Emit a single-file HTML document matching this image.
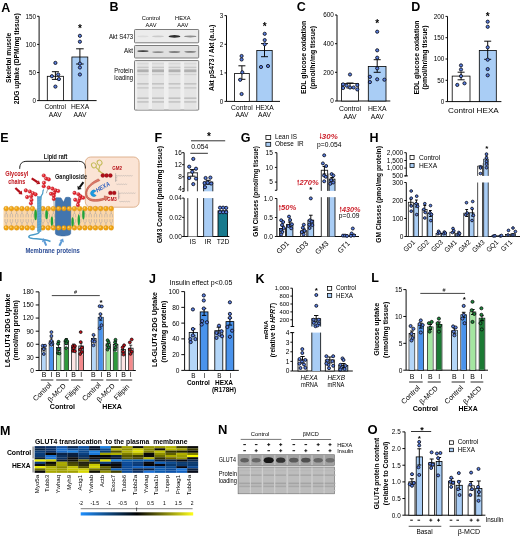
<!DOCTYPE html>
<html><head><meta charset="utf-8"><title>Figure</title>
<style>
html,body{margin:0;padding:0;background:#fff;}
body{width:520px;height:536px;overflow:hidden;}
svg{display:block;filter:blur(0.25px);}
</style></head><body>
<svg width="520" height="536" viewBox="0 0 520 536" font-family="'Liberation Sans', Arial, sans-serif">
<rect x="0" y="0" width="520" height="536" fill="#fff"/>
<text x="1.2" y="11.5" font-size="12.5" font-weight="bold">A</text>
<line x1="39.1" y1="16.3" x2="39.1" y2="100.6" stroke="#000" stroke-width="0.95" />
<line x1="37.1" y1="16.3" x2="39.1" y2="16.3" stroke="#000" stroke-width="0.95" />
<text x="35.9" y="18.57" font-size="6.3" text-anchor="end">150</text>
<line x1="37.1" y1="44.4" x2="39.1" y2="44.4" stroke="#000" stroke-width="0.95" />
<text x="35.9" y="46.67" font-size="6.3" text-anchor="end">100</text>
<line x1="37.1" y1="72.5" x2="39.1" y2="72.5" stroke="#000" stroke-width="0.95" />
<text x="35.9" y="74.77" font-size="6.3" text-anchor="end">50</text>
<line x1="37.1" y1="100.6" x2="39.1" y2="100.6" stroke="#000" stroke-width="0.95" />
<text x="35.9" y="102.87" font-size="6.3" text-anchor="end">0</text>
<line x1="39.1" y1="100.6" x2="96.6" y2="100.6" stroke="#000" stroke-width="0.95" />
<rect x="47.3" y="76.3" width="16.1" height="24.3" fill="#fff" stroke="#000" stroke-width="0.8" />
<rect x="71.9" y="57" width="15.9" height="43.6" fill="#a9cdf5" stroke="#000" stroke-width="0.8" />
<line x1="55.4" y1="71.7" x2="55.4" y2="79.4" stroke="#000" stroke-width="0.95" />
<line x1="51.9" y1="71.7" x2="58.9" y2="71.7" stroke="#000" stroke-width="0.95" />
<line x1="51.9" y1="79.4" x2="58.9" y2="79.4" stroke="#000" stroke-width="0.95" />
<line x1="79.9" y1="48.8" x2="79.9" y2="64" stroke="#000" stroke-width="0.95" />
<line x1="76.1" y1="48.8" x2="83.7" y2="48.8" stroke="#000" stroke-width="0.95" />
<line x1="76.1" y1="64" x2="83.7" y2="64" stroke="#000" stroke-width="0.95" />
<circle cx="55.4" cy="62.9" r="1.6" fill="#5a80e2" stroke="#0a0c18" stroke-width="0.85"/>
<circle cx="51.9" cy="76.2" r="1.6" fill="#5a80e2" stroke="#0a0c18" stroke-width="0.85"/>
<circle cx="58.2" cy="74.5" r="1.6" fill="#5a80e2" stroke="#0a0c18" stroke-width="0.85"/>
<circle cx="58.9" cy="79.1" r="1.6" fill="#5a80e2" stroke="#0a0c18" stroke-width="0.85"/>
<circle cx="55.4" cy="86.6" r="1.6" fill="#5a80e2" stroke="#0a0c18" stroke-width="0.85"/>
<circle cx="79.9" cy="35.8" r="1.6" fill="#5a80e2" stroke="#0a0c18" stroke-width="0.85"/>
<circle cx="79.9" cy="41.7" r="1.6" fill="#5a80e2" stroke="#0a0c18" stroke-width="0.85"/>
<circle cx="79.9" cy="63.6" r="1.6" fill="#5a80e2" stroke="#0a0c18" stroke-width="0.85"/>
<circle cx="79.9" cy="67.5" r="1.6" fill="#5a80e2" stroke="#0a0c18" stroke-width="0.85"/>
<circle cx="79.9" cy="74.5" r="1.6" fill="#5a80e2" stroke="#0a0c18" stroke-width="0.85"/>
<text x="79.9" y="31.7" font-size="10" text-anchor="middle" font-weight="bold">*</text>
<text x="55.3" y="109.4" font-size="6.7" text-anchor="middle">Control</text>
<text x="55.3" y="117.1" font-size="6.7" text-anchor="middle">AAV</text>
<text x="80" y="109.4" font-size="6.7" text-anchor="middle">HEXA</text>
<text x="80" y="117.1" font-size="6.7" text-anchor="middle">AAV</text>
<text x="11.5" y="57.8" font-size="6.8" textLength="50.2" lengthAdjust="spacingAndGlyphs" text-anchor="middle" font-weight="bold" transform="rotate(-90 11.5 57.8)">Skeletal muscle</text>
<text x="18.8" y="58.8" font-size="6.8" textLength="91" lengthAdjust="spacingAndGlyphs" text-anchor="middle" font-weight="bold" transform="rotate(-90 18.8 58.8)">2DG uptake (DPM/mg tissue)</text>
<text x="109.6" y="11" font-size="12.5" font-weight="bold">B</text>
<text x="151" y="19.6" font-size="5.7" text-anchor="middle">Control</text>
<text x="151" y="26.8" font-size="5.7" text-anchor="middle">AAV</text>
<text x="182.8" y="19.6" font-size="5.7" text-anchor="middle">HEXA</text>
<text x="182.8" y="26.8" font-size="5.7" text-anchor="middle">AAV</text>
<text x="108.9" y="38.7" font-size="6.4" textLength="24.2" lengthAdjust="spacingAndGlyphs">Akt S473</text>
<text x="124" y="52.7" font-size="6.4" textLength="9" lengthAdjust="spacingAndGlyphs">Akt</text>
<text x="114.3" y="72.8" font-size="6.4" textLength="18.6" lengthAdjust="spacingAndGlyphs">Protein</text>
<text x="114.3" y="79.9" font-size="6.4" textLength="18.6" lengthAdjust="spacingAndGlyphs">loading</text>
<rect x="134.5" y="29.5" width="64.2" height="13.3" rx="0.8" fill="#ececec" stroke="#6e6e6e" stroke-width="0.9"/>
<rect x="134.5" y="45.5" width="64.2" height="12.5" rx="0.8" fill="#e0e0e0" stroke="#6e6e6e" stroke-width="0.9"/>
<rect x="134.5" y="60.6" width="64.2" height="49.5" rx="0.8" fill="#efefef" stroke="#6e6e6e" stroke-width="0.9"/>
<ellipse cx="142.95" cy="36.4" rx="5.65" ry="0.8" fill="#dcdcdc"/>
<ellipse cx="158" cy="36.4" rx="6" ry="0.9" fill="#cacaca"/>
<ellipse cx="174.5" cy="36.4" rx="5.9" ry="1.3" fill="#303030"/>
<ellipse cx="190.3" cy="36.4" rx="6.1" ry="1" fill="#8e8e8e"/>
<ellipse cx="142.95" cy="51.1" rx="5.65" ry="0.9" fill="#3a3a3a"/>
<ellipse cx="158" cy="52.1" rx="6" ry="0.9" fill="#8a8a8a"/>
<ellipse cx="174.5" cy="52" rx="5.9" ry="0.9" fill="#808080"/>
<ellipse cx="190.3" cy="51.8" rx="6.1" ry="0.9" fill="#7a7a7a"/>
<rect x="137.3" y="61.5" width="11.3" height="48" fill="#e4e4e4" stroke="none" stroke-width="0.8" />
<rect x="152" y="61.5" width="12" height="48" fill="#e4e4e4" stroke="none" stroke-width="0.8" />
<rect x="168.6" y="61.5" width="11.8" height="48" fill="#e4e4e4" stroke="none" stroke-width="0.8" />
<rect x="184.2" y="61.5" width="12.2" height="48" fill="#e4e4e4" stroke="none" stroke-width="0.8" />
<rect x="137.3" y="63.1" width="11.3" height="1.2" fill="#d6d6d6" stroke="none" stroke-width="0.8" />
<rect x="137.3" y="66.7" width="11.3" height="1.4" fill="#c8c8c8" stroke="none" stroke-width="0.8" />
<rect x="137.3" y="69.4" width="11.3" height="2.8" fill="#b0b0b0" stroke="none" stroke-width="0.8" />
<rect x="137.3" y="73.9" width="11.3" height="1.2" fill="#d0d0d0" stroke="none" stroke-width="0.8" />
<rect x="137.3" y="83" width="11.3" height="1.6" fill="#c4c4c4" stroke="none" stroke-width="0.8" />
<rect x="137.3" y="87.2" width="11.3" height="1.4" fill="#c8c8c8" stroke="none" stroke-width="0.8" />
<rect x="137.3" y="97.4" width="11.3" height="1.6" fill="#c0c0c0" stroke="none" stroke-width="0.8" />
<rect x="137.3" y="101.1" width="11.3" height="1.6" fill="#c4c4c4" stroke="none" stroke-width="0.8" />
<rect x="152" y="63.1" width="12" height="1.2" fill="#d6d6d6" stroke="none" stroke-width="0.8" />
<rect x="152" y="66.7" width="12" height="1.4" fill="#c8c8c8" stroke="none" stroke-width="0.8" />
<rect x="152" y="69.4" width="12" height="2.8" fill="#b0b0b0" stroke="none" stroke-width="0.8" />
<rect x="152" y="73.9" width="12" height="1.2" fill="#d0d0d0" stroke="none" stroke-width="0.8" />
<rect x="152" y="83" width="12" height="1.6" fill="#c4c4c4" stroke="none" stroke-width="0.8" />
<rect x="152" y="87.2" width="12" height="1.4" fill="#c8c8c8" stroke="none" stroke-width="0.8" />
<rect x="152" y="97.4" width="12" height="1.6" fill="#c0c0c0" stroke="none" stroke-width="0.8" />
<rect x="152" y="101.1" width="12" height="1.6" fill="#c4c4c4" stroke="none" stroke-width="0.8" />
<rect x="168.6" y="63.1" width="11.8" height="1.2" fill="#d6d6d6" stroke="none" stroke-width="0.8" />
<rect x="168.6" y="66.7" width="11.8" height="1.4" fill="#c8c8c8" stroke="none" stroke-width="0.8" />
<rect x="168.6" y="69.4" width="11.8" height="2.8" fill="#b0b0b0" stroke="none" stroke-width="0.8" />
<rect x="168.6" y="73.9" width="11.8" height="1.2" fill="#d0d0d0" stroke="none" stroke-width="0.8" />
<rect x="168.6" y="83" width="11.8" height="1.6" fill="#c4c4c4" stroke="none" stroke-width="0.8" />
<rect x="168.6" y="87.2" width="11.8" height="1.4" fill="#c8c8c8" stroke="none" stroke-width="0.8" />
<rect x="168.6" y="97.4" width="11.8" height="1.6" fill="#c0c0c0" stroke="none" stroke-width="0.8" />
<rect x="168.6" y="101.1" width="11.8" height="1.6" fill="#c4c4c4" stroke="none" stroke-width="0.8" />
<rect x="184.2" y="63.1" width="12.2" height="1.2" fill="#d6d6d6" stroke="none" stroke-width="0.8" />
<rect x="184.2" y="66.7" width="12.2" height="1.4" fill="#c8c8c8" stroke="none" stroke-width="0.8" />
<rect x="184.2" y="69.4" width="12.2" height="2.8" fill="#b0b0b0" stroke="none" stroke-width="0.8" />
<rect x="184.2" y="73.9" width="12.2" height="1.2" fill="#d0d0d0" stroke="none" stroke-width="0.8" />
<rect x="184.2" y="83" width="12.2" height="1.6" fill="#c4c4c4" stroke="none" stroke-width="0.8" />
<rect x="184.2" y="87.2" width="12.2" height="1.4" fill="#c8c8c8" stroke="none" stroke-width="0.8" />
<rect x="184.2" y="97.4" width="12.2" height="1.6" fill="#c0c0c0" stroke="none" stroke-width="0.8" />
<rect x="184.2" y="101.1" width="12.2" height="1.6" fill="#c4c4c4" stroke="none" stroke-width="0.8" />
<line x1="226.5" y1="15.6" x2="226.5" y2="101.4" stroke="#000" stroke-width="0.95" />
<line x1="224.5" y1="15.6" x2="226.5" y2="15.6" stroke="#000" stroke-width="0.95" />
<text x="223.3" y="17.87" font-size="6.3" text-anchor="end">3</text>
<line x1="224.5" y1="44.3" x2="226.5" y2="44.3" stroke="#000" stroke-width="0.95" />
<text x="223.3" y="46.57" font-size="6.3" text-anchor="end">2</text>
<line x1="224.5" y1="72.9" x2="226.5" y2="72.9" stroke="#000" stroke-width="0.95" />
<text x="223.3" y="75.17" font-size="6.3" text-anchor="end">1</text>
<line x1="224.5" y1="101.4" x2="226.5" y2="101.4" stroke="#000" stroke-width="0.95" />
<text x="223.3" y="103.67" font-size="6.3" text-anchor="end">0</text>
<line x1="226.5" y1="101.4" x2="280" y2="101.4" stroke="#000" stroke-width="0.95" />
<rect x="234.6" y="73.5" width="14.7" height="27.9" fill="#fff" stroke="#000" stroke-width="0.8" />
<rect x="256.8" y="50.4" width="15.4" height="51" fill="#a9cdf5" stroke="#000" stroke-width="0.8" />
<line x1="241.9" y1="65.8" x2="241.9" y2="79.3" stroke="#000" stroke-width="0.95" />
<line x1="238.4" y1="65.8" x2="245.4" y2="65.8" stroke="#000" stroke-width="0.95" />
<line x1="238.4" y1="79.3" x2="245.4" y2="79.3" stroke="#000" stroke-width="0.95" />
<line x1="264.5" y1="43.6" x2="264.5" y2="56.7" stroke="#000" stroke-width="0.95" />
<line x1="261" y1="43.6" x2="268" y2="43.6" stroke="#000" stroke-width="0.95" />
<line x1="261" y1="56.7" x2="268" y2="56.7" stroke="#000" stroke-width="0.95" />
<circle cx="241.6" cy="56" r="1.6" fill="#5a80e2" stroke="#0a0c18" stroke-width="0.85"/>
<circle cx="241.6" cy="59.5" r="1.6" fill="#5a80e2" stroke="#0a0c18" stroke-width="0.85"/>
<circle cx="242.3" cy="72.3" r="1.6" fill="#5a80e2" stroke="#0a0c18" stroke-width="0.85"/>
<circle cx="240.2" cy="79.8" r="1.6" fill="#5a80e2" stroke="#0a0c18" stroke-width="0.85"/>
<circle cx="241.6" cy="94" r="1.6" fill="#5a80e2" stroke="#0a0c18" stroke-width="0.85"/>
<circle cx="264.7" cy="33.8" r="1.6" fill="#5a80e2" stroke="#0a0c18" stroke-width="0.85"/>
<circle cx="264.7" cy="40.1" r="1.6" fill="#5a80e2" stroke="#0a0c18" stroke-width="0.85"/>
<circle cx="264.7" cy="44.3" r="1.6" fill="#5a80e2" stroke="#0a0c18" stroke-width="0.85"/>
<circle cx="261" cy="67" r="1.6" fill="#5a80e2" stroke="#0a0c18" stroke-width="0.85"/>
<circle cx="268" cy="66" r="1.6" fill="#5a80e2" stroke="#0a0c18" stroke-width="0.85"/>
<text x="264.7" y="30.2" font-size="10" text-anchor="middle" font-weight="bold">*</text>
<text x="241.9" y="109.6" font-size="6.7" text-anchor="middle">Control</text>
<text x="241.9" y="117.3" font-size="6.7" text-anchor="middle">AAV</text>
<text x="264.5" y="109.6" font-size="6.7" text-anchor="middle">HEXA</text>
<text x="264.5" y="117.3" font-size="6.7" text-anchor="middle">AAV</text>
<text x="214" y="57.8" font-size="6.7" text-anchor="middle" font-weight="bold" transform="rotate(-90 214 57.8)">Akt pS473 / Akt (a.u.)</text>
<text x="296.8" y="11.3" font-size="12.5" font-weight="bold">C</text>
<line x1="337" y1="15" x2="337" y2="101" stroke="#000" stroke-width="0.95" />
<line x1="335" y1="15" x2="337" y2="15" stroke="#000" stroke-width="0.95" />
<text x="333.8" y="17.3" font-size="6.4" text-anchor="end">600</text>
<line x1="335" y1="43.7" x2="337" y2="43.7" stroke="#000" stroke-width="0.95" />
<text x="333.8" y="46" font-size="6.4" text-anchor="end">400</text>
<line x1="335" y1="72.3" x2="337" y2="72.3" stroke="#000" stroke-width="0.95" />
<text x="333.8" y="74.6" font-size="6.4" text-anchor="end">200</text>
<line x1="335" y1="101" x2="337" y2="101" stroke="#000" stroke-width="0.95" />
<text x="333.8" y="103.3" font-size="6.4" text-anchor="end">0</text>
<line x1="337" y1="101" x2="390.3" y2="101" stroke="#000" stroke-width="0.95" />
<rect x="341.6" y="83.5" width="16.8" height="17.5" fill="#fff" stroke="#000" stroke-width="0.8" />
<rect x="368.3" y="66.4" width="17.7" height="34.6" fill="#a9cdf5" stroke="#000" stroke-width="0.8" />
<line x1="350" y1="83" x2="350" y2="88" stroke="#000" stroke-width="0.95" />
<line x1="346.5" y1="83" x2="353.5" y2="83" stroke="#000" stroke-width="0.95" />
<line x1="346.5" y1="88" x2="353.5" y2="88" stroke="#000" stroke-width="0.95" />
<line x1="377.2" y1="59.7" x2="377.2" y2="72.3" stroke="#000" stroke-width="0.95" />
<line x1="373.7" y1="59.7" x2="380.7" y2="59.7" stroke="#000" stroke-width="0.95" />
<line x1="373.7" y1="72.3" x2="380.7" y2="72.3" stroke="#000" stroke-width="0.95" />
<circle cx="350" cy="74.5" r="1.6" fill="#5a80e2" stroke="#0a0c18" stroke-width="0.85"/>
<circle cx="343.1" cy="84.4" r="1.6" fill="#5a80e2" stroke="#0a0c18" stroke-width="0.85"/>
<circle cx="346.6" cy="85.6" r="1.6" fill="#5a80e2" stroke="#0a0c18" stroke-width="0.85"/>
<circle cx="350" cy="87.5" r="1.6" fill="#5a80e2" stroke="#0a0c18" stroke-width="0.85"/>
<circle cx="353.6" cy="87.5" r="1.6" fill="#5a80e2" stroke="#0a0c18" stroke-width="0.85"/>
<circle cx="357.3" cy="85" r="1.6" fill="#5a80e2" stroke="#0a0c18" stroke-width="0.85"/>
<circle cx="343.1" cy="88" r="1.6" fill="#5a80e2" stroke="#0a0c18" stroke-width="0.85"/>
<circle cx="357.3" cy="89.4" r="1.6" fill="#5a80e2" stroke="#0a0c18" stroke-width="0.85"/>
<circle cx="377.2" cy="31.7" r="1.6" fill="#5a80e2" stroke="#0a0c18" stroke-width="0.85"/>
<circle cx="377.2" cy="50.3" r="1.6" fill="#5a80e2" stroke="#0a0c18" stroke-width="0.85"/>
<circle cx="377.2" cy="57.7" r="1.6" fill="#5a80e2" stroke="#0a0c18" stroke-width="0.85"/>
<circle cx="377.2" cy="68.3" r="1.6" fill="#5a80e2" stroke="#0a0c18" stroke-width="0.85"/>
<circle cx="369.9" cy="76.8" r="1.6" fill="#5a80e2" stroke="#0a0c18" stroke-width="0.85"/>
<circle cx="377.2" cy="79.3" r="1.6" fill="#5a80e2" stroke="#0a0c18" stroke-width="0.85"/>
<circle cx="384.4" cy="79.7" r="1.6" fill="#5a80e2" stroke="#0a0c18" stroke-width="0.85"/>
<circle cx="369.9" cy="82.1" r="1.6" fill="#5a80e2" stroke="#0a0c18" stroke-width="0.85"/>
<text x="377.2" y="26.5" font-size="10" text-anchor="middle" font-weight="bold">*</text>
<text x="350" y="111.1" font-size="6.8" text-anchor="middle">Control</text>
<text x="350" y="118.9" font-size="6.8" text-anchor="middle">AAV</text>
<text x="377.2" y="111.1" font-size="6.8" text-anchor="middle">HEXA</text>
<text x="377.2" y="118.9" font-size="6.8" text-anchor="middle">AAV</text>
<text x="306.4" y="57.5" font-size="6.8" text-anchor="middle" font-weight="bold" transform="rotate(-90 306.4 57.5)">EDL glucose oxidation</text>
<text x="314.6" y="57.5" font-size="6.8" text-anchor="middle" font-weight="bold" transform="rotate(-90 314.6 57.5)">(pmol/hr/mg tissue)</text>
<text x="411.3" y="10.8" font-size="12.5" font-weight="bold">D</text>
<line x1="447.5" y1="16.4" x2="447.5" y2="101.6" stroke="#000" stroke-width="0.95" />
<line x1="445.5" y1="16.4" x2="447.5" y2="16.4" stroke="#000" stroke-width="0.95" />
<text x="444.3" y="18.7" font-size="6.4" text-anchor="end">200</text>
<line x1="445.5" y1="37.7" x2="447.5" y2="37.7" stroke="#000" stroke-width="0.95" />
<text x="444.3" y="40" font-size="6.4" text-anchor="end">150</text>
<line x1="445.5" y1="59" x2="447.5" y2="59" stroke="#000" stroke-width="0.95" />
<text x="444.3" y="61.3" font-size="6.4" text-anchor="end">100</text>
<line x1="445.5" y1="80.3" x2="447.5" y2="80.3" stroke="#000" stroke-width="0.95" />
<text x="444.3" y="82.6" font-size="6.4" text-anchor="end">50</text>
<line x1="445.5" y1="101.6" x2="447.5" y2="101.6" stroke="#000" stroke-width="0.95" />
<text x="444.3" y="103.9" font-size="6.4" text-anchor="end">0</text>
<line x1="447.5" y1="101.6" x2="501.4" y2="101.6" stroke="#000" stroke-width="0.95" />
<rect x="452.2" y="76.1" width="17.8" height="25.5" fill="#fff" stroke="#000" stroke-width="0.8" />
<rect x="479.3" y="50.4" width="17" height="51.2" fill="#a9cdf5" stroke="#000" stroke-width="0.8" />
<line x1="461.1" y1="72.2" x2="461.1" y2="79.8" stroke="#000" stroke-width="0.95" />
<line x1="457.6" y1="72.2" x2="464.6" y2="72.2" stroke="#000" stroke-width="0.95" />
<line x1="457.6" y1="79.8" x2="464.6" y2="79.8" stroke="#000" stroke-width="0.95" />
<line x1="487.7" y1="41.2" x2="487.7" y2="59.3" stroke="#000" stroke-width="0.95" />
<line x1="484.2" y1="41.2" x2="491.2" y2="41.2" stroke="#000" stroke-width="0.95" />
<line x1="484.2" y1="59.3" x2="491.2" y2="59.3" stroke="#000" stroke-width="0.95" />
<circle cx="461" cy="65.4" r="1.6" fill="#5a80e2" stroke="#0a0c18" stroke-width="0.85"/>
<circle cx="461" cy="69.5" r="1.6" fill="#5a80e2" stroke="#0a0c18" stroke-width="0.85"/>
<circle cx="461" cy="76.1" r="1.6" fill="#5a80e2" stroke="#0a0c18" stroke-width="0.85"/>
<circle cx="457.3" cy="84.9" r="1.6" fill="#5a80e2" stroke="#0a0c18" stroke-width="0.85"/>
<circle cx="464.5" cy="83.3" r="1.6" fill="#5a80e2" stroke="#0a0c18" stroke-width="0.85"/>
<circle cx="487.7" cy="21.7" r="1.6" fill="#5a80e2" stroke="#0a0c18" stroke-width="0.85"/>
<circle cx="487.7" cy="26.8" r="1.6" fill="#5a80e2" stroke="#0a0c18" stroke-width="0.85"/>
<circle cx="487.7" cy="47.3" r="1.6" fill="#5a80e2" stroke="#0a0c18" stroke-width="0.85"/>
<circle cx="487.7" cy="59.7" r="1.6" fill="#5a80e2" stroke="#0a0c18" stroke-width="0.85"/>
<circle cx="487.7" cy="69.1" r="1.6" fill="#5a80e2" stroke="#0a0c18" stroke-width="0.85"/>
<circle cx="487.7" cy="75.3" r="1.6" fill="#5a80e2" stroke="#0a0c18" stroke-width="0.85"/>
<text x="487.7" y="20.1" font-size="10" text-anchor="middle" font-weight="bold">*</text>
<text x="448" y="112.6" font-size="7.6" textLength="50.8" lengthAdjust="spacingAndGlyphs">Control HEXA</text>
<text x="418.5" y="57.5" font-size="6.9" text-anchor="middle" font-weight="bold" transform="rotate(-90 418.5 57.5)">EDL glucose oxidation</text>
<text x="427" y="57.5" font-size="6.9" text-anchor="middle" font-weight="bold" transform="rotate(-90 427 57.5)">(pmol/hr/mg tissue)</text>
<text x="0.2" y="141.8" font-size="12.5" font-weight="bold">E</text>
<rect x="85.3" y="157.0" width="53.8" height="50.2" rx="5.4" ry="5.4" fill="#fbe4d5" stroke="#d9a87f" stroke-width="0.85"/>
<path d="M19.7,168.8 C19.7,164 21.5,161.3 27,161.3 L78.5,161.3 C83.5,161.3 85.4,164 85.4,168.5" fill="none" stroke="#1a1a1a" stroke-width="1" />
<text x="43.8" y="159.1" font-size="6.6" textLength="23.6" lengthAdjust="spacingAndGlyphs" font-weight="bold" fill="#111">Lipid raft</text>
<text x="5.3" y="175.8" font-size="6.9" textLength="23" lengthAdjust="spacingAndGlyphs" font-weight="bold" fill="#c0141c">Glycosyl</text>
<text x="8.2" y="183.7" font-size="6.9" textLength="17.2" lengthAdjust="spacingAndGlyphs" font-weight="bold" fill="#c0141c">chains</text>
<text x="55" y="179.2" font-size="6.9" textLength="32" lengthAdjust="spacingAndGlyphs" font-weight="bold" fill="#151515">Ganglioside</text>
<line x1="15.4" y1="188" x2="20.1" y2="192.36" stroke="#b2101a" stroke-width="2.2" />
<polygon points="22.3,194.4 18.47,194.12 21.73,190.6" fill="#b2101a"/>
<line x1="31.7" y1="178.4" x2="37.59" y2="182.26" stroke="#b2101a" stroke-width="2.2" />
<polygon points="40.1,183.9 36.28,184.26 38.9,180.25" fill="#b2101a"/>
<line x1="83.4" y1="182.2" x2="79.58" y2="187.38" stroke="#111" stroke-width="2" />
<polygon points="77.8,189.8 77.49,185.84 81.67,188.93" fill="#111"/>
<rect x="3.5" y="208.6" width="110.5" height="19.3" fill="#fbd7a8" stroke="none" stroke-width="0.8" />
<path d="M6.2,210.9 L6.2,213.1 M6.2,213.1 L5,214.7 L5,217.4 M6.2,213.1 L7.4,214.7 L7.4,217.4" fill="none" stroke="#9696a6" stroke-width="0.45" />
<path d="M6.2,225.6 L6.2,223.4 M6.2,223.4 L5,221.8 L5,219.1 M6.2,223.4 L7.4,221.8 L7.4,219.1" fill="none" stroke="#9696a6" stroke-width="0.45" />
<path d="M11.45,210.9 L11.45,213.1 M11.45,213.1 L10.25,214.7 L10.25,217.4 M11.45,213.1 L12.65,214.7 L12.65,217.4" fill="none" stroke="#9696a6" stroke-width="0.45" />
<path d="M11.45,225.6 L11.45,223.4 M11.45,223.4 L10.25,221.8 L10.25,219.1 M11.45,223.4 L12.65,221.8 L12.65,219.1" fill="none" stroke="#9696a6" stroke-width="0.45" />
<path d="M16.7,210.9 L16.7,213.1 M16.7,213.1 L15.5,214.7 L15.5,217.4 M16.7,213.1 L17.9,214.7 L17.9,217.4" fill="none" stroke="#9696a6" stroke-width="0.45" />
<path d="M16.7,225.6 L16.7,223.4 M16.7,223.4 L15.5,221.8 L15.5,219.1 M16.7,223.4 L17.9,221.8 L17.9,219.1" fill="none" stroke="#9696a6" stroke-width="0.45" />
<path d="M21.95,210.9 L21.95,213.1 M21.95,213.1 L20.75,214.7 L20.75,217.4 M21.95,213.1 L23.15,214.7 L23.15,217.4" fill="none" stroke="#9696a6" stroke-width="0.45" />
<path d="M21.95,225.6 L21.95,223.4 M21.95,223.4 L20.75,221.8 L20.75,219.1 M21.95,223.4 L23.15,221.8 L23.15,219.1" fill="none" stroke="#9696a6" stroke-width="0.45" />
<path d="M27.2,210.9 L27.2,213.1 M27.2,213.1 L26,214.7 L26,217.4 M27.2,213.1 L28.4,214.7 L28.4,217.4" fill="none" stroke="#9696a6" stroke-width="0.45" />
<path d="M27.2,225.6 L27.2,223.4 M27.2,223.4 L26,221.8 L26,219.1 M27.2,223.4 L28.4,221.8 L28.4,219.1" fill="none" stroke="#9696a6" stroke-width="0.45" />
<path d="M32.45,210.9 L32.45,213.1 M32.45,213.1 L31.25,214.7 L31.25,217.4 M32.45,213.1 L33.65,214.7 L33.65,217.4" fill="none" stroke="#9696a6" stroke-width="0.45" />
<path d="M32.45,225.6 L32.45,223.4 M32.45,223.4 L31.25,221.8 L31.25,219.1 M32.45,223.4 L33.65,221.8 L33.65,219.1" fill="none" stroke="#9696a6" stroke-width="0.45" />
<path d="M42.95,210.9 L42.95,213.1 M42.95,213.1 L41.75,214.7 L41.75,217.4 M42.95,213.1 L44.15,214.7 L44.15,217.4" fill="none" stroke="#9696a6" stroke-width="0.45" />
<path d="M42.95,225.6 L42.95,223.4 M42.95,223.4 L41.75,221.8 L41.75,219.1 M42.95,223.4 L44.15,221.8 L44.15,219.1" fill="none" stroke="#9696a6" stroke-width="0.45" />
<path d="M48.2,210.9 L48.2,213.1 M48.2,213.1 L47,214.7 L47,217.4 M48.2,213.1 L49.4,214.7 L49.4,217.4" fill="none" stroke="#9696a6" stroke-width="0.45" />
<path d="M48.2,225.6 L48.2,223.4 M48.2,223.4 L47,221.8 L47,219.1 M48.2,223.4 L49.4,221.8 L49.4,219.1" fill="none" stroke="#9696a6" stroke-width="0.45" />
<path d="M53.45,210.9 L53.45,213.1 M53.45,213.1 L52.25,214.7 L52.25,217.4 M53.45,213.1 L54.65,214.7 L54.65,217.4" fill="none" stroke="#9696a6" stroke-width="0.45" />
<path d="M53.45,225.6 L53.45,223.4 M53.45,223.4 L52.25,221.8 L52.25,219.1 M53.45,223.4 L54.65,221.8 L54.65,219.1" fill="none" stroke="#9696a6" stroke-width="0.45" />
<path d="M58.7,210.9 L58.7,213.1 M58.7,213.1 L57.5,214.7 L57.5,217.4 M58.7,213.1 L59.9,214.7 L59.9,217.4" fill="none" stroke="#9696a6" stroke-width="0.45" />
<path d="M58.7,225.6 L58.7,223.4 M58.7,223.4 L57.5,221.8 L57.5,219.1 M58.7,223.4 L59.9,221.8 L59.9,219.1" fill="none" stroke="#9696a6" stroke-width="0.45" />
<path d="M63.95,210.9 L63.95,213.1 M63.95,213.1 L62.75,214.7 L62.75,217.4 M63.95,213.1 L65.15,214.7 L65.15,217.4" fill="none" stroke="#9696a6" stroke-width="0.45" />
<path d="M63.95,225.6 L63.95,223.4 M63.95,223.4 L62.75,221.8 L62.75,219.1 M63.95,223.4 L65.15,221.8 L65.15,219.1" fill="none" stroke="#9696a6" stroke-width="0.45" />
<path d="M69.2,210.9 L69.2,213.1 M69.2,213.1 L68,214.7 L68,217.4 M69.2,213.1 L70.4,214.7 L70.4,217.4" fill="none" stroke="#9696a6" stroke-width="0.45" />
<path d="M69.2,225.6 L69.2,223.4 M69.2,223.4 L68,221.8 L68,219.1 M69.2,223.4 L70.4,221.8 L70.4,219.1" fill="none" stroke="#9696a6" stroke-width="0.45" />
<path d="M74.45,210.9 L74.45,213.1 M74.45,213.1 L73.25,214.7 L73.25,217.4 M74.45,213.1 L75.65,214.7 L75.65,217.4" fill="none" stroke="#9696a6" stroke-width="0.45" />
<path d="M74.45,225.6 L74.45,223.4 M74.45,223.4 L73.25,221.8 L73.25,219.1 M74.45,223.4 L75.65,221.8 L75.65,219.1" fill="none" stroke="#9696a6" stroke-width="0.45" />
<path d="M79.7,210.9 L79.7,213.1 M79.7,213.1 L78.5,214.7 L78.5,217.4 M79.7,213.1 L80.9,214.7 L80.9,217.4" fill="none" stroke="#9696a6" stroke-width="0.45" />
<path d="M79.7,225.6 L79.7,223.4 M79.7,223.4 L78.5,221.8 L78.5,219.1 M79.7,223.4 L80.9,221.8 L80.9,219.1" fill="none" stroke="#9696a6" stroke-width="0.45" />
<path d="M84.95,210.9 L84.95,213.1 M84.95,213.1 L83.75,214.7 L83.75,217.4 M84.95,213.1 L86.15,214.7 L86.15,217.4" fill="none" stroke="#9696a6" stroke-width="0.45" />
<path d="M84.95,225.6 L84.95,223.4 M84.95,223.4 L83.75,221.8 L83.75,219.1 M84.95,223.4 L86.15,221.8 L86.15,219.1" fill="none" stroke="#9696a6" stroke-width="0.45" />
<path d="M90.2,210.9 L90.2,213.1 M90.2,213.1 L89,214.7 L89,217.4 M90.2,213.1 L91.4,214.7 L91.4,217.4" fill="none" stroke="#9696a6" stroke-width="0.45" />
<path d="M90.2,225.6 L90.2,223.4 M90.2,223.4 L89,221.8 L89,219.1 M90.2,223.4 L91.4,221.8 L91.4,219.1" fill="none" stroke="#9696a6" stroke-width="0.45" />
<path d="M95.45,210.9 L95.45,213.1 M95.45,213.1 L94.25,214.7 L94.25,217.4 M95.45,213.1 L96.65,214.7 L96.65,217.4" fill="none" stroke="#9696a6" stroke-width="0.45" />
<path d="M95.45,225.6 L95.45,223.4 M95.45,223.4 L94.25,221.8 L94.25,219.1 M95.45,223.4 L96.65,221.8 L96.65,219.1" fill="none" stroke="#9696a6" stroke-width="0.45" />
<path d="M100.7,210.9 L100.7,213.1 M100.7,213.1 L99.5,214.7 L99.5,217.4 M100.7,213.1 L101.9,214.7 L101.9,217.4" fill="none" stroke="#9696a6" stroke-width="0.45" />
<path d="M100.7,225.6 L100.7,223.4 M100.7,223.4 L99.5,221.8 L99.5,219.1 M100.7,223.4 L101.9,221.8 L101.9,219.1" fill="none" stroke="#9696a6" stroke-width="0.45" />
<path d="M105.95,210.9 L105.95,213.1 M105.95,213.1 L104.75,214.7 L104.75,217.4 M105.95,213.1 L107.15,214.7 L107.15,217.4" fill="none" stroke="#9696a6" stroke-width="0.45" />
<path d="M105.95,225.6 L105.95,223.4 M105.95,223.4 L104.75,221.8 L104.75,219.1 M105.95,223.4 L107.15,221.8 L107.15,219.1" fill="none" stroke="#9696a6" stroke-width="0.45" />
<path d="M111.2,210.9 L111.2,213.1 M111.2,213.1 L110,214.7 L110,217.4 M111.2,213.1 L112.4,214.7 L112.4,217.4" fill="none" stroke="#9696a6" stroke-width="0.45" />
<path d="M111.2,225.6 L111.2,223.4 M111.2,223.4 L110,221.8 L110,219.1 M111.2,223.4 L112.4,221.8 L112.4,219.1" fill="none" stroke="#9696a6" stroke-width="0.45" />
<ellipse cx="35.6" cy="214.9" rx="1.35" ry="5.4" fill="#1fa33a"/>
<ellipse cx="46.6" cy="214.4" rx="1.35" ry="4.9" fill="#1fa33a"/>
<ellipse cx="51.9" cy="221.2" rx="1.2" ry="4.8" fill="#1fa33a"/>
<ellipse cx="72.6" cy="222.3" rx="1.2" ry="5" fill="#1fa33a"/>
<ellipse cx="78.8" cy="220" rx="1.2" ry="5.8" fill="#1fa33a"/>
<ellipse cx="83.4" cy="214.6" rx="1.2" ry="5" fill="#1fa33a"/>
<path d="M55.4,199.0 C55.4,197.4 56.8,197.6 58.5,197.7 L61.0,197.9 L63.5,202.2 L65.6,197.6 C67,197.0 70.6,197.0 70.7,198.6 L70.7,233.5 C70.7,236.8 55.4,236.8 55.4,233.5 Z" fill="#4275ae" stroke="#2f5f94" stroke-width="0.5" />
<circle cx="6.2" cy="208.6" r="2.4" fill="#f0a212" stroke="#d2870a" stroke-width="0.35"/>
<circle cx="5.6" cy="207.9" r="0.85" fill="#fbd266" stroke="none" stroke-width="0.5"/>
<circle cx="6.2" cy="227.9" r="2.4" fill="#f0a212" stroke="#d2870a" stroke-width="0.35"/>
<circle cx="5.6" cy="227.2" r="0.85" fill="#fbd266" stroke="none" stroke-width="0.5"/>
<circle cx="11.45" cy="208.6" r="2.4" fill="#f0a212" stroke="#d2870a" stroke-width="0.35"/>
<circle cx="10.85" cy="207.9" r="0.85" fill="#fbd266" stroke="none" stroke-width="0.5"/>
<circle cx="11.45" cy="227.9" r="2.4" fill="#f0a212" stroke="#d2870a" stroke-width="0.35"/>
<circle cx="10.85" cy="227.2" r="0.85" fill="#fbd266" stroke="none" stroke-width="0.5"/>
<circle cx="16.7" cy="208.6" r="2.4" fill="#f0a212" stroke="#d2870a" stroke-width="0.35"/>
<circle cx="16.1" cy="207.9" r="0.85" fill="#fbd266" stroke="none" stroke-width="0.5"/>
<circle cx="16.7" cy="227.9" r="2.4" fill="#f0a212" stroke="#d2870a" stroke-width="0.35"/>
<circle cx="16.1" cy="227.2" r="0.85" fill="#fbd266" stroke="none" stroke-width="0.5"/>
<circle cx="21.95" cy="208.6" r="2.4" fill="#f0a212" stroke="#d2870a" stroke-width="0.35"/>
<circle cx="21.35" cy="207.9" r="0.85" fill="#fbd266" stroke="none" stroke-width="0.5"/>
<circle cx="21.95" cy="227.9" r="2.4" fill="#f0a212" stroke="#d2870a" stroke-width="0.35"/>
<circle cx="21.35" cy="227.2" r="0.85" fill="#fbd266" stroke="none" stroke-width="0.5"/>
<circle cx="27.2" cy="208.6" r="2.4" fill="#f0a212" stroke="#d2870a" stroke-width="0.35"/>
<circle cx="26.6" cy="207.9" r="0.85" fill="#fbd266" stroke="none" stroke-width="0.5"/>
<circle cx="27.2" cy="227.9" r="2.4" fill="#f0a212" stroke="#d2870a" stroke-width="0.35"/>
<circle cx="26.6" cy="227.2" r="0.85" fill="#fbd266" stroke="none" stroke-width="0.5"/>
<circle cx="32.45" cy="208.6" r="2.4" fill="#f0a212" stroke="#d2870a" stroke-width="0.35"/>
<circle cx="31.85" cy="207.9" r="0.85" fill="#fbd266" stroke="none" stroke-width="0.5"/>
<circle cx="32.45" cy="227.9" r="2.4" fill="#f0a212" stroke="#d2870a" stroke-width="0.35"/>
<circle cx="31.85" cy="227.2" r="0.85" fill="#fbd266" stroke="none" stroke-width="0.5"/>
<circle cx="42.95" cy="208.6" r="2.4" fill="#f0a212" stroke="#d2870a" stroke-width="0.35"/>
<circle cx="42.35" cy="207.9" r="0.85" fill="#fbd266" stroke="none" stroke-width="0.5"/>
<circle cx="42.95" cy="227.9" r="2.4" fill="#f0a212" stroke="#d2870a" stroke-width="0.35"/>
<circle cx="42.35" cy="227.2" r="0.85" fill="#fbd266" stroke="none" stroke-width="0.5"/>
<circle cx="48.2" cy="208.6" r="2.4" fill="#f0a212" stroke="#d2870a" stroke-width="0.35"/>
<circle cx="47.6" cy="207.9" r="0.85" fill="#fbd266" stroke="none" stroke-width="0.5"/>
<circle cx="48.2" cy="227.9" r="2.4" fill="#f0a212" stroke="#d2870a" stroke-width="0.35"/>
<circle cx="47.6" cy="227.2" r="0.85" fill="#fbd266" stroke="none" stroke-width="0.5"/>
<circle cx="53.45" cy="208.6" r="2.4" fill="#f0a212" stroke="#d2870a" stroke-width="0.35"/>
<circle cx="52.85" cy="207.9" r="0.85" fill="#fbd266" stroke="none" stroke-width="0.5"/>
<circle cx="53.45" cy="227.9" r="2.4" fill="#f0a212" stroke="#d2870a" stroke-width="0.35"/>
<circle cx="52.85" cy="227.2" r="0.85" fill="#fbd266" stroke="none" stroke-width="0.5"/>
<circle cx="58.7" cy="208.6" r="2.4" fill="#f0a212" stroke="#d2870a" stroke-width="0.35"/>
<circle cx="58.1" cy="207.9" r="0.85" fill="#fbd266" stroke="none" stroke-width="0.5"/>
<circle cx="58.7" cy="227.9" r="2.4" fill="#f0a212" stroke="#d2870a" stroke-width="0.35"/>
<circle cx="58.1" cy="227.2" r="0.85" fill="#fbd266" stroke="none" stroke-width="0.5"/>
<circle cx="63.95" cy="208.6" r="2.4" fill="#f0a212" stroke="#d2870a" stroke-width="0.35"/>
<circle cx="63.35" cy="207.9" r="0.85" fill="#fbd266" stroke="none" stroke-width="0.5"/>
<circle cx="63.95" cy="227.9" r="2.4" fill="#f0a212" stroke="#d2870a" stroke-width="0.35"/>
<circle cx="63.35" cy="227.2" r="0.85" fill="#fbd266" stroke="none" stroke-width="0.5"/>
<circle cx="69.2" cy="208.6" r="2.4" fill="#f0a212" stroke="#d2870a" stroke-width="0.35"/>
<circle cx="68.6" cy="207.9" r="0.85" fill="#fbd266" stroke="none" stroke-width="0.5"/>
<circle cx="69.2" cy="227.9" r="2.4" fill="#f0a212" stroke="#d2870a" stroke-width="0.35"/>
<circle cx="68.6" cy="227.2" r="0.85" fill="#fbd266" stroke="none" stroke-width="0.5"/>
<circle cx="74.45" cy="208.6" r="2.4" fill="#f0a212" stroke="#d2870a" stroke-width="0.35"/>
<circle cx="73.85" cy="207.9" r="0.85" fill="#fbd266" stroke="none" stroke-width="0.5"/>
<circle cx="74.45" cy="227.9" r="2.4" fill="#f0a212" stroke="#d2870a" stroke-width="0.35"/>
<circle cx="73.85" cy="227.2" r="0.85" fill="#fbd266" stroke="none" stroke-width="0.5"/>
<circle cx="79.7" cy="208.6" r="2.4" fill="#f0a212" stroke="#d2870a" stroke-width="0.35"/>
<circle cx="79.1" cy="207.9" r="0.85" fill="#fbd266" stroke="none" stroke-width="0.5"/>
<circle cx="79.7" cy="227.9" r="2.4" fill="#f0a212" stroke="#d2870a" stroke-width="0.35"/>
<circle cx="79.1" cy="227.2" r="0.85" fill="#fbd266" stroke="none" stroke-width="0.5"/>
<circle cx="84.95" cy="208.6" r="2.4" fill="#f0a212" stroke="#d2870a" stroke-width="0.35"/>
<circle cx="84.35" cy="207.9" r="0.85" fill="#fbd266" stroke="none" stroke-width="0.5"/>
<circle cx="84.95" cy="227.9" r="2.4" fill="#f0a212" stroke="#d2870a" stroke-width="0.35"/>
<circle cx="84.35" cy="227.2" r="0.85" fill="#fbd266" stroke="none" stroke-width="0.5"/>
<circle cx="90.2" cy="208.6" r="2.4" fill="#f0a212" stroke="#d2870a" stroke-width="0.35"/>
<circle cx="89.6" cy="207.9" r="0.85" fill="#fbd266" stroke="none" stroke-width="0.5"/>
<circle cx="90.2" cy="227.9" r="2.4" fill="#f0a212" stroke="#d2870a" stroke-width="0.35"/>
<circle cx="89.6" cy="227.2" r="0.85" fill="#fbd266" stroke="none" stroke-width="0.5"/>
<circle cx="95.45" cy="208.6" r="2.4" fill="#f0a212" stroke="#d2870a" stroke-width="0.35"/>
<circle cx="94.85" cy="207.9" r="0.85" fill="#fbd266" stroke="none" stroke-width="0.5"/>
<circle cx="95.45" cy="227.9" r="2.4" fill="#f0a212" stroke="#d2870a" stroke-width="0.35"/>
<circle cx="94.85" cy="227.2" r="0.85" fill="#fbd266" stroke="none" stroke-width="0.5"/>
<circle cx="100.7" cy="208.6" r="2.4" fill="#f0a212" stroke="#d2870a" stroke-width="0.35"/>
<circle cx="100.1" cy="207.9" r="0.85" fill="#fbd266" stroke="none" stroke-width="0.5"/>
<circle cx="100.7" cy="227.9" r="2.4" fill="#f0a212" stroke="#d2870a" stroke-width="0.35"/>
<circle cx="100.1" cy="227.2" r="0.85" fill="#fbd266" stroke="none" stroke-width="0.5"/>
<circle cx="105.95" cy="208.6" r="2.4" fill="#f0a212" stroke="#d2870a" stroke-width="0.35"/>
<circle cx="105.35" cy="207.9" r="0.85" fill="#fbd266" stroke="none" stroke-width="0.5"/>
<circle cx="105.95" cy="227.9" r="2.4" fill="#f0a212" stroke="#d2870a" stroke-width="0.35"/>
<circle cx="105.35" cy="227.2" r="0.85" fill="#fbd266" stroke="none" stroke-width="0.5"/>
<circle cx="111.2" cy="208.6" r="2.4" fill="#f0a212" stroke="#d2870a" stroke-width="0.35"/>
<circle cx="110.6" cy="207.9" r="0.85" fill="#fbd266" stroke="none" stroke-width="0.5"/>
<circle cx="111.2" cy="227.9" r="2.4" fill="#f0a212" stroke="#d2870a" stroke-width="0.35"/>
<circle cx="110.6" cy="227.2" r="0.85" fill="#fbd266" stroke="none" stroke-width="0.5"/>
<path d="M43.8,189.5 C41.8,191 44,193 41.8,195 C39.8,197 42.2,199 39.6,201.5" fill="none" stroke="#4a9bc8" stroke-width="1.2" />
<rect x="37.3" y="196.5" width="3.8" height="35" fill="#62acd6" stroke="#4590bd" stroke-width="0.4" />
<line x1="37.5" y1="197" x2="40.9" y2="197.7" stroke="#3a80b0" stroke-width="0.35" />
<line x1="37.5" y1="198.6" x2="40.9" y2="199.3" stroke="#3a80b0" stroke-width="0.35" />
<line x1="37.5" y1="200.2" x2="40.9" y2="200.9" stroke="#3a80b0" stroke-width="0.35" />
<line x1="37.5" y1="201.8" x2="40.9" y2="202.5" stroke="#3a80b0" stroke-width="0.35" />
<line x1="37.5" y1="203.4" x2="40.9" y2="204.1" stroke="#3a80b0" stroke-width="0.35" />
<line x1="37.5" y1="205" x2="40.9" y2="205.7" stroke="#3a80b0" stroke-width="0.35" />
<line x1="37.5" y1="206.6" x2="40.9" y2="207.3" stroke="#3a80b0" stroke-width="0.35" />
<line x1="37.5" y1="208.2" x2="40.9" y2="208.9" stroke="#3a80b0" stroke-width="0.35" />
<line x1="37.5" y1="209.8" x2="40.9" y2="210.5" stroke="#3a80b0" stroke-width="0.35" />
<line x1="37.5" y1="211.4" x2="40.9" y2="212.1" stroke="#3a80b0" stroke-width="0.35" />
<line x1="37.5" y1="213" x2="40.9" y2="213.7" stroke="#3a80b0" stroke-width="0.35" />
<line x1="37.5" y1="214.6" x2="40.9" y2="215.3" stroke="#3a80b0" stroke-width="0.35" />
<line x1="37.5" y1="216.2" x2="40.9" y2="216.9" stroke="#3a80b0" stroke-width="0.35" />
<line x1="37.5" y1="217.8" x2="40.9" y2="218.5" stroke="#3a80b0" stroke-width="0.35" />
<line x1="37.5" y1="219.4" x2="40.9" y2="220.1" stroke="#3a80b0" stroke-width="0.35" />
<line x1="37.5" y1="221" x2="40.9" y2="221.7" stroke="#3a80b0" stroke-width="0.35" />
<line x1="37.5" y1="222.6" x2="40.9" y2="223.3" stroke="#3a80b0" stroke-width="0.35" />
<line x1="37.5" y1="224.2" x2="40.9" y2="224.9" stroke="#3a80b0" stroke-width="0.35" />
<line x1="37.5" y1="225.8" x2="40.9" y2="226.5" stroke="#3a80b0" stroke-width="0.35" />
<line x1="37.5" y1="227.4" x2="40.9" y2="228.1" stroke="#3a80b0" stroke-width="0.35" />
<line x1="37.5" y1="229" x2="40.9" y2="229.7" stroke="#3a80b0" stroke-width="0.35" />
<line x1="37.5" y1="230.6" x2="40.9" y2="231.3" stroke="#3a80b0" stroke-width="0.35" />
<path d="M39.3,231.5 C39,236 28.5,233.5 28.8,236.8 C29.3,240 42,237.5 50.5,241.5" fill="none" stroke="#4a9bc8" stroke-width="1.5" />
<line x1="46.3" y1="245.6" x2="44.32" y2="241.22" stroke="#5b9ad6" stroke-width="2" />
<polygon points="43,238.3 46.6,240.19 42.04,242.25" fill="#5b9ad6"/>
<line x1="59.4" y1="245.8" x2="61.67" y2="241.26" stroke="#5b9ad6" stroke-width="2" />
<polygon points="63.1,238.4 63.9,242.38 59.43,240.14" fill="#5b9ad6"/>
<text x="25.4" y="252.6" font-size="6.9" textLength="54.4" lengthAdjust="spacingAndGlyphs" font-weight="bold" fill="#2c4d96">Membrane proteins</text>
<path d="M30.9,203.2 L31.6,206.4 M53.8,198.9 L54.2,206.2 M77.9,204.9 L76.8,206.6 M48.7,187.6 L47.5,190 L46.3,193.2" fill="none" stroke="#555" stroke-width="0.5" />
<circle cx="25.8" cy="190.4" r="1.8" fill="#e3222c" stroke="#a60d15" stroke-width="0.3"/>
<circle cx="25.25" cy="189.85" r="0.6" fill="#ffc0c0" stroke="none" stroke-width="0.5"/>
<circle cx="29.8" cy="191.5" r="1.8" fill="#e3222c" stroke="#a60d15" stroke-width="0.3"/>
<circle cx="29.25" cy="190.95" r="0.6" fill="#ffc0c0" stroke="none" stroke-width="0.5"/>
<circle cx="33" cy="193.2" r="1.8" fill="#e3222c" stroke="#a60d15" stroke-width="0.3"/>
<circle cx="32.45" cy="192.65" r="0.6" fill="#ffc0c0" stroke="none" stroke-width="0.5"/>
<circle cx="35.6" cy="194.4" r="1.8" fill="#e3222c" stroke="#a60d15" stroke-width="0.3"/>
<circle cx="35.05" cy="193.85" r="0.6" fill="#ffc0c0" stroke="none" stroke-width="0.5"/>
<circle cx="27.1" cy="197.1" r="1.8" fill="#e3222c" stroke="#a60d15" stroke-width="0.3"/>
<circle cx="26.55" cy="196.55" r="0.6" fill="#ffc0c0" stroke="none" stroke-width="0.5"/>
<circle cx="31.2" cy="196.3" r="1.8" fill="#e3222c" stroke="#a60d15" stroke-width="0.3"/>
<circle cx="30.65" cy="195.75" r="0.6" fill="#ffc0c0" stroke="none" stroke-width="0.5"/>
<circle cx="31.5" cy="200" r="1.8" fill="#e3222c" stroke="#a60d15" stroke-width="0.3"/>
<circle cx="30.95" cy="199.45" r="0.6" fill="#ffc0c0" stroke="none" stroke-width="0.5"/>
<circle cx="30.9" cy="203.2" r="1.8" fill="#e3222c" stroke="#a60d15" stroke-width="0.3"/>
<circle cx="30.35" cy="202.65" r="0.6" fill="#ffc0c0" stroke="none" stroke-width="0.5"/>
<circle cx="43.75" cy="175.5" r="1.8" fill="#e3222c" stroke="#a60d15" stroke-width="0.3"/>
<circle cx="43.2" cy="174.95" r="0.6" fill="#ffc0c0" stroke="none" stroke-width="0.5"/>
<circle cx="46.2" cy="178.6" r="1.8" fill="#e3222c" stroke="#a60d15" stroke-width="0.3"/>
<circle cx="45.65" cy="178.05" r="0.6" fill="#ffc0c0" stroke="none" stroke-width="0.5"/>
<circle cx="48.8" cy="179.4" r="1.8" fill="#e3222c" stroke="#a60d15" stroke-width="0.3"/>
<circle cx="48.25" cy="178.85" r="0.6" fill="#ffc0c0" stroke="none" stroke-width="0.5"/>
<circle cx="44" cy="182.7" r="1.8" fill="#e3222c" stroke="#a60d15" stroke-width="0.3"/>
<circle cx="43.45" cy="182.15" r="0.6" fill="#ffc0c0" stroke="none" stroke-width="0.5"/>
<circle cx="43.75" cy="186.3" r="1.8" fill="#e3222c" stroke="#a60d15" stroke-width="0.3"/>
<circle cx="43.2" cy="185.75" r="0.6" fill="#ffc0c0" stroke="none" stroke-width="0.5"/>
<circle cx="48.7" cy="187.6" r="1.8" fill="#e3222c" stroke="#a60d15" stroke-width="0.3"/>
<circle cx="48.15" cy="187.05" r="0.6" fill="#ffc0c0" stroke="none" stroke-width="0.5"/>
<circle cx="52.4" cy="188.6" r="1.8" fill="#e3222c" stroke="#a60d15" stroke-width="0.3"/>
<circle cx="51.85" cy="188.05" r="0.6" fill="#ffc0c0" stroke="none" stroke-width="0.5"/>
<circle cx="55.6" cy="190.4" r="1.8" fill="#e3222c" stroke="#a60d15" stroke-width="0.3"/>
<circle cx="55.05" cy="189.85" r="0.6" fill="#ffc0c0" stroke="none" stroke-width="0.5"/>
<circle cx="58.2" cy="191" r="1.8" fill="#e3222c" stroke="#a60d15" stroke-width="0.3"/>
<circle cx="57.65" cy="190.45" r="0.6" fill="#ffc0c0" stroke="none" stroke-width="0.5"/>
<circle cx="51" cy="193.8" r="1.8" fill="#e3222c" stroke="#a60d15" stroke-width="0.3"/>
<circle cx="50.45" cy="193.25" r="0.6" fill="#ffc0c0" stroke="none" stroke-width="0.5"/>
<circle cx="54.3" cy="192.9" r="1.8" fill="#e3222c" stroke="#a60d15" stroke-width="0.3"/>
<circle cx="53.75" cy="192.35" r="0.6" fill="#ffc0c0" stroke="none" stroke-width="0.5"/>
<circle cx="53.8" cy="195.8" r="1.8" fill="#e3222c" stroke="#a60d15" stroke-width="0.3"/>
<circle cx="53.25" cy="195.25" r="0.6" fill="#ffc0c0" stroke="none" stroke-width="0.5"/>
<circle cx="53.8" cy="198.9" r="1.8" fill="#e3222c" stroke="#a60d15" stroke-width="0.3"/>
<circle cx="53.25" cy="198.35" r="0.6" fill="#ffc0c0" stroke="none" stroke-width="0.5"/>
<circle cx="74.5" cy="192.9" r="1.8" fill="#e3222c" stroke="#a60d15" stroke-width="0.3"/>
<circle cx="73.95" cy="192.35" r="0.6" fill="#ffc0c0" stroke="none" stroke-width="0.5"/>
<circle cx="78.4" cy="194.3" r="1.8" fill="#e3222c" stroke="#a60d15" stroke-width="0.3"/>
<circle cx="77.85" cy="193.75" r="0.6" fill="#ffc0c0" stroke="none" stroke-width="0.5"/>
<circle cx="80.6" cy="196.3" r="1.8" fill="#e3222c" stroke="#a60d15" stroke-width="0.3"/>
<circle cx="80.05" cy="195.75" r="0.6" fill="#ffc0c0" stroke="none" stroke-width="0.5"/>
<circle cx="83.2" cy="197.7" r="1.8" fill="#e3222c" stroke="#a60d15" stroke-width="0.3"/>
<circle cx="82.65" cy="197.15" r="0.6" fill="#ffc0c0" stroke="none" stroke-width="0.5"/>
<circle cx="75.2" cy="199.8" r="1.8" fill="#e3222c" stroke="#a60d15" stroke-width="0.3"/>
<circle cx="74.65" cy="199.25" r="0.6" fill="#ffc0c0" stroke="none" stroke-width="0.5"/>
<circle cx="79.8" cy="198.7" r="1.8" fill="#e3222c" stroke="#a60d15" stroke-width="0.3"/>
<circle cx="79.25" cy="198.15" r="0.6" fill="#ffc0c0" stroke="none" stroke-width="0.5"/>
<circle cx="78.4" cy="201.5" r="1.8" fill="#e3222c" stroke="#a60d15" stroke-width="0.3"/>
<circle cx="77.85" cy="200.95" r="0.6" fill="#ffc0c0" stroke="none" stroke-width="0.5"/>
<circle cx="77.9" cy="204.9" r="1.8" fill="#e3222c" stroke="#a60d15" stroke-width="0.3"/>
<circle cx="77.35" cy="204.35" r="0.6" fill="#ffc0c0" stroke="none" stroke-width="0.5"/>
<ellipse cx="93.9" cy="165.3" rx="2.3" ry="2.6" transform="rotate(-35 93.9 165.3)" fill="none" stroke="#c4bc5a" stroke-width="1.0"/>
<ellipse cx="99.6" cy="162.6" rx="2.3" ry="2.6" transform="rotate(-35 99.6 162.6)" fill="none" stroke="#c4bc5a" stroke-width="1.0"/>
<path d="M95.6,167.2 L104.0,175.2 M99.9,165.4 L98.5,171 L104.3,174.2" fill="none" stroke="#c4bc5a" stroke-width="1.1" />
<text x="112.2" y="170.4" font-size="5.2" textLength="9.8" lengthAdjust="spacingAndGlyphs" font-weight="bold" fill="#b8141c">GM2</text>
<circle cx="102.8" cy="175.5" r="1.95" fill="#b2101a" stroke="#7a0a10" stroke-width="0.3"/>
<circle cx="106.6" cy="175.5" r="1.95" fill="#b2101a" stroke="#7a0a10" stroke-width="0.3"/>
<circle cx="110.4" cy="175.5" r="1.95" fill="#b2101a" stroke="#7a0a10" stroke-width="0.3"/>
<line x1="115.6" y1="173.2" x2="115.6" y2="182" stroke="#8a8a8a" stroke-width="0.45" />
<line x1="115.4" y1="176" x2="117.2" y2="176" stroke="#8a8a8a" stroke-width="0.35" />
<line x1="115.4" y1="177.5" x2="117.2" y2="177.5" stroke="#8a8a8a" stroke-width="0.35" />
<line x1="115.4" y1="179" x2="117.2" y2="179" stroke="#8a8a8a" stroke-width="0.35" />
<line x1="115.4" y1="180.5" x2="117.2" y2="180.5" stroke="#8a8a8a" stroke-width="0.35" />
<path d="M116.4,175.5 l0.9,0.5 l0.9,-0.5 l0.9,0.5 l0.9,-0.5 l0.9,0.5 l0.9,-0.5 l0.9,0.5 l0.9,-0.5 l0.9,0.5 l0.9,-0.5 l0.9,0.5 l0.9,-0.5 l0.9,0.5 l0.9,-0.5 l0.9,0.5 l0.9,-0.5 l0.9,0.5 l0.9,-0.5" fill="none" stroke="#9a9a9a" stroke-width="0.4" />
<path d="M116.4,184 l0.9,0.5 l0.9,-0.5 l0.9,0.5 l0.9,-0.5 l0.9,0.5 l0.9,-0.5 l0.9,0.5 l0.9,-0.5 l0.9,0.5 l0.9,-0.5 l0.9,0.5 l0.9,-0.5" fill="none" stroke="#9a9a9a" stroke-width="0.4" />
<line x1="118.5" y1="190.6" x2="118.5" y2="199.4" stroke="#8a8a8a" stroke-width="0.45" />
<line x1="118.3" y1="193.4" x2="120.1" y2="193.4" stroke="#8a8a8a" stroke-width="0.35" />
<line x1="118.3" y1="194.9" x2="120.1" y2="194.9" stroke="#8a8a8a" stroke-width="0.35" />
<line x1="118.3" y1="196.4" x2="120.1" y2="196.4" stroke="#8a8a8a" stroke-width="0.35" />
<line x1="118.3" y1="197.9" x2="120.1" y2="197.9" stroke="#8a8a8a" stroke-width="0.35" />
<path d="M119.3,192.9 l0.9,0.5 l0.9,-0.5 l0.9,0.5 l0.9,-0.5 l0.9,0.5 l0.9,-0.5 l0.9,0.5 l0.9,-0.5 l0.9,0.5 l0.9,-0.5 l0.9,0.5 l0.9,-0.5 l0.9,0.5 l0.9,-0.5 l0.9,0.5 l0.9,-0.5 l0.9,0.5 l0.9,-0.5" fill="none" stroke="#9a9a9a" stroke-width="0.4" />
<path d="M119.3,201.3 l0.9,0.5 l0.9,-0.5 l0.9,0.5 l0.9,-0.5 l0.9,0.5 l0.9,-0.5 l0.9,0.5 l0.9,-0.5 l0.9,0.5 l0.9,-0.5 l0.9,0.5 l0.9,-0.5" fill="none" stroke="#9a9a9a" stroke-width="0.4" />
<path d="M99.8,180.6 C92.5,183.5 86.0,188.5 86.9,194.6 C87.8,200.3 96.5,200.6 104.8,197.8 L104.2,195.9 L108.6,197.1 L105.6,200.9 L105.2,199.4 C96.5,202.6 86.1,202.3 85.6,194.4 C85.0,187.0 92.5,181.7 98.4,178.9 Z" fill="#dd7a68" stroke="#b5473b" stroke-width="0.6" />
<path d="M93.2,193.2 L96.2,191.0 A3.3,3.3 0 1,0 96.3,195.5 Z" fill="#1a9ae2" stroke="#0f6aa6" stroke-width="0.3"/>
<text x="97.2" y="192.4" font-size="6.2" textLength="15" lengthAdjust="spacingAndGlyphs" font-weight="bold" fill="#2b5fbf" font-style="italic" transform="rotate(-29 97.2 192.4)">HEXA</text>
<circle cx="110.4" cy="192.9" r="1.95" fill="#b2101a" stroke="#7a0a10" stroke-width="0.3"/>
<circle cx="114.2" cy="192.9" r="1.95" fill="#b2101a" stroke="#7a0a10" stroke-width="0.3"/>
<text x="107.2" y="201.4" font-size="5.2" textLength="9.6" lengthAdjust="spacingAndGlyphs" font-weight="bold" fill="#b8141c">GM3</text>
<text x="154.6" y="142.3" font-size="12.5" font-weight="bold">F</text>
<line x1="184.1" y1="152.7" x2="184.1" y2="191.3" stroke="#000" stroke-width="0.95" />
<line x1="182.1" y1="152.7" x2="184.1" y2="152.7" stroke="#000" stroke-width="0.95" />
<text x="181.8" y="155.04" font-size="6.5" text-anchor="end">16</text>
<line x1="182.1" y1="164.7" x2="184.1" y2="164.7" stroke="#000" stroke-width="0.95" />
<text x="181.8" y="167.04" font-size="6.5" text-anchor="end">12</text>
<line x1="182.1" y1="176.8" x2="184.1" y2="176.8" stroke="#000" stroke-width="0.95" />
<text x="181.8" y="179.14" font-size="6.5" text-anchor="end">8</text>
<line x1="182.1" y1="188.8" x2="184.1" y2="188.8" stroke="#000" stroke-width="0.95" />
<text x="181.8" y="191.14" font-size="6.5" text-anchor="end">4</text>
<line x1="182.1" y1="191.3" x2="184.1" y2="191.3" stroke="#000" stroke-width="0.95" />
<line x1="184.1" y1="198.1" x2="184.1" y2="236.5" stroke="#000" stroke-width="0.95" />
<line x1="182.1" y1="198.1" x2="184.1" y2="198.1" stroke="#000" stroke-width="0.95" />
<text x="181.8" y="200.44" font-size="6.5" text-anchor="end">0.04</text>
<line x1="182.1" y1="217.4" x2="184.1" y2="217.4" stroke="#000" stroke-width="0.95" />
<text x="181.8" y="219.74" font-size="6.5" text-anchor="end">0.02</text>
<line x1="182.1" y1="236.5" x2="184.1" y2="236.5" stroke="#000" stroke-width="0.95" />
<text x="181.8" y="238.84" font-size="6.5" text-anchor="end">0.00</text>
<line x1="184.1" y1="236.5" x2="229.3" y2="236.5" stroke="#000" stroke-width="0.95" />
<rect x="187.8" y="172.8" width="9.6" height="18.5" fill="#fff"/>
<rect x="187.8" y="198.1" width="9.6" height="38.4" fill="#fff"/>
<line x1="187.8" y1="172.8" x2="197.4" y2="172.8" stroke="#000" stroke-width="0.8" />
<line x1="187.8" y1="172.4" x2="187.8" y2="191.3" stroke="#000" stroke-width="0.8" />
<line x1="187.8" y1="198.1" x2="187.8" y2="236.5" stroke="#000" stroke-width="0.8" />
<line x1="197.4" y1="172.4" x2="197.4" y2="191.3" stroke="#000" stroke-width="0.8" />
<line x1="197.4" y1="198.1" x2="197.4" y2="236.5" stroke="#000" stroke-width="0.8" />
<rect x="203.6" y="182.1" width="9.2" height="9.2" fill="#a9cdf5"/>
<rect x="203.6" y="198.1" width="9.2" height="38.4" fill="#a9cdf5"/>
<line x1="203.6" y1="182.1" x2="212.8" y2="182.1" stroke="#000" stroke-width="0.8" />
<line x1="203.6" y1="181.7" x2="203.6" y2="191.3" stroke="#000" stroke-width="0.8" />
<line x1="203.6" y1="198.1" x2="203.6" y2="236.5" stroke="#000" stroke-width="0.8" />
<line x1="212.8" y1="181.7" x2="212.8" y2="191.3" stroke="#000" stroke-width="0.8" />
<line x1="212.8" y1="198.1" x2="212.8" y2="236.5" stroke="#000" stroke-width="0.8" />
<rect x="218" y="210.8" width="9.6" height="25.7" fill="#187a8d" stroke="#000" stroke-width="0.8" />
<line x1="192.6" y1="169.6" x2="192.6" y2="176.2" stroke="#000" stroke-width="0.95" />
<line x1="189.8" y1="169.6" x2="195.4" y2="169.6" stroke="#000" stroke-width="0.95" />
<line x1="189.8" y1="176.2" x2="195.4" y2="176.2" stroke="#000" stroke-width="0.95" />
<line x1="208.2" y1="180.3" x2="208.2" y2="184.2" stroke="#000" stroke-width="0.95" />
<line x1="205.8" y1="180.3" x2="210.6" y2="180.3" stroke="#000" stroke-width="0.95" />
<line x1="205.8" y1="184.2" x2="210.6" y2="184.2" stroke="#000" stroke-width="0.95" />
<circle cx="193.3" cy="158.9" r="1.6" fill="#5a80e2" stroke="#0a0c18" stroke-width="0.85"/>
<circle cx="189.2" cy="166.7" r="1.6" fill="#5a80e2" stroke="#0a0c18" stroke-width="0.85"/>
<circle cx="196" cy="168.7" r="1.6" fill="#5a80e2" stroke="#0a0c18" stroke-width="0.85"/>
<circle cx="192.3" cy="171.8" r="1.6" fill="#5a80e2" stroke="#0a0c18" stroke-width="0.85"/>
<circle cx="189.2" cy="178" r="1.6" fill="#5a80e2" stroke="#0a0c18" stroke-width="0.85"/>
<circle cx="196" cy="178.6" r="1.6" fill="#5a80e2" stroke="#0a0c18" stroke-width="0.85"/>
<circle cx="193.3" cy="184.1" r="1.6" fill="#5a80e2" stroke="#0a0c18" stroke-width="0.85"/>
<circle cx="205.6" cy="178" r="1.6" fill="#5a80e2" stroke="#0a0c18" stroke-width="0.85"/>
<circle cx="210.4" cy="177.6" r="1.6" fill="#5a80e2" stroke="#0a0c18" stroke-width="0.85"/>
<circle cx="204.6" cy="183.1" r="1.6" fill="#5a80e2" stroke="#0a0c18" stroke-width="0.85"/>
<circle cx="207.7" cy="182.7" r="1.6" fill="#5a80e2" stroke="#0a0c18" stroke-width="0.85"/>
<circle cx="211.2" cy="183.5" r="1.6" fill="#5a80e2" stroke="#0a0c18" stroke-width="0.85"/>
<circle cx="205" cy="187.2" r="1.6" fill="#5a80e2" stroke="#0a0c18" stroke-width="0.85"/>
<circle cx="220" cy="207.7" r="1.6" fill="#5a80e2" stroke="#0a0c18" stroke-width="0.85"/>
<circle cx="223.1" cy="207.7" r="1.6" fill="#5a80e2" stroke="#0a0c18" stroke-width="0.85"/>
<circle cx="226.2" cy="207.9" r="1.6" fill="#5a80e2" stroke="#0a0c18" stroke-width="0.85"/>
<circle cx="220" cy="212.2" r="1.6" fill="#5a80e2" stroke="#0a0c18" stroke-width="0.85"/>
<circle cx="223.1" cy="212.2" r="1.6" fill="#5a80e2" stroke="#0a0c18" stroke-width="0.85"/>
<circle cx="226.2" cy="212.2" r="1.6" fill="#5a80e2" stroke="#0a0c18" stroke-width="0.85"/>
<line x1="191" y1="140.8" x2="225.2" y2="140.8" stroke="#333" stroke-width="1" />
<text x="208.9" y="140.3" font-size="10" text-anchor="middle" font-weight="bold">*</text>
<line x1="190.3" y1="153.3" x2="207.9" y2="153.3" stroke="#333" stroke-width="1" />
<text x="191.3" y="149.2" font-size="6.6" textLength="17" lengthAdjust="spacingAndGlyphs">0.054</text>
<text x="192.9" y="244" font-size="6.8" text-anchor="middle">IS</text>
<text x="208.1" y="244" font-size="6.8" text-anchor="middle">IR</text>
<text x="223.1" y="244" font-size="6.8" text-anchor="middle">T2D</text>
<text x="162" y="194.6" font-size="6.7" text-anchor="middle" font-weight="bold" transform="rotate(-90 162 194.6)">GM3 Content (pmol/mg tissue)</text>
<text x="240.8" y="141.8" font-size="12.5" font-weight="bold">G</text>
<rect x="265.9" y="135.6" width="4.8" height="4" fill="#fff" stroke="#000" stroke-width="0.75" />
<rect x="265.9" y="142.3" width="4.8" height="4" fill="#a9cdf5" stroke="#000" stroke-width="0.75" />
<text x="275" y="139.2" font-size="6.5" textLength="22" lengthAdjust="spacingAndGlyphs">Lean IS</text>
<text x="275" y="146.1" font-size="6.5" textLength="28.6" lengthAdjust="spacingAndGlyphs" xml:space="preserve">Obese  IR</text>
<line x1="276.9" y1="152.7" x2="276.9" y2="190.3" stroke="#000" stroke-width="0.95" />
<line x1="274.9" y1="152.7" x2="276.9" y2="152.7" stroke="#000" stroke-width="0.95" />
<text x="272.9" y="155.08" font-size="6.6" text-anchor="end">15</text>
<line x1="274.9" y1="167.4" x2="276.9" y2="167.4" stroke="#000" stroke-width="0.95" />
<text x="272.9" y="169.78" font-size="6.6" text-anchor="end">10</text>
<line x1="274.9" y1="182.1" x2="276.9" y2="182.1" stroke="#000" stroke-width="0.95" />
<text x="272.9" y="184.48" font-size="6.6" text-anchor="end">5</text>
<line x1="274.9" y1="190.3" x2="276.9" y2="190.3" stroke="#000" stroke-width="0.95" />
<line x1="276.9" y1="198.5" x2="276.9" y2="236.5" stroke="#000" stroke-width="0.95" />
<line x1="274.9" y1="198.5" x2="276.9" y2="198.5" stroke="#000" stroke-width="0.95" />
<text x="272.9" y="200.88" font-size="6.6" text-anchor="end">1.0</text>
<line x1="274.9" y1="217.5" x2="276.9" y2="217.5" stroke="#000" stroke-width="0.95" />
<text x="272.9" y="219.88" font-size="6.6" text-anchor="end">0.5</text>
<line x1="274.9" y1="236.5" x2="276.9" y2="236.5" stroke="#000" stroke-width="0.95" />
<text x="272.9" y="238.88" font-size="6.6" text-anchor="end">0.0</text>
<line x1="276.9" y1="236.5" x2="359" y2="236.5" stroke="#000" stroke-width="0.95" />
<rect x="279.5" y="228.52" width="6" height="7.98" fill="#fff" stroke="#000" stroke-width="0.8" />
<rect x="286.6" y="224.34" width="6.3" height="12.16" fill="#a9cdf5" stroke="#000" stroke-width="0.8" />
<rect x="300.7" y="230.8" width="6.1" height="5.7" fill="#fff" stroke="#000" stroke-width="0.8" />
<rect x="307.9" y="220.16" width="5.8" height="16.34" fill="#a9cdf5" stroke="#000" stroke-width="0.8" />
<rect x="327.6" y="173.5" width="1.6" height="17.4" fill="#a8a8a8"/>
<rect x="327.6" y="197.2" width="1.6" height="39.3" fill="#a8a8a8"/>
<rect x="321.3" y="170.3" width="6.3" height="20.6" fill="#fff"/>
<rect x="321.3" y="197.2" width="6.3" height="39.3" fill="#fff"/>
<line x1="321.3" y1="170.3" x2="327.6" y2="170.3" stroke="#000" stroke-width="0.8" />
<line x1="321.3" y1="169.9" x2="321.3" y2="190.9" stroke="#000" stroke-width="0.8" />
<line x1="321.3" y1="197.2" x2="321.3" y2="236.5" stroke="#000" stroke-width="0.8" />
<line x1="327.6" y1="169.9" x2="327.6" y2="190.9" stroke="#000" stroke-width="0.8" />
<line x1="327.6" y1="197.2" x2="327.6" y2="236.5" stroke="#000" stroke-width="0.8" />
<rect x="329.2" y="179.2" width="5.8" height="11.7" fill="#a9cdf5"/>
<rect x="329.2" y="197.2" width="5.8" height="39.3" fill="#a9cdf5"/>
<line x1="329.2" y1="179.2" x2="335" y2="179.2" stroke="#000" stroke-width="0.8" />
<line x1="329.2" y1="178.8" x2="329.2" y2="190.9" stroke="#000" stroke-width="0.8" />
<line x1="329.2" y1="197.2" x2="329.2" y2="236.5" stroke="#000" stroke-width="0.8" />
<line x1="335" y1="178.8" x2="335" y2="190.9" stroke="#000" stroke-width="0.8" />
<line x1="335" y1="197.2" x2="335" y2="236.5" stroke="#000" stroke-width="0.8" />
<rect x="342.6" y="236.12" width="5.8" height="0.38" fill="#fff" stroke="#000" stroke-width="0.8" />
<rect x="350" y="234.6" width="5.6" height="1.9" fill="#a9cdf5" stroke="#000" stroke-width="0.8" />
<line x1="282.5" y1="225.86" x2="282.5" y2="231.18" stroke="#000" stroke-width="0.95" />
<line x1="280.7" y1="225.86" x2="284.3" y2="225.86" stroke="#000" stroke-width="0.95" />
<line x1="280.7" y1="231.18" x2="284.3" y2="231.18" stroke="#000" stroke-width="0.95" />
<line x1="289.7" y1="222.06" x2="289.7" y2="226.62" stroke="#000" stroke-width="0.95" />
<line x1="287.9" y1="222.06" x2="291.5" y2="222.06" stroke="#000" stroke-width="0.95" />
<line x1="287.9" y1="226.62" x2="291.5" y2="226.62" stroke="#000" stroke-width="0.95" />
<line x1="303.7" y1="228.9" x2="303.7" y2="232.7" stroke="#000" stroke-width="0.95" />
<line x1="301.9" y1="228.9" x2="305.5" y2="228.9" stroke="#000" stroke-width="0.95" />
<line x1="301.9" y1="232.7" x2="305.5" y2="232.7" stroke="#000" stroke-width="0.95" />
<line x1="310.8" y1="215.22" x2="310.8" y2="224.34" stroke="#000" stroke-width="0.95" />
<line x1="309" y1="215.22" x2="312.6" y2="215.22" stroke="#000" stroke-width="0.95" />
<line x1="309" y1="224.34" x2="312.6" y2="224.34" stroke="#000" stroke-width="0.95" />
<line x1="324.4" y1="166.5" x2="324.4" y2="174" stroke="#000" stroke-width="0.95" />
<line x1="322.6" y1="166.5" x2="326.2" y2="166.5" stroke="#000" stroke-width="0.95" />
<line x1="322.6" y1="174" x2="326.2" y2="174" stroke="#000" stroke-width="0.95" />
<line x1="332.1" y1="177.5" x2="332.1" y2="181" stroke="#000" stroke-width="0.95" />
<line x1="330.3" y1="177.5" x2="333.9" y2="177.5" stroke="#000" stroke-width="0.95" />
<line x1="330.3" y1="181" x2="333.9" y2="181" stroke="#000" stroke-width="0.95" />
<circle cx="281.2" cy="220.3" r="1.5" fill="#5a80e2" stroke="#0a0c18" stroke-width="0.85"/>
<circle cx="283.2" cy="222" r="1.5" fill="#5a80e2" stroke="#0a0c18" stroke-width="0.85"/>
<circle cx="282" cy="225" r="1.5" fill="#5a80e2" stroke="#0a0c18" stroke-width="0.85"/>
<circle cx="281" cy="230" r="1.5" fill="#5a80e2" stroke="#0a0c18" stroke-width="0.85"/>
<circle cx="283.8" cy="228" r="1.5" fill="#5a80e2" stroke="#0a0c18" stroke-width="0.85"/>
<circle cx="282.3" cy="232.1" r="1.5" fill="#5a80e2" stroke="#0a0c18" stroke-width="0.85"/>
<circle cx="281.2" cy="234.5" r="1.5" fill="#5a80e2" stroke="#0a0c18" stroke-width="0.85"/>
<circle cx="289" cy="216.6" r="1.5" fill="#5a80e2" stroke="#0a0c18" stroke-width="0.85"/>
<circle cx="290.1" cy="220" r="1.5" fill="#5a80e2" stroke="#0a0c18" stroke-width="0.85"/>
<circle cx="291.9" cy="224.3" r="1.5" fill="#5a80e2" stroke="#0a0c18" stroke-width="0.85"/>
<circle cx="288.4" cy="226" r="1.5" fill="#5a80e2" stroke="#0a0c18" stroke-width="0.85"/>
<circle cx="291.2" cy="228.3" r="1.5" fill="#5a80e2" stroke="#0a0c18" stroke-width="0.85"/>
<circle cx="303.8" cy="224.7" r="1.5" fill="#5a80e2" stroke="#0a0c18" stroke-width="0.85"/>
<circle cx="302.8" cy="227.8" r="1.5" fill="#5a80e2" stroke="#0a0c18" stroke-width="0.85"/>
<circle cx="304.5" cy="230.8" r="1.5" fill="#5a80e2" stroke="#0a0c18" stroke-width="0.85"/>
<circle cx="301.8" cy="232.1" r="1.5" fill="#5a80e2" stroke="#0a0c18" stroke-width="0.85"/>
<circle cx="303.6" cy="234.5" r="1.5" fill="#5a80e2" stroke="#0a0c18" stroke-width="0.85"/>
<circle cx="310.8" cy="198.4" r="1.5" fill="#5a80e2" stroke="#0a0c18" stroke-width="0.85"/>
<circle cx="309.9" cy="220.3" r="1.5" fill="#5a80e2" stroke="#0a0c18" stroke-width="0.85"/>
<circle cx="311.8" cy="221.5" r="1.5" fill="#5a80e2" stroke="#0a0c18" stroke-width="0.85"/>
<circle cx="309.3" cy="224.6" r="1.5" fill="#5a80e2" stroke="#0a0c18" stroke-width="0.85"/>
<circle cx="312.3" cy="225.1" r="1.5" fill="#5a80e2" stroke="#0a0c18" stroke-width="0.85"/>
<circle cx="309.6" cy="228" r="1.5" fill="#5a80e2" stroke="#0a0c18" stroke-width="0.85"/>
<circle cx="324.2" cy="155.3" r="1.5" fill="#5a80e2" stroke="#0a0c18" stroke-width="0.85"/>
<circle cx="322.9" cy="163.4" r="1.5" fill="#5a80e2" stroke="#0a0c18" stroke-width="0.85"/>
<circle cx="326.2" cy="166" r="1.5" fill="#5a80e2" stroke="#0a0c18" stroke-width="0.85"/>
<circle cx="324" cy="175.5" r="1.5" fill="#5a80e2" stroke="#0a0c18" stroke-width="0.85"/>
<circle cx="325.8" cy="176.8" r="1.5" fill="#5a80e2" stroke="#0a0c18" stroke-width="0.85"/>
<circle cx="324.2" cy="181.3" r="1.5" fill="#5a80e2" stroke="#0a0c18" stroke-width="0.85"/>
<circle cx="331.6" cy="174.1" r="1.5" fill="#5a80e2" stroke="#0a0c18" stroke-width="0.85"/>
<circle cx="333.4" cy="175.5" r="1.5" fill="#5a80e2" stroke="#0a0c18" stroke-width="0.85"/>
<circle cx="331.2" cy="180.2" r="1.5" fill="#5a80e2" stroke="#0a0c18" stroke-width="0.85"/>
<circle cx="330.3" cy="183.8" r="1.5" fill="#5a80e2" stroke="#0a0c18" stroke-width="0.85"/>
<circle cx="333.2" cy="182.5" r="1.5" fill="#5a80e2" stroke="#0a0c18" stroke-width="0.85"/>
<circle cx="343" cy="235.6" r="1.5" fill="#5a80e2" stroke="#0a0c18" stroke-width="0.85"/>
<circle cx="345" cy="235.6" r="1.5" fill="#5a80e2" stroke="#0a0c18" stroke-width="0.85"/>
<circle cx="347" cy="235.9" r="1.5" fill="#5a80e2" stroke="#0a0c18" stroke-width="0.85"/>
<circle cx="352.8" cy="228.5" r="1.5" fill="#5a80e2" stroke="#0a0c18" stroke-width="0.85"/>
<circle cx="351.6" cy="233.5" r="1.5" fill="#5a80e2" stroke="#0a0c18" stroke-width="0.85"/>
<circle cx="354" cy="235.4" r="1.5" fill="#5a80e2" stroke="#0a0c18" stroke-width="0.85"/>
<circle cx="350.9" cy="235.8" r="1.5" fill="#5a80e2" stroke="#0a0c18" stroke-width="0.85"/>
<text x="310.8" y="191.8" font-size="8" text-anchor="middle" font-weight="bold">*</text>
<line x1="279.8" y1="205.4" x2="279.8" y2="210.7" stroke="#cc1f2a" stroke-width="0.75" />
<polygon points="279.8,204.8 278.8,206.8 280.8,206.8" fill="#cc1f2a"/>
<text x="281" y="210.1" font-size="6.9" textLength="15.3" lengthAdjust="spacingAndGlyphs" font-weight="bold" fill="#cc1f2a" font-style="italic">50%</text>
<line x1="298.2" y1="180.1" x2="298.2" y2="185.4" stroke="#cc1f2a" stroke-width="0.75" />
<polygon points="298.2,179.5 297.2,181.5 299.2,181.5" fill="#cc1f2a"/>
<text x="299.4" y="184.8" font-size="6.9" textLength="19.3" lengthAdjust="spacingAndGlyphs" font-weight="bold" fill="#cc1f2a" font-style="italic">270%</text>
<line x1="320.6" y1="133.2" x2="320.6" y2="138.5" stroke="#cc1f2a" stroke-width="0.75" />
<polygon points="320.6,139.1 319.6,137.1 321.6,137.1" fill="#cc1f2a"/>
<text x="321.8" y="138.5" font-size="6.9" textLength="15.9" lengthAdjust="spacingAndGlyphs" font-weight="bold" fill="#cc1f2a" font-style="italic">30%</text>
<text x="317.1" y="146.8" font-size="6.6" textLength="24.4" lengthAdjust="spacingAndGlyphs">p=0.054</text>
<line x1="340.7" y1="207" x2="340.7" y2="212.3" stroke="#cc1f2a" stroke-width="0.75" />
<polygon points="340.7,206.4 339.7,208.4 341.7,208.4" fill="#cc1f2a"/>
<text x="341.9" y="211.7" font-size="6.9" textLength="18.6" lengthAdjust="spacingAndGlyphs" font-weight="bold" fill="#cc1f2a" font-style="italic">430%</text>
<text x="338.8" y="218.4" font-size="6.6" textLength="20.6" lengthAdjust="spacingAndGlyphs">p=0.09</text>
<text x="289.6" y="243.9" font-size="7.1" text-anchor="end" transform="rotate(-45 289.6 243.9)">GD1</text>
<text x="308.8" y="243.9" font-size="7.1" text-anchor="end" transform="rotate(-45 308.8 243.9)">GD3</text>
<text x="329" y="243.9" font-size="7.1" text-anchor="end" transform="rotate(-45 329 243.9)">GM3</text>
<text x="350.2" y="243.9" font-size="7.1" text-anchor="end" transform="rotate(-45 350.2 243.9)">GT1</text>
<text x="257.6" y="191.3" font-size="6.5" text-anchor="middle" font-weight="bold" transform="rotate(-90 257.6 191.3)">GM Classes (pmol/mg tissue)</text>
<text x="369.5" y="142" font-size="12.5" font-weight="bold">H</text>
<line x1="406.3" y1="152.7" x2="406.3" y2="175.9" stroke="#000" stroke-width="0.95" />
<line x1="404.3" y1="152.7" x2="406.3" y2="152.7" stroke="#000" stroke-width="0.95" />
<text x="403.3" y="155.08" font-size="6.6" text-anchor="end">2,000</text>
<line x1="404.3" y1="160.5" x2="406.3" y2="160.5" stroke="#000" stroke-width="0.95" />
<text x="403.3" y="162.88" font-size="6.6" text-anchor="end">1,500</text>
<line x1="404.3" y1="168.1" x2="406.3" y2="168.1" stroke="#000" stroke-width="0.95" />
<text x="403.3" y="170.48" font-size="6.6" text-anchor="end">1,000</text>
<line x1="404.3" y1="175.9" x2="406.3" y2="175.9" stroke="#000" stroke-width="0.95" />
<text x="403.3" y="178.28" font-size="6.6" text-anchor="end">500</text>
<line x1="404.7" y1="175.9" x2="407.9" y2="175.9" stroke="#000" stroke-width="0.95" />
<line x1="406.3" y1="182.5" x2="406.3" y2="236.5" stroke="#000" stroke-width="0.95" />
<line x1="404.3" y1="182.5" x2="406.3" y2="182.5" stroke="#000" stroke-width="0.95" />
<text x="403.3" y="184.88" font-size="6.6" text-anchor="end">300</text>
<line x1="404.3" y1="200.5" x2="406.3" y2="200.5" stroke="#000" stroke-width="0.95" />
<text x="403.3" y="202.88" font-size="6.6" text-anchor="end">200</text>
<line x1="404.3" y1="218.5" x2="406.3" y2="218.5" stroke="#000" stroke-width="0.95" />
<text x="403.3" y="220.88" font-size="6.6" text-anchor="end">100</text>
<line x1="404.3" y1="236.5" x2="406.3" y2="236.5" stroke="#000" stroke-width="0.95" />
<text x="403.3" y="238.88" font-size="6.6" text-anchor="end">0</text>
<line x1="406.3" y1="236.5" x2="520" y2="236.5" stroke="#000" stroke-width="0.95" />
<rect x="410" y="155.4" width="4.1" height="4" fill="#fff" stroke="#000" stroke-width="0.75" />
<rect x="410" y="163.6" width="4.1" height="4" fill="#a9cdf5" stroke="#000" stroke-width="0.75" />
<text x="419" y="159.7" font-size="6.6" textLength="21.2" lengthAdjust="spacingAndGlyphs">Control</text>
<text x="419" y="167.9" font-size="6.6" textLength="18.2" lengthAdjust="spacingAndGlyphs">HEXA</text>
<rect x="408.3" y="202.26" width="4.9" height="34.34" fill="#fff" stroke="#000" stroke-width="0.7" />
<rect x="413.9" y="203.53" width="4.6" height="33.07" fill="#a9cdf5" stroke="#000" stroke-width="0.7" />
<rect x="422.17" y="209.34" width="4.9" height="27.25" fill="#fff" stroke="#000" stroke-width="0.7" />
<rect x="427.77" y="213.52" width="4.6" height="23.08" fill="#a9cdf5" stroke="#000" stroke-width="0.7" />
<rect x="436.04" y="233.33" width="4.9" height="3.27" fill="#fff" stroke="#000" stroke-width="0.7" />
<rect x="441.64" y="233.33" width="4.6" height="3.27" fill="#a9cdf5" stroke="#000" stroke-width="0.7" />
<rect x="449.91" y="232.24" width="4.9" height="4.36" fill="#fff" stroke="#000" stroke-width="0.7" />
<rect x="455.51" y="233.69" width="4.6" height="2.91" fill="#a9cdf5" stroke="#000" stroke-width="0.7" />
<rect x="463.78" y="213.16" width="4.9" height="23.44" fill="#fff" stroke="#000" stroke-width="0.7" />
<rect x="469.38" y="212.8" width="4.6" height="23.8" fill="#a9cdf5" stroke="#000" stroke-width="0.7" />
<rect x="477.65" y="166.0" width="4.9" height="9.9" fill="#fff"/>
<rect x="477.65" y="182.5" width="4.9" height="54.1" fill="#fff"/>
<rect x="482.55" y="163.0" width="1.1" height="12.9" fill="#b0b0b0"/>
<rect x="482.55" y="182.5" width="1.1" height="54" fill="#b0b0b0"/>
<rect x="483.65" y="159.0" width="4.6" height="16.9" fill="#a9cdf5"/>
<rect x="483.65" y="182.5" width="4.6" height="54.1" fill="#a9cdf5"/>
<line x1="477.65" y1="166" x2="482.55" y2="166" stroke="#000" stroke-width="0.7" />
<line x1="477.65" y1="166" x2="477.65" y2="175.9" stroke="#000" stroke-width="0.7" />
<line x1="477.65" y1="182.5" x2="477.65" y2="236.6" stroke="#000" stroke-width="0.7" />
<line x1="482.55" y1="166" x2="482.55" y2="175.9" stroke="#000" stroke-width="0.7" />
<line x1="482.55" y1="182.5" x2="482.55" y2="236.6" stroke="#000" stroke-width="0.7" />
<line x1="483.65" y1="159" x2="488.25" y2="159" stroke="#000" stroke-width="0.7" />
<line x1="483.65" y1="159" x2="483.65" y2="175.9" stroke="#000" stroke-width="0.7" />
<line x1="483.65" y1="182.5" x2="483.65" y2="236.6" stroke="#000" stroke-width="0.7" />
<line x1="488.25" y1="159" x2="488.25" y2="175.9" stroke="#000" stroke-width="0.7" />
<line x1="488.25" y1="182.5" x2="488.25" y2="236.6" stroke="#000" stroke-width="0.7" />
<rect x="491.52" y="236.05" width="4.9" height="0.55" fill="#fff" stroke="#000" stroke-width="0.7" />
<rect x="497.12" y="235.87" width="4.6" height="0.73" fill="#a9cdf5" stroke="#000" stroke-width="0.7" />
<rect x="505.39" y="234.42" width="4.9" height="2.18" fill="#fff" stroke="#000" stroke-width="0.7" />
<rect x="510.99" y="233.69" width="4.6" height="2.91" fill="#a9cdf5" stroke="#000" stroke-width="0.7" />
<text x="415.7" y="242.6" font-size="6.7" text-anchor="end" transform="rotate(-45 415.7 242.6)">GD1</text>
<text x="429.57" y="242.6" font-size="6.7" text-anchor="end" transform="rotate(-45 429.57 242.6)">GD2</text>
<text x="443.44" y="242.6" font-size="6.7" text-anchor="end" transform="rotate(-45 443.44 242.6)">GD3</text>
<text x="457.31" y="242.6" font-size="6.7" text-anchor="end" transform="rotate(-45 457.31 242.6)">GM1</text>
<text x="471.18" y="242.6" font-size="6.7" text-anchor="end" transform="rotate(-45 471.18 242.6)">GM2</text>
<text x="485.05" y="242.6" font-size="6.7" text-anchor="end" transform="rotate(-45 485.05 242.6)">GM3</text>
<text x="498.92" y="242.6" font-size="6.7" text-anchor="end" transform="rotate(-45 498.92 242.6)">GQ1</text>
<text x="512.79" y="242.6" font-size="6.7" text-anchor="end" transform="rotate(-45 512.79 242.6)">GT1</text>
<line x1="410.8" y1="199" x2="410.8" y2="205" stroke="#000" stroke-width="0.95" />
<line x1="409.4" y1="199" x2="412.2" y2="199" stroke="#000" stroke-width="0.95" />
<line x1="409.4" y1="205" x2="412.2" y2="205" stroke="#000" stroke-width="0.95" />
<line x1="416.4" y1="200" x2="416.4" y2="207" stroke="#000" stroke-width="0.95" />
<line x1="415" y1="200" x2="417.8" y2="200" stroke="#000" stroke-width="0.95" />
<line x1="415" y1="207" x2="417.8" y2="207" stroke="#000" stroke-width="0.95" />
<line x1="424.8" y1="205.5" x2="424.8" y2="212" stroke="#000" stroke-width="0.95" />
<line x1="423.4" y1="205.5" x2="426.2" y2="205.5" stroke="#000" stroke-width="0.95" />
<line x1="423.4" y1="212" x2="426.2" y2="212" stroke="#000" stroke-width="0.95" />
<line x1="430.4" y1="210.5" x2="430.4" y2="216.5" stroke="#000" stroke-width="0.95" />
<line x1="429" y1="210.5" x2="431.8" y2="210.5" stroke="#000" stroke-width="0.95" />
<line x1="429" y1="216.5" x2="431.8" y2="216.5" stroke="#000" stroke-width="0.95" />
<line x1="466.7" y1="209.5" x2="466.7" y2="216.5" stroke="#000" stroke-width="0.95" />
<line x1="465.3" y1="209.5" x2="468.1" y2="209.5" stroke="#000" stroke-width="0.95" />
<line x1="465.3" y1="216.5" x2="468.1" y2="216.5" stroke="#000" stroke-width="0.95" />
<line x1="472.4" y1="209" x2="472.4" y2="216" stroke="#000" stroke-width="0.95" />
<line x1="471" y1="209" x2="473.8" y2="209" stroke="#000" stroke-width="0.95" />
<line x1="471" y1="216" x2="473.8" y2="216" stroke="#000" stroke-width="0.95" />
<line x1="486.5" y1="156" x2="486.5" y2="162" stroke="#000" stroke-width="0.95" />
<line x1="485.1" y1="156" x2="487.9" y2="156" stroke="#000" stroke-width="0.95" />
<line x1="485.1" y1="162" x2="487.9" y2="162" stroke="#000" stroke-width="0.95" />
<circle cx="411.2" cy="191" r="1.35" fill="#5a80e2" stroke="#0a0c18" stroke-width="0.85"/>
<circle cx="411.2" cy="198.2" r="1.35" fill="#5a80e2" stroke="#0a0c18" stroke-width="0.85"/>
<circle cx="411.2" cy="206" r="1.35" fill="#5a80e2" stroke="#0a0c18" stroke-width="0.85"/>
<circle cx="411.2" cy="211.2" r="1.35" fill="#5a80e2" stroke="#0a0c18" stroke-width="0.85"/>
<circle cx="416.7" cy="196.2" r="1.35" fill="#5a80e2" stroke="#0a0c18" stroke-width="0.85"/>
<circle cx="416.1" cy="203.7" r="1.35" fill="#5a80e2" stroke="#0a0c18" stroke-width="0.85"/>
<circle cx="417.6" cy="206.3" r="1.35" fill="#5a80e2" stroke="#0a0c18" stroke-width="0.85"/>
<circle cx="416.7" cy="214.6" r="1.35" fill="#5a80e2" stroke="#0a0c18" stroke-width="0.85"/>
<circle cx="424.8" cy="203.7" r="1.35" fill="#5a80e2" stroke="#0a0c18" stroke-width="0.85"/>
<circle cx="423.8" cy="209.4" r="1.35" fill="#5a80e2" stroke="#0a0c18" stroke-width="0.85"/>
<circle cx="425.3" cy="212.5" r="1.35" fill="#5a80e2" stroke="#0a0c18" stroke-width="0.85"/>
<circle cx="424.8" cy="218" r="1.35" fill="#5a80e2" stroke="#0a0c18" stroke-width="0.85"/>
<circle cx="430.5" cy="205.6" r="1.35" fill="#5a80e2" stroke="#0a0c18" stroke-width="0.85"/>
<circle cx="430" cy="212.9" r="1.35" fill="#5a80e2" stroke="#0a0c18" stroke-width="0.85"/>
<circle cx="431.5" cy="214.4" r="1.35" fill="#5a80e2" stroke="#0a0c18" stroke-width="0.85"/>
<circle cx="430.8" cy="220.6" r="1.35" fill="#5a80e2" stroke="#0a0c18" stroke-width="0.85"/>
<circle cx="438.6" cy="231.3" r="1.35" fill="#5a80e2" stroke="#0a0c18" stroke-width="0.85"/>
<circle cx="438" cy="233.7" r="1.35" fill="#5a80e2" stroke="#0a0c18" stroke-width="0.85"/>
<circle cx="439.5" cy="232.8" r="1.35" fill="#5a80e2" stroke="#0a0c18" stroke-width="0.85"/>
<circle cx="444.4" cy="232" r="1.35" fill="#5a80e2" stroke="#0a0c18" stroke-width="0.85"/>
<circle cx="443.8" cy="233.7" r="1.35" fill="#5a80e2" stroke="#0a0c18" stroke-width="0.85"/>
<circle cx="445.3" cy="233" r="1.35" fill="#5a80e2" stroke="#0a0c18" stroke-width="0.85"/>
<circle cx="453" cy="228.5" r="1.35" fill="#5a80e2" stroke="#0a0c18" stroke-width="0.85"/>
<circle cx="452.5" cy="232.5" r="1.35" fill="#5a80e2" stroke="#0a0c18" stroke-width="0.85"/>
<circle cx="453.8" cy="230.8" r="1.35" fill="#5a80e2" stroke="#0a0c18" stroke-width="0.85"/>
<circle cx="458.8" cy="232.5" r="1.35" fill="#5a80e2" stroke="#0a0c18" stroke-width="0.85"/>
<circle cx="458.2" cy="235" r="1.35" fill="#5a80e2" stroke="#0a0c18" stroke-width="0.85"/>
<circle cx="459.6" cy="233.5" r="1.35" fill="#5a80e2" stroke="#0a0c18" stroke-width="0.85"/>
<circle cx="466.5" cy="202.7" r="1.35" fill="#5a80e2" stroke="#0a0c18" stroke-width="0.85"/>
<circle cx="465.8" cy="214.9" r="1.35" fill="#5a80e2" stroke="#0a0c18" stroke-width="0.85"/>
<circle cx="467.2" cy="213" r="1.35" fill="#5a80e2" stroke="#0a0c18" stroke-width="0.85"/>
<circle cx="472.7" cy="201.5" r="1.35" fill="#5a80e2" stroke="#0a0c18" stroke-width="0.85"/>
<circle cx="472" cy="208.5" r="1.35" fill="#5a80e2" stroke="#0a0c18" stroke-width="0.85"/>
<circle cx="473.4" cy="215.4" r="1.35" fill="#5a80e2" stroke="#0a0c18" stroke-width="0.85"/>
<circle cx="472" cy="220.5" r="1.35" fill="#5a80e2" stroke="#0a0c18" stroke-width="0.85"/>
<circle cx="480.5" cy="166.8" r="1.35" fill="#5a80e2" stroke="#0a0c18" stroke-width="0.85"/>
<circle cx="480.5" cy="168" r="1.35" fill="#5a80e2" stroke="#0a0c18" stroke-width="0.85"/>
<circle cx="480.5" cy="173.5" r="1.35" fill="#5a80e2" stroke="#0a0c18" stroke-width="0.85"/>
<circle cx="486.5" cy="154.1" r="1.35" fill="#5a80e2" stroke="#0a0c18" stroke-width="0.85"/>
<circle cx="486.5" cy="157.9" r="1.35" fill="#5a80e2" stroke="#0a0c18" stroke-width="0.85"/>
<circle cx="486.5" cy="161.3" r="1.35" fill="#5a80e2" stroke="#0a0c18" stroke-width="0.85"/>
<circle cx="486.5" cy="164.2" r="1.35" fill="#5a80e2" stroke="#0a0c18" stroke-width="0.85"/>
<circle cx="486.5" cy="167.7" r="1.35" fill="#5a80e2" stroke="#0a0c18" stroke-width="0.85"/>
<text x="486.8" y="150.6" font-size="8" text-anchor="middle" font-weight="bold">*</text>
<circle cx="493.5" cy="236" r="1.35" fill="#5a80e2" stroke="#0a0c18" stroke-width="0.85"/>
<circle cx="495" cy="235.8" r="1.35" fill="#5a80e2" stroke="#0a0c18" stroke-width="0.85"/>
<circle cx="500.4" cy="236" r="1.35" fill="#5a80e2" stroke="#0a0c18" stroke-width="0.85"/>
<circle cx="501.5" cy="235.5" r="1.35" fill="#5a80e2" stroke="#0a0c18" stroke-width="0.85"/>
<circle cx="508.5" cy="230.4" r="1.35" fill="#5a80e2" stroke="#0a0c18" stroke-width="0.85"/>
<circle cx="508" cy="235" r="1.35" fill="#5a80e2" stroke="#0a0c18" stroke-width="0.85"/>
<circle cx="513" cy="228" r="1.35" fill="#5a80e2" stroke="#0a0c18" stroke-width="0.85"/>
<circle cx="515.4" cy="231.5" r="1.35" fill="#5a80e2" stroke="#0a0c18" stroke-width="0.85"/>
<circle cx="513" cy="235" r="1.35" fill="#5a80e2" stroke="#0a0c18" stroke-width="0.85"/>
<text x="381.3" y="194.4" font-size="6.7" text-anchor="middle" font-weight="bold" transform="rotate(-90 381.3 194.4)">GM Classes (pmol/mg protein)</text>
<text x="-0.9" y="281.3" font-size="12.5" font-weight="bold">I</text>
<line x1="39" y1="291.85" x2="39" y2="370.5" stroke="#000" stroke-width="0.95" />
<line x1="35.7" y1="291.85" x2="39" y2="291.85" stroke="#000" stroke-width="0.95" />
<text x="33.8" y="294.23" font-size="6.6" text-anchor="end">180</text>
<line x1="35.7" y1="304.96" x2="39" y2="304.96" stroke="#000" stroke-width="0.95" />
<text x="33.8" y="307.33" font-size="6.6" text-anchor="end">150</text>
<line x1="35.7" y1="318.07" x2="39" y2="318.07" stroke="#000" stroke-width="0.95" />
<text x="33.8" y="320.44" font-size="6.6" text-anchor="end">120</text>
<line x1="35.7" y1="331.18" x2="39" y2="331.18" stroke="#000" stroke-width="0.95" />
<text x="33.8" y="333.55" font-size="6.6" text-anchor="end">90</text>
<line x1="35.7" y1="344.28" x2="39" y2="344.28" stroke="#000" stroke-width="0.95" />
<text x="33.8" y="346.66" font-size="6.6" text-anchor="end">60</text>
<line x1="35.7" y1="357.39" x2="39" y2="357.39" stroke="#000" stroke-width="0.95" />
<text x="33.8" y="359.77" font-size="6.6" text-anchor="end">30</text>
<line x1="35.7" y1="370.5" x2="39" y2="370.5" stroke="#000" stroke-width="0.95" />
<text x="33.8" y="372.88" font-size="6.6" text-anchor="end">0</text>
<line x1="39" y1="370.5" x2="135.8" y2="370.5" stroke="#000" stroke-width="0.95" />
<rect x="41.4" y="348" width="4.6" height="22.5" fill="#eef2f5" stroke="#000" stroke-width="0.75" />
<rect x="41.77" y="352" width="3.85" height="18.12" fill="#b4d6f8"/>
<rect x="49.2" y="341" width="4.3" height="29.5" fill="#eef2f5" stroke="#000" stroke-width="0.75" />
<rect x="49.58" y="346.7" width="3.55" height="23.43" fill="#4a93ec"/>
<rect x="56.4" y="347.5" width="4.4" height="23" fill="#eef2f5" stroke="#000" stroke-width="0.75" />
<rect x="56.77" y="354" width="3.65" height="16.12" fill="#a4e6a0"/>
<rect x="64.2" y="341.5" width="4.4" height="29" fill="#eef2f5" stroke="#000" stroke-width="0.75" />
<rect x="64.58" y="349.5" width="3.65" height="20.62" fill="#2f9a3c"/>
<rect x="71.5" y="347" width="4.4" height="23.5" fill="#eef2f5" stroke="#000" stroke-width="0.75" />
<rect x="71.88" y="353.5" width="3.65" height="16.62" fill="#fde4e4"/>
<rect x="78.8" y="346" width="4.6" height="24.5" fill="#eef2f5" stroke="#000" stroke-width="0.75" />
<rect x="79.17" y="354.5" width="3.85" height="15.62" fill="#f38a8c"/>
<rect x="91.5" y="338.5" width="4.6" height="32" fill="#eef2f5" stroke="#000" stroke-width="0.75" />
<rect x="91.88" y="344.6" width="3.85" height="25.52" fill="#b4d6f8"/>
<rect x="98.2" y="317.3" width="5" height="53.2" fill="#eef2f5" stroke="#000" stroke-width="0.75" />
<rect x="98.58" y="317.3" width="4.25" height="52.82" fill="#4a93ec"/>
<rect x="106.1" y="343.8" width="4.3" height="26.7" fill="#eef2f5" stroke="#000" stroke-width="0.75" />
<rect x="106.47" y="351" width="3.55" height="19.12" fill="#a4e6a0"/>
<rect x="113.3" y="344.5" width="4.6" height="26" fill="#eef2f5" stroke="#000" stroke-width="0.75" />
<rect x="113.67" y="351.8" width="3.85" height="18.32" fill="#2f9a3c"/>
<rect x="121.2" y="349.6" width="4.3" height="20.9" fill="#eef2f5" stroke="#000" stroke-width="0.75" />
<rect x="121.58" y="356" width="3.55" height="14.12" fill="#fde4e4"/>
<rect x="128.4" y="348.2" width="4.7" height="22.3" fill="#eef2f5" stroke="#000" stroke-width="0.75" />
<rect x="128.78" y="354.6" width="3.95" height="15.52" fill="#f38a8c"/>
<line x1="43.7" y1="345" x2="43.7" y2="351" stroke="#000" stroke-width="0.75" />
<line x1="42.2" y1="345" x2="45.2" y2="345" stroke="#000" stroke-width="0.75" />
<line x1="42.2" y1="351" x2="45.2" y2="351" stroke="#000" stroke-width="0.75" />
<circle cx="42.7" cy="345.7" r="1.45" fill="#5a80e2" stroke="#0a0a0a" stroke-width="0.75"/>
<circle cx="45.1" cy="345.7" r="1.45" fill="#5a80e2" stroke="#0a0a0a" stroke-width="0.75"/>
<circle cx="43.8" cy="349.1" r="1.45" fill="#5a80e2" stroke="#0a0a0a" stroke-width="0.75"/>
<circle cx="43.8" cy="354" r="1.45" fill="#5a80e2" stroke="#0a0a0a" stroke-width="0.75"/>
<line x1="51.35" y1="338" x2="51.35" y2="344" stroke="#000" stroke-width="0.75" />
<line x1="49.85" y1="338" x2="52.85" y2="338" stroke="#000" stroke-width="0.75" />
<line x1="49.85" y1="344" x2="52.85" y2="344" stroke="#000" stroke-width="0.75" />
<circle cx="51.4" cy="332.1" r="1.45" fill="#5a80e2" stroke="#0a0a0a" stroke-width="0.75"/>
<circle cx="51.4" cy="336" r="1.45" fill="#5a80e2" stroke="#0a0a0a" stroke-width="0.75"/>
<circle cx="51.4" cy="340.9" r="1.45" fill="#5a80e2" stroke="#0a0a0a" stroke-width="0.75"/>
<circle cx="50.4" cy="343.3" r="1.45" fill="#5a80e2" stroke="#0a0a0a" stroke-width="0.75"/>
<circle cx="52.4" cy="343.8" r="1.45" fill="#5a80e2" stroke="#0a0a0a" stroke-width="0.75"/>
<circle cx="51.4" cy="344.8" r="1.45" fill="#5a80e2" stroke="#0a0a0a" stroke-width="0.75"/>
<line x1="58.6" y1="344.5" x2="58.6" y2="350.5" stroke="#000" stroke-width="0.75" />
<line x1="57.1" y1="344.5" x2="60.1" y2="344.5" stroke="#000" stroke-width="0.75" />
<line x1="57.1" y1="350.5" x2="60.1" y2="350.5" stroke="#000" stroke-width="0.75" />
<circle cx="58.6" cy="341.8" r="1.45" fill="#1c8a3c" stroke="#0a0a0a" stroke-width="0.75"/>
<circle cx="58" cy="343.8" r="1.45" fill="#1c8a3c" stroke="#0a0a0a" stroke-width="0.75"/>
<circle cx="58.6" cy="349.1" r="1.45" fill="#1c8a3c" stroke="#0a0a0a" stroke-width="0.75"/>
<circle cx="58" cy="353" r="1.45" fill="#1c8a3c" stroke="#0a0a0a" stroke-width="0.75"/>
<circle cx="59.4" cy="353.5" r="1.45" fill="#1c8a3c" stroke="#0a0a0a" stroke-width="0.75"/>
<line x1="66.4" y1="338.5" x2="66.4" y2="344.5" stroke="#000" stroke-width="0.75" />
<line x1="64.9" y1="338.5" x2="67.9" y2="338.5" stroke="#000" stroke-width="0.75" />
<line x1="64.9" y1="344.5" x2="67.9" y2="344.5" stroke="#000" stroke-width="0.75" />
<circle cx="66.2" cy="339.9" r="1.45" fill="#1c8a3c" stroke="#0a0a0a" stroke-width="0.75"/>
<circle cx="65.5" cy="341" r="1.45" fill="#1c8a3c" stroke="#0a0a0a" stroke-width="0.75"/>
<circle cx="67.2" cy="341.3" r="1.45" fill="#1c8a3c" stroke="#0a0a0a" stroke-width="0.75"/>
<circle cx="66.2" cy="343.3" r="1.45" fill="#1c8a3c" stroke="#0a0a0a" stroke-width="0.75"/>
<circle cx="66.2" cy="348.2" r="1.45" fill="#1c8a3c" stroke="#0a0a0a" stroke-width="0.75"/>
<line x1="73.7" y1="344" x2="73.7" y2="350" stroke="#000" stroke-width="0.75" />
<line x1="72.2" y1="344" x2="75.2" y2="344" stroke="#000" stroke-width="0.75" />
<line x1="72.2" y1="350" x2="75.2" y2="350" stroke="#000" stroke-width="0.75" />
<circle cx="73" cy="346" r="1.45" fill="#c8101a" stroke="#0a0a0a" stroke-width="0.75"/>
<circle cx="74.9" cy="346" r="1.45" fill="#c8101a" stroke="#0a0a0a" stroke-width="0.75"/>
<circle cx="73.7" cy="348.2" r="1.45" fill="#c8101a" stroke="#0a0a0a" stroke-width="0.75"/>
<circle cx="73" cy="350.9" r="1.45" fill="#c8101a" stroke="#0a0a0a" stroke-width="0.75"/>
<circle cx="74.8" cy="351.2" r="1.45" fill="#c8101a" stroke="#0a0a0a" stroke-width="0.75"/>
<line x1="81.1" y1="343" x2="81.1" y2="349" stroke="#000" stroke-width="0.75" />
<line x1="79.6" y1="343" x2="82.6" y2="343" stroke="#000" stroke-width="0.75" />
<line x1="79.6" y1="349" x2="82.6" y2="349" stroke="#000" stroke-width="0.75" />
<circle cx="80.7" cy="332.1" r="1.45" fill="#c8101a" stroke="#0a0a0a" stroke-width="0.75"/>
<circle cx="80.7" cy="342.1" r="1.45" fill="#c8101a" stroke="#0a0a0a" stroke-width="0.75"/>
<circle cx="81.9" cy="347.7" r="1.45" fill="#c8101a" stroke="#0a0a0a" stroke-width="0.75"/>
<circle cx="80" cy="349.6" r="1.45" fill="#c8101a" stroke="#0a0a0a" stroke-width="0.75"/>
<circle cx="81.9" cy="352" r="1.45" fill="#c8101a" stroke="#0a0a0a" stroke-width="0.75"/>
<circle cx="80.2" cy="354" r="1.45" fill="#c8101a" stroke="#0a0a0a" stroke-width="0.75"/>
<line x1="93.8" y1="335.5" x2="93.8" y2="341.5" stroke="#000" stroke-width="0.75" />
<line x1="92.3" y1="335.5" x2="95.3" y2="335.5" stroke="#000" stroke-width="0.75" />
<line x1="92.3" y1="341.5" x2="95.3" y2="341.5" stroke="#000" stroke-width="0.75" />
<circle cx="93.5" cy="334.9" r="1.45" fill="#5a80e2" stroke="#0a0a0a" stroke-width="0.75"/>
<circle cx="93.5" cy="339.5" r="1.45" fill="#5a80e2" stroke="#0a0a0a" stroke-width="0.75"/>
<circle cx="92.5" cy="341" r="1.45" fill="#5a80e2" stroke="#0a0a0a" stroke-width="0.75"/>
<circle cx="94.6" cy="341.6" r="1.45" fill="#5a80e2" stroke="#0a0a0a" stroke-width="0.75"/>
<circle cx="93.5" cy="345.3" r="1.45" fill="#5a80e2" stroke="#0a0a0a" stroke-width="0.75"/>
<line x1="100.7" y1="314.3" x2="100.7" y2="320.3" stroke="#000" stroke-width="0.75" />
<line x1="99.2" y1="314.3" x2="102.2" y2="314.3" stroke="#000" stroke-width="0.75" />
<line x1="99.2" y1="320.3" x2="102.2" y2="320.3" stroke="#000" stroke-width="0.75" />
<circle cx="99.6" cy="306.2" r="1.45" fill="#5a80e2" stroke="#0a0a0a" stroke-width="0.75"/>
<circle cx="101.8" cy="306.5" r="1.45" fill="#5a80e2" stroke="#0a0a0a" stroke-width="0.75"/>
<circle cx="100.4" cy="314.1" r="1.45" fill="#5a80e2" stroke="#0a0a0a" stroke-width="0.75"/>
<circle cx="100.4" cy="318" r="1.45" fill="#5a80e2" stroke="#0a0a0a" stroke-width="0.75"/>
<circle cx="101.5" cy="325.2" r="1.45" fill="#5a80e2" stroke="#0a0a0a" stroke-width="0.75"/>
<circle cx="99.6" cy="328.3" r="1.45" fill="#5a80e2" stroke="#0a0a0a" stroke-width="0.75"/>
<line x1="108.25" y1="340.8" x2="108.25" y2="346.8" stroke="#000" stroke-width="0.75" />
<line x1="106.75" y1="340.8" x2="109.75" y2="340.8" stroke="#000" stroke-width="0.75" />
<line x1="106.75" y1="346.8" x2="109.75" y2="346.8" stroke="#000" stroke-width="0.75" />
<circle cx="107.6" cy="340.3" r="1.45" fill="#1c8a3c" stroke="#0a0a0a" stroke-width="0.75"/>
<circle cx="108.7" cy="342.4" r="1.45" fill="#1c8a3c" stroke="#0a0a0a" stroke-width="0.75"/>
<circle cx="107.6" cy="345.3" r="1.45" fill="#1c8a3c" stroke="#0a0a0a" stroke-width="0.75"/>
<circle cx="108.7" cy="347.4" r="1.45" fill="#1c8a3c" stroke="#0a0a0a" stroke-width="0.75"/>
<circle cx="107.6" cy="349.6" r="1.45" fill="#1c8a3c" stroke="#0a0a0a" stroke-width="0.75"/>
<line x1="115.6" y1="341.5" x2="115.6" y2="347.5" stroke="#000" stroke-width="0.75" />
<line x1="114.1" y1="341.5" x2="117.1" y2="341.5" stroke="#000" stroke-width="0.75" />
<line x1="114.1" y1="347.5" x2="117.1" y2="347.5" stroke="#000" stroke-width="0.75" />
<circle cx="115.5" cy="339.8" r="1.45" fill="#1c8a3c" stroke="#0a0a0a" stroke-width="0.75"/>
<circle cx="115" cy="342.4" r="1.45" fill="#1c8a3c" stroke="#0a0a0a" stroke-width="0.75"/>
<circle cx="116" cy="344.6" r="1.45" fill="#1c8a3c" stroke="#0a0a0a" stroke-width="0.75"/>
<circle cx="115.5" cy="347.4" r="1.45" fill="#1c8a3c" stroke="#0a0a0a" stroke-width="0.75"/>
<circle cx="115" cy="349.9" r="1.45" fill="#1c8a3c" stroke="#0a0a0a" stroke-width="0.75"/>
<line x1="123.35" y1="346.6" x2="123.35" y2="352.6" stroke="#000" stroke-width="0.75" />
<line x1="121.85" y1="346.6" x2="124.85" y2="346.6" stroke="#000" stroke-width="0.75" />
<line x1="121.85" y1="352.6" x2="124.85" y2="352.6" stroke="#000" stroke-width="0.75" />
<circle cx="124.1" cy="345.3" r="1.45" fill="#c8101a" stroke="#0a0a0a" stroke-width="0.75"/>
<circle cx="122.6" cy="347.4" r="1.45" fill="#c8101a" stroke="#0a0a0a" stroke-width="0.75"/>
<circle cx="123.1" cy="351.8" r="1.45" fill="#c8101a" stroke="#0a0a0a" stroke-width="0.75"/>
<circle cx="123.6" cy="354.6" r="1.45" fill="#c8101a" stroke="#0a0a0a" stroke-width="0.75"/>
<line x1="130.75" y1="345.2" x2="130.75" y2="351.2" stroke="#000" stroke-width="0.75" />
<line x1="129.25" y1="345.2" x2="132.25" y2="345.2" stroke="#000" stroke-width="0.75" />
<line x1="129.25" y1="351.2" x2="132.25" y2="351.2" stroke="#000" stroke-width="0.75" />
<circle cx="131.7" cy="339.5" r="1.45" fill="#c8101a" stroke="#0a0a0a" stroke-width="0.75"/>
<circle cx="129.8" cy="342.4" r="1.45" fill="#c8101a" stroke="#0a0a0a" stroke-width="0.75"/>
<circle cx="129.8" cy="349.6" r="1.45" fill="#c8101a" stroke="#0a0a0a" stroke-width="0.75"/>
<circle cx="131.7" cy="351.8" r="1.45" fill="#c8101a" stroke="#0a0a0a" stroke-width="0.75"/>
<circle cx="130.5" cy="353.9" r="1.45" fill="#c8101a" stroke="#0a0a0a" stroke-width="0.75"/>
<line x1="51.8" y1="295.6" x2="99.8" y2="295.6" stroke="#444" stroke-width="1" />
<text x="75.5" y="294" font-size="5.5" text-anchor="middle">#</text>
<text x="101" y="304.9" font-size="8" text-anchor="middle" font-weight="bold">*</text>
<text x="44.1" y="377.4" font-size="6.9" text-anchor="middle">B</text>
<text x="51.4" y="377.4" font-size="6.9" text-anchor="middle">I</text>
<text x="58.1" y="377.4" font-size="6.9" text-anchor="middle">B</text>
<text x="66.8" y="377.4" font-size="6.9" text-anchor="middle">I</text>
<text x="73.5" y="377.4" font-size="6.9" text-anchor="middle">B</text>
<text x="81.2" y="377.4" font-size="6.9" text-anchor="middle">I</text>
<text x="93.3" y="377.4" font-size="6.9" text-anchor="middle">B</text>
<text x="101.4" y="377.4" font-size="6.9" text-anchor="middle">I</text>
<text x="108.7" y="377.4" font-size="6.9" text-anchor="middle">B</text>
<text x="116.4" y="377.4" font-size="6.9" text-anchor="middle">I</text>
<text x="123.5" y="377.4" font-size="6.9" text-anchor="middle">B</text>
<text x="130.6" y="377.4" font-size="6.9" text-anchor="middle">I</text>
<line x1="40.8" y1="380" x2="53.3" y2="380" stroke="#333" stroke-width="1.05" />
<line x1="56.2" y1="380" x2="68.7" y2="380" stroke="#333" stroke-width="1.05" />
<line x1="71" y1="380" x2="83.1" y2="380" stroke="#333" stroke-width="1.05" />
<line x1="90.8" y1="380" x2="103.3" y2="380" stroke="#333" stroke-width="1.05" />
<line x1="106.2" y1="380" x2="118.7" y2="380" stroke="#333" stroke-width="1.05" />
<line x1="120.6" y1="380" x2="132.2" y2="380" stroke="#333" stroke-width="1.05" />
<text x="52" y="385.4" font-size="7.1" text-anchor="end" transform="rotate(-45 52 385.4)">Control</text>
<text x="66.4" y="386.4" font-size="7.1" text-anchor="end" transform="rotate(-45 66.4 386.4)">β-MCD</text>
<text x="80.9" y="387.3" font-size="7.1" text-anchor="end" transform="rotate(-45 80.9 387.3)">Filipin</text>
<text x="101.1" y="385.4" font-size="7.1" text-anchor="end" transform="rotate(-45 101.1 385.4)">Control</text>
<text x="115.5" y="386.4" font-size="7.1" text-anchor="end" transform="rotate(-45 115.5 386.4)">β-MCD</text>
<text x="129.9" y="387.3" font-size="7.1" text-anchor="end" transform="rotate(-45 129.9 387.3)">Filipin</text>
<text x="49.8" y="408.7" font-size="7" textLength="25.2" lengthAdjust="spacingAndGlyphs" font-weight="bold">Control</text>
<text x="102.3" y="408.7" font-size="7" textLength="19.6" lengthAdjust="spacingAndGlyphs" font-weight="bold">HEXA</text>
<text x="9.7" y="330.5" font-size="6.8" textLength="73.5" lengthAdjust="spacingAndGlyphs" text-anchor="middle" font-weight="bold" transform="rotate(-90 9.7 330.5)">L6-GLUT4 2DG Uptake</text>
<text x="17.9" y="330.2" font-size="6.8" textLength="60" lengthAdjust="spacingAndGlyphs" text-anchor="middle" font-weight="bold" transform="rotate(-90 17.9 330.2)">(nmol/mg protein)</text>
<text x="148.9" y="283.3" font-size="12.5" font-weight="bold">J</text>
<text x="169.6" y="284.9" font-size="6.8" textLength="62.8" lengthAdjust="spacingAndGlyphs">Insulin effect p&lt;0.05</text>
<line x1="184.6" y1="291.6" x2="184.6" y2="370.4" stroke="#000" stroke-width="0.95" />
<line x1="181.3" y1="291.6" x2="184.6" y2="291.6" stroke="#000" stroke-width="0.95" />
<text x="179.5" y="293.98" font-size="6.6" text-anchor="end">100</text>
<line x1="181.3" y1="307.36" x2="184.6" y2="307.36" stroke="#000" stroke-width="0.95" />
<text x="179.5" y="309.74" font-size="6.6" text-anchor="end">80</text>
<line x1="181.3" y1="323.12" x2="184.6" y2="323.12" stroke="#000" stroke-width="0.95" />
<text x="179.5" y="325.5" font-size="6.6" text-anchor="end">60</text>
<line x1="181.3" y1="338.88" x2="184.6" y2="338.88" stroke="#000" stroke-width="0.95" />
<text x="179.5" y="341.26" font-size="6.6" text-anchor="end">40</text>
<line x1="181.3" y1="354.64" x2="184.6" y2="354.64" stroke="#000" stroke-width="0.95" />
<text x="179.5" y="357.02" font-size="6.6" text-anchor="end">20</text>
<line x1="181.3" y1="370.4" x2="184.6" y2="370.4" stroke="#000" stroke-width="0.95" />
<text x="179.5" y="372.78" font-size="6.6" text-anchor="end">0</text>
<line x1="184.6" y1="370.4" x2="238.8" y2="370.4" stroke="#000" stroke-width="0.95" />
<rect x="189.2" y="332.4" width="8.3" height="38" fill="#b4d6f8" stroke="#000" stroke-width="0.8" />
<rect x="200.2" y="311.9" width="7.8" height="58.5" fill="#4a93ec" stroke="#000" stroke-width="0.8" />
<rect x="214.8" y="330.7" width="8" height="39.7" fill="#b4d6f8" stroke="#000" stroke-width="0.8" />
<rect x="226" y="321.6" width="7.8" height="48.8" fill="#4a93ec" stroke="#000" stroke-width="0.8" />
<line x1="193.35" y1="328.9" x2="193.35" y2="335.9" stroke="#000" stroke-width="0.95" />
<line x1="191.15" y1="328.9" x2="195.55" y2="328.9" stroke="#000" stroke-width="0.95" />
<line x1="191.15" y1="335.9" x2="195.55" y2="335.9" stroke="#000" stroke-width="0.95" />
<circle cx="192.9" cy="309.4" r="1.6" fill="#5a80e2" stroke="#0a0c18" stroke-width="0.85"/>
<circle cx="192.9" cy="329" r="1.6" fill="#5a80e2" stroke="#0a0c18" stroke-width="0.85"/>
<circle cx="192.9" cy="335.4" r="1.6" fill="#5a80e2" stroke="#0a0c18" stroke-width="0.85"/>
<circle cx="190.4" cy="339.1" r="1.6" fill="#5a80e2" stroke="#0a0c18" stroke-width="0.85"/>
<circle cx="195.4" cy="339.1" r="1.6" fill="#5a80e2" stroke="#0a0c18" stroke-width="0.85"/>
<circle cx="190.7" cy="342.1" r="1.6" fill="#5a80e2" stroke="#0a0c18" stroke-width="0.85"/>
<line x1="204.1" y1="308.4" x2="204.1" y2="315.4" stroke="#000" stroke-width="0.95" />
<line x1="201.9" y1="308.4" x2="206.3" y2="308.4" stroke="#000" stroke-width="0.95" />
<line x1="201.9" y1="315.4" x2="206.3" y2="315.4" stroke="#000" stroke-width="0.95" />
<circle cx="203.8" cy="295.4" r="1.6" fill="#5a80e2" stroke="#0a0c18" stroke-width="0.85"/>
<circle cx="203.8" cy="300.5" r="1.6" fill="#5a80e2" stroke="#0a0c18" stroke-width="0.85"/>
<circle cx="203.8" cy="308.5" r="1.6" fill="#5a80e2" stroke="#0a0c18" stroke-width="0.85"/>
<circle cx="202.2" cy="321.1" r="1.6" fill="#5a80e2" stroke="#0a0c18" stroke-width="0.85"/>
<circle cx="206.9" cy="322.3" r="1.6" fill="#5a80e2" stroke="#0a0c18" stroke-width="0.85"/>
<circle cx="201.7" cy="324.5" r="1.6" fill="#5a80e2" stroke="#0a0c18" stroke-width="0.85"/>
<line x1="218.8" y1="327.2" x2="218.8" y2="334.2" stroke="#000" stroke-width="0.95" />
<line x1="216.6" y1="327.2" x2="221" y2="327.2" stroke="#000" stroke-width="0.95" />
<line x1="216.6" y1="334.2" x2="221" y2="334.2" stroke="#000" stroke-width="0.95" />
<circle cx="219" cy="325.7" r="1.6" fill="#5a80e2" stroke="#0a0c18" stroke-width="0.85"/>
<circle cx="216.5" cy="332.9" r="1.6" fill="#5a80e2" stroke="#0a0c18" stroke-width="0.85"/>
<circle cx="221.5" cy="331.2" r="1.6" fill="#5a80e2" stroke="#0a0c18" stroke-width="0.85"/>
<circle cx="219.3" cy="334.6" r="1.6" fill="#5a80e2" stroke="#0a0c18" stroke-width="0.85"/>
<circle cx="216.5" cy="337.9" r="1.6" fill="#5a80e2" stroke="#0a0c18" stroke-width="0.85"/>
<circle cx="222" cy="336.3" r="1.6" fill="#5a80e2" stroke="#0a0c18" stroke-width="0.85"/>
<line x1="229.9" y1="318.1" x2="229.9" y2="325.1" stroke="#000" stroke-width="0.95" />
<line x1="227.7" y1="318.1" x2="232.1" y2="318.1" stroke="#000" stroke-width="0.95" />
<line x1="227.7" y1="325.1" x2="232.1" y2="325.1" stroke="#000" stroke-width="0.95" />
<circle cx="229.9" cy="302.3" r="1.6" fill="#5a80e2" stroke="#0a0c18" stroke-width="0.85"/>
<circle cx="229.9" cy="313.9" r="1.6" fill="#5a80e2" stroke="#0a0c18" stroke-width="0.85"/>
<circle cx="229.9" cy="317.8" r="1.6" fill="#5a80e2" stroke="#0a0c18" stroke-width="0.85"/>
<circle cx="227.4" cy="327" r="1.6" fill="#5a80e2" stroke="#0a0c18" stroke-width="0.85"/>
<circle cx="232.1" cy="330.7" r="1.6" fill="#5a80e2" stroke="#0a0c18" stroke-width="0.85"/>
<circle cx="229.9" cy="336.8" r="1.6" fill="#5a80e2" stroke="#0a0c18" stroke-width="0.85"/>
<text x="193.4" y="377.5" font-size="6.3" text-anchor="middle">B</text>
<text x="204.4" y="377.5" font-size="6.3" text-anchor="middle">I</text>
<text x="219.4" y="377.5" font-size="6.3" text-anchor="middle">B</text>
<text x="230.6" y="377.5" font-size="6.3" text-anchor="middle">I</text>
<text x="186.9" y="384.75" font-size="6.5" textLength="23" lengthAdjust="spacingAndGlyphs" font-weight="bold">Control</text>
<text x="215" y="384.75" font-size="6.5" textLength="18" lengthAdjust="spacingAndGlyphs" font-weight="bold">HEXA</text>
<text x="211.9" y="391.9" font-size="6.5" textLength="24.2" lengthAdjust="spacingAndGlyphs" font-weight="bold">(R178H)</text>
<text x="157.4" y="329.5" font-size="6.8" textLength="75" lengthAdjust="spacingAndGlyphs" text-anchor="middle" font-weight="bold" transform="rotate(-90 157.4 329.5)">L6-GLUT4 2DG Uptake</text>
<text x="165.5" y="331.5" font-size="6.8" textLength="62" lengthAdjust="spacingAndGlyphs" text-anchor="middle" font-weight="bold" transform="rotate(-90 165.5 331.5)">(nmol/mg protein)</text>
<text x="255.6" y="282.5" font-size="12.5" font-weight="bold">K</text>
<line x1="292.4" y1="288.2" x2="292.4" y2="326.5" stroke="#000" stroke-width="0.95" />
<line x1="290.4" y1="288.2" x2="292.4" y2="288.2" stroke="#000" stroke-width="0.95" />
<text x="289.4" y="290.32" font-size="5.9" text-anchor="end">1,000</text>
<line x1="290.4" y1="296.1" x2="292.4" y2="296.1" stroke="#000" stroke-width="0.95" />
<text x="289.4" y="298.22" font-size="5.9" text-anchor="end">800</text>
<line x1="290.4" y1="304" x2="292.4" y2="304" stroke="#000" stroke-width="0.95" />
<text x="289.4" y="306.12" font-size="5.9" text-anchor="end">600</text>
<line x1="290.4" y1="311.9" x2="292.4" y2="311.9" stroke="#000" stroke-width="0.95" />
<text x="289.4" y="314.02" font-size="5.9" text-anchor="end">400</text>
<line x1="290.4" y1="319.8" x2="292.4" y2="319.8" stroke="#000" stroke-width="0.95" />
<text x="289.4" y="321.92" font-size="5.9" text-anchor="end">200</text>
<line x1="290.6" y1="326.5" x2="294.2" y2="326.5" stroke="#000" stroke-width="0.95" />
<line x1="292.4" y1="332.6" x2="292.4" y2="371" stroke="#000" stroke-width="0.95" />
<line x1="290.4" y1="332.6" x2="292.4" y2="332.6" stroke="#000" stroke-width="0.95" />
<text x="289.4" y="334.98" font-size="6.6" text-anchor="end">4</text>
<line x1="290.4" y1="342.2" x2="292.4" y2="342.2" stroke="#000" stroke-width="0.95" />
<text x="289.4" y="344.58" font-size="6.6" text-anchor="end">3</text>
<line x1="290.4" y1="351.8" x2="292.4" y2="351.8" stroke="#000" stroke-width="0.95" />
<text x="289.4" y="354.18" font-size="6.6" text-anchor="end">2</text>
<line x1="290.4" y1="361.4" x2="292.4" y2="361.4" stroke="#000" stroke-width="0.95" />
<text x="289.4" y="363.78" font-size="6.6" text-anchor="end">1</text>
<line x1="290.4" y1="371" x2="292.4" y2="371" stroke="#000" stroke-width="0.95" />
<text x="289.4" y="373.38" font-size="6.6" text-anchor="end">0</text>
<line x1="290.6" y1="332.6" x2="294.2" y2="332.6" stroke="#000" stroke-width="0.95" />
<line x1="292.4" y1="371" x2="352.8" y2="371" stroke="#000" stroke-width="0.95" />
<rect x="298" y="359.9" width="9" height="11.1" fill="#fff" stroke="#000" stroke-width="0.8" />
<rect x="311.8" y="318.7" width="8.8" height="7.8" fill="#a9cdf5"/>
<rect x="311.8" y="332.6" width="8.8" height="38.4" fill="#a9cdf5"/>
<line x1="311.8" y1="318.7" x2="320.6" y2="318.7" stroke="#000" stroke-width="0.8" />
<line x1="311.8" y1="318.3" x2="311.8" y2="326.5" stroke="#000" stroke-width="0.8" />
<line x1="311.8" y1="332.6" x2="311.8" y2="371" stroke="#000" stroke-width="0.8" />
<line x1="320.6" y1="318.3" x2="320.6" y2="326.5" stroke="#000" stroke-width="0.8" />
<line x1="320.6" y1="332.6" x2="320.6" y2="371" stroke="#000" stroke-width="0.8" />
<rect x="325.3" y="359.9" width="9" height="11.1" fill="#fff" stroke="#000" stroke-width="0.8" />
<rect x="338.8" y="365.5" width="9" height="5.5" fill="#a9cdf5" stroke="#000" stroke-width="0.8" />
<line x1="302.5" y1="356.5" x2="302.5" y2="363" stroke="#000" stroke-width="0.95" />
<line x1="300.3" y1="356.5" x2="304.7" y2="356.5" stroke="#000" stroke-width="0.95" />
<line x1="300.3" y1="363" x2="304.7" y2="363" stroke="#000" stroke-width="0.95" />
<line x1="316.2" y1="315.5" x2="316.2" y2="322" stroke="#000" stroke-width="0.95" />
<line x1="314" y1="315.5" x2="318.4" y2="315.5" stroke="#000" stroke-width="0.95" />
<line x1="314" y1="322" x2="318.4" y2="322" stroke="#000" stroke-width="0.95" />
<line x1="329.8" y1="357" x2="329.8" y2="363" stroke="#000" stroke-width="0.95" />
<line x1="327.6" y1="357" x2="332" y2="357" stroke="#000" stroke-width="0.95" />
<line x1="327.6" y1="363" x2="332" y2="363" stroke="#000" stroke-width="0.95" />
<line x1="343.3" y1="363.5" x2="343.3" y2="367.5" stroke="#000" stroke-width="0.95" />
<line x1="341.1" y1="363.5" x2="345.5" y2="363.5" stroke="#000" stroke-width="0.95" />
<line x1="341.1" y1="367.5" x2="345.5" y2="367.5" stroke="#000" stroke-width="0.95" />
<circle cx="302.3" cy="349.1" r="1.5" fill="#5a80e2" stroke="#0a0c18" stroke-width="0.85"/>
<circle cx="302.3" cy="353" r="1.5" fill="#5a80e2" stroke="#0a0c18" stroke-width="0.85"/>
<circle cx="299.5" cy="359" r="1.5" fill="#5a80e2" stroke="#0a0c18" stroke-width="0.85"/>
<circle cx="305.3" cy="359.9" r="1.5" fill="#5a80e2" stroke="#0a0c18" stroke-width="0.85"/>
<circle cx="299.5" cy="363.7" r="1.5" fill="#5a80e2" stroke="#0a0c18" stroke-width="0.85"/>
<circle cx="304" cy="364.5" r="1.5" fill="#5a80e2" stroke="#0a0c18" stroke-width="0.85"/>
<circle cx="300.5" cy="368" r="1.5" fill="#5a80e2" stroke="#0a0c18" stroke-width="0.85"/>
<circle cx="305.3" cy="367.8" r="1.5" fill="#5a80e2" stroke="#0a0c18" stroke-width="0.85"/>
<circle cx="302" cy="361.5" r="1.5" fill="#5a80e2" stroke="#0a0c18" stroke-width="0.85"/>
<circle cx="316.3" cy="295" r="1.5" fill="#5a80e2" stroke="#0a0c18" stroke-width="0.85"/>
<circle cx="316.3" cy="305.8" r="1.5" fill="#5a80e2" stroke="#0a0c18" stroke-width="0.85"/>
<circle cx="313.5" cy="319.7" r="1.5" fill="#5a80e2" stroke="#0a0c18" stroke-width="0.85"/>
<circle cx="318.8" cy="319.7" r="1.5" fill="#5a80e2" stroke="#0a0c18" stroke-width="0.85"/>
<circle cx="313.8" cy="322.8" r="1.5" fill="#5a80e2" stroke="#0a0c18" stroke-width="0.85"/>
<circle cx="318.8" cy="323.5" r="1.5" fill="#5a80e2" stroke="#0a0c18" stroke-width="0.85"/>
<circle cx="315.5" cy="326.2" r="1.5" fill="#5a80e2" stroke="#0a0c18" stroke-width="0.85"/>
<circle cx="317.5" cy="325.5" r="1.5" fill="#5a80e2" stroke="#0a0c18" stroke-width="0.85"/>
<circle cx="326.4" cy="356.2" r="1.5" fill="#5a80e2" stroke="#0a0c18" stroke-width="0.85"/>
<circle cx="333.2" cy="356.2" r="1.5" fill="#5a80e2" stroke="#0a0c18" stroke-width="0.85"/>
<circle cx="327.4" cy="360.5" r="1.5" fill="#5a80e2" stroke="#0a0c18" stroke-width="0.85"/>
<circle cx="332.4" cy="361.2" r="1.5" fill="#5a80e2" stroke="#0a0c18" stroke-width="0.85"/>
<circle cx="328.5" cy="364.8" r="1.5" fill="#5a80e2" stroke="#0a0c18" stroke-width="0.85"/>
<circle cx="333.2" cy="365.8" r="1.5" fill="#5a80e2" stroke="#0a0c18" stroke-width="0.85"/>
<circle cx="329" cy="368.2" r="1.5" fill="#5a80e2" stroke="#0a0c18" stroke-width="0.85"/>
<circle cx="326.4" cy="363.5" r="1.5" fill="#5a80e2" stroke="#0a0c18" stroke-width="0.85"/>
<circle cx="342.5" cy="358.4" r="1.5" fill="#5a80e2" stroke="#0a0c18" stroke-width="0.85"/>
<circle cx="343.5" cy="360" r="1.5" fill="#5a80e2" stroke="#0a0c18" stroke-width="0.85"/>
<circle cx="340.3" cy="364.8" r="1.5" fill="#5a80e2" stroke="#0a0c18" stroke-width="0.85"/>
<circle cx="345.5" cy="365.8" r="1.5" fill="#5a80e2" stroke="#0a0c18" stroke-width="0.85"/>
<circle cx="341.3" cy="368" r="1.5" fill="#5a80e2" stroke="#0a0c18" stroke-width="0.85"/>
<circle cx="344.6" cy="369.1" r="1.5" fill="#5a80e2" stroke="#0a0c18" stroke-width="0.85"/>
<circle cx="340.3" cy="369.5" r="1.5" fill="#5a80e2" stroke="#0a0c18" stroke-width="0.85"/>
<text x="316.3" y="292.6" font-size="8" text-anchor="middle" font-weight="bold">*</text>
<rect x="327.4" y="286.4" width="4.3" height="3.9" fill="#fff" stroke="#000" stroke-width="0.75" />
<rect x="327.4" y="293.5" width="4.3" height="4" fill="#a9cdf5" stroke="#000" stroke-width="0.75" />
<text x="336" y="290.3" font-size="6.4" textLength="20.2" lengthAdjust="spacingAndGlyphs">Control</text>
<text x="336" y="297.6" font-size="6.4" textLength="17" lengthAdjust="spacingAndGlyphs">HEXA</text>
<text x="300.6" y="379.8" font-size="6.4" textLength="17" lengthAdjust="spacingAndGlyphs" font-style="italic">HEXA</text>
<text x="300.9" y="386.9" font-size="6.4" textLength="16.8" lengthAdjust="spacingAndGlyphs">mRNA</text>
<text x="327.4" y="379.8" font-size="6.4" textLength="17.6" lengthAdjust="spacingAndGlyphs" font-style="italic">HEXB</text>
<text x="327.6" y="386.9" font-size="6.4" textLength="16.8" lengthAdjust="spacingAndGlyphs">mRNA</text>
<text x="267.6" y="329.9" font-size="6.2" textLength="19" lengthAdjust="spacingAndGlyphs" text-anchor="middle" font-weight="bold" transform="rotate(-90 267.6 329.9)">mRNA</text>
<text x="274.6" y="330.1" font-size="6.3" textLength="54.4" lengthAdjust="spacingAndGlyphs" text-anchor="middle" font-weight="bold" transform="rotate(-90 274.6 330.1)">(relative to <tspan font-style="italic">HPRT</tspan>)</text>
<text x="371.2" y="282.1" font-size="12.5" font-weight="bold">L</text>
<line x1="406.1" y1="289.6" x2="406.1" y2="370.2" stroke="#000" stroke-width="0.95" />
<line x1="403.3" y1="289.6" x2="406.1" y2="289.6" stroke="#000" stroke-width="0.95" />
<text x="402.3" y="291.98" font-size="6.6" text-anchor="end">15</text>
<line x1="403.3" y1="316.47" x2="406.1" y2="316.47" stroke="#000" stroke-width="0.95" />
<text x="402.3" y="318.84" font-size="6.6" text-anchor="end">10</text>
<line x1="403.3" y1="343.33" x2="406.1" y2="343.33" stroke="#000" stroke-width="0.95" />
<text x="402.3" y="345.71" font-size="6.6" text-anchor="end">5</text>
<line x1="403.3" y1="370.2" x2="406.1" y2="370.2" stroke="#000" stroke-width="0.95" />
<text x="402.3" y="372.58" font-size="6.6" text-anchor="end">0</text>
<line x1="406.1" y1="370.2" x2="488" y2="370.2" stroke="#000" stroke-width="0.95" />
<rect x="409.1" y="333.5" width="5.6" height="36.7" fill="#eef2f5" stroke="#000" stroke-width="0.8" />
<rect x="409.5" y="338.1" width="4.8" height="31.7" fill="#b4d6f8"/>
<rect x="418" y="325.6" width="5.6" height="44.6" fill="#eef2f5" stroke="#000" stroke-width="0.8" />
<rect x="418.4" y="325.6" width="4.8" height="44.2" fill="#4a93ec"/>
<rect x="427.4" y="327" width="5.6" height="43.2" fill="#eef2f5" stroke="#000" stroke-width="0.8" />
<rect x="427.8" y="327" width="4.8" height="42.8" fill="#a4e6a0"/>
<rect x="436.3" y="324.5" width="5.6" height="45.7" fill="#eef2f5" stroke="#000" stroke-width="0.8" />
<rect x="436.7" y="324.5" width="4.8" height="45.3" fill="#1c7a34"/>
<rect x="451.6" y="330.7" width="6" height="39.5" fill="#eef2f5" stroke="#000" stroke-width="0.8" />
<rect x="452" y="330.7" width="5.2" height="39.1" fill="#b4d6f8"/>
<rect x="460.9" y="314.8" width="5.6" height="55.4" fill="#eef2f5" stroke="#000" stroke-width="0.8" />
<rect x="461.3" y="314.8" width="4.8" height="55" fill="#4a93ec"/>
<rect x="469.9" y="312" width="5.9" height="58.2" fill="#eef2f5" stroke="#000" stroke-width="0.8" />
<rect x="470.3" y="312" width="5.1" height="57.8" fill="#a4e6a0"/>
<rect x="479.2" y="318.2" width="5.6" height="52" fill="#eef2f5" stroke="#000" stroke-width="0.8" />
<rect x="479.6" y="318.2" width="4.8" height="51.6" fill="#1c7a34"/>
<line x1="411.9" y1="331" x2="411.9" y2="336" stroke="#000" stroke-width="0.95" />
<line x1="410.1" y1="331" x2="413.7" y2="331" stroke="#000" stroke-width="0.95" />
<line x1="410.1" y1="336" x2="413.7" y2="336" stroke="#000" stroke-width="0.95" />
<circle cx="410.6" cy="326" r="1.55" fill="#5a80e2" stroke="#0a0a0a" stroke-width="0.8"/>
<circle cx="413.4" cy="328.8" r="1.55" fill="#5a80e2" stroke="#0a0a0a" stroke-width="0.8"/>
<circle cx="411.5" cy="333.8" r="1.55" fill="#5a80e2" stroke="#0a0a0a" stroke-width="0.8"/>
<circle cx="412.5" cy="338.1" r="1.55" fill="#5a80e2" stroke="#0a0a0a" stroke-width="0.8"/>
<circle cx="411.5" cy="340.5" r="1.55" fill="#5a80e2" stroke="#0a0a0a" stroke-width="0.8"/>
<line x1="420.8" y1="323.1" x2="420.8" y2="328.1" stroke="#000" stroke-width="0.95" />
<line x1="419" y1="323.1" x2="422.6" y2="323.1" stroke="#000" stroke-width="0.95" />
<line x1="419" y1="328.1" x2="422.6" y2="328.1" stroke="#000" stroke-width="0.95" />
<circle cx="420.8" cy="320.4" r="1.55" fill="#5a80e2" stroke="#0a0a0a" stroke-width="0.8"/>
<circle cx="419.5" cy="324.1" r="1.55" fill="#5a80e2" stroke="#0a0a0a" stroke-width="0.8"/>
<circle cx="422.7" cy="325.1" r="1.55" fill="#5a80e2" stroke="#0a0a0a" stroke-width="0.8"/>
<circle cx="420.8" cy="332.5" r="1.55" fill="#5a80e2" stroke="#0a0a0a" stroke-width="0.8"/>
<line x1="430.2" y1="324.5" x2="430.2" y2="329.5" stroke="#000" stroke-width="0.95" />
<line x1="428.4" y1="324.5" x2="432" y2="324.5" stroke="#000" stroke-width="0.95" />
<line x1="428.4" y1="329.5" x2="432" y2="329.5" stroke="#000" stroke-width="0.95" />
<circle cx="428.9" cy="323.2" r="1.55" fill="#1c8a3c" stroke="#0a0a0a" stroke-width="0.8"/>
<circle cx="431.7" cy="321.9" r="1.55" fill="#1c8a3c" stroke="#0a0a0a" stroke-width="0.8"/>
<circle cx="430.2" cy="327.9" r="1.55" fill="#1c8a3c" stroke="#0a0a0a" stroke-width="0.8"/>
<circle cx="429.6" cy="331.6" r="1.55" fill="#1c8a3c" stroke="#0a0a0a" stroke-width="0.8"/>
<line x1="439.1" y1="322" x2="439.1" y2="327" stroke="#000" stroke-width="0.95" />
<line x1="437.3" y1="322" x2="440.9" y2="322" stroke="#000" stroke-width="0.95" />
<line x1="437.3" y1="327" x2="440.9" y2="327" stroke="#000" stroke-width="0.95" />
<circle cx="438.9" cy="318.6" r="1.55" fill="#1c8a3c" stroke="#0a0a0a" stroke-width="0.8"/>
<circle cx="437.6" cy="323.2" r="1.55" fill="#1c8a3c" stroke="#0a0a0a" stroke-width="0.8"/>
<circle cx="440" cy="325.6" r="1.55" fill="#1c8a3c" stroke="#0a0a0a" stroke-width="0.8"/>
<circle cx="438.9" cy="331.6" r="1.55" fill="#1c8a3c" stroke="#0a0a0a" stroke-width="0.8"/>
<line x1="454.6" y1="328.2" x2="454.6" y2="333.2" stroke="#000" stroke-width="0.95" />
<line x1="452.8" y1="328.2" x2="456.4" y2="328.2" stroke="#000" stroke-width="0.95" />
<line x1="452.8" y1="333.2" x2="456.4" y2="333.2" stroke="#000" stroke-width="0.95" />
<circle cx="453.1" cy="326.4" r="1.55" fill="#5a80e2" stroke="#0a0a0a" stroke-width="0.8"/>
<circle cx="455.7" cy="327.5" r="1.55" fill="#5a80e2" stroke="#0a0a0a" stroke-width="0.8"/>
<circle cx="453.8" cy="331.6" r="1.55" fill="#5a80e2" stroke="#0a0a0a" stroke-width="0.8"/>
<circle cx="454.4" cy="335.3" r="1.55" fill="#5a80e2" stroke="#0a0a0a" stroke-width="0.8"/>
<line x1="463.7" y1="312.3" x2="463.7" y2="317.3" stroke="#000" stroke-width="0.95" />
<line x1="461.9" y1="312.3" x2="465.5" y2="312.3" stroke="#000" stroke-width="0.95" />
<line x1="461.9" y1="317.3" x2="465.5" y2="317.3" stroke="#000" stroke-width="0.95" />
<circle cx="463.7" cy="305.9" r="1.55" fill="#5a80e2" stroke="#0a0a0a" stroke-width="0.8"/>
<circle cx="463.7" cy="314.8" r="1.55" fill="#5a80e2" stroke="#0a0a0a" stroke-width="0.8"/>
<circle cx="462.4" cy="318.6" r="1.55" fill="#5a80e2" stroke="#0a0a0a" stroke-width="0.8"/>
<circle cx="464.6" cy="323.2" r="1.55" fill="#5a80e2" stroke="#0a0a0a" stroke-width="0.8"/>
<line x1="472.85" y1="309.5" x2="472.85" y2="314.5" stroke="#000" stroke-width="0.95" />
<line x1="471.05" y1="309.5" x2="474.65" y2="309.5" stroke="#000" stroke-width="0.95" />
<line x1="471.05" y1="314.5" x2="474.65" y2="314.5" stroke="#000" stroke-width="0.95" />
<circle cx="472.5" cy="301.8" r="1.55" fill="#1c8a3c" stroke="#0a0a0a" stroke-width="0.8"/>
<circle cx="471.7" cy="310.2" r="1.55" fill="#1c8a3c" stroke="#0a0a0a" stroke-width="0.8"/>
<circle cx="474.3" cy="313.9" r="1.55" fill="#1c8a3c" stroke="#0a0a0a" stroke-width="0.8"/>
<circle cx="472.5" cy="321.9" r="1.55" fill="#1c8a3c" stroke="#0a0a0a" stroke-width="0.8"/>
<line x1="482" y1="315.7" x2="482" y2="320.7" stroke="#000" stroke-width="0.95" />
<line x1="480.2" y1="315.7" x2="483.8" y2="315.7" stroke="#000" stroke-width="0.95" />
<line x1="480.2" y1="320.7" x2="483.8" y2="320.7" stroke="#000" stroke-width="0.95" />
<circle cx="481.4" cy="308.3" r="1.55" fill="#1c8a3c" stroke="#0a0a0a" stroke-width="0.8"/>
<circle cx="481.4" cy="314.8" r="1.55" fill="#1c8a3c" stroke="#0a0a0a" stroke-width="0.8"/>
<circle cx="480.5" cy="323.2" r="1.55" fill="#1c8a3c" stroke="#0a0a0a" stroke-width="0.8"/>
<circle cx="481.8" cy="329.4" r="1.55" fill="#1c8a3c" stroke="#0a0a0a" stroke-width="0.8"/>
<line x1="420.3" y1="293.4" x2="465" y2="293.4" stroke="#444" stroke-width="1" />
<text x="444.1" y="292" font-size="5.5" text-anchor="middle">#</text>
<text x="464.3" y="302.4" font-size="8" text-anchor="middle" font-weight="bold">*</text>
<text x="412.1" y="379.2" font-size="6.9" text-anchor="middle">B</text>
<text x="421.4" y="379.2" font-size="6.9" text-anchor="middle">I</text>
<text x="430.2" y="379.2" font-size="6.9" text-anchor="middle">B</text>
<text x="439.1" y="379.2" font-size="6.9" text-anchor="middle">I</text>
<text x="454.4" y="379.2" font-size="6.9" text-anchor="middle">B</text>
<text x="463.7" y="379.2" font-size="6.9" text-anchor="middle">I</text>
<text x="472.5" y="379.2" font-size="6.9" text-anchor="middle">B</text>
<text x="481.4" y="379.2" font-size="6.9" text-anchor="middle">I</text>
<line x1="409.1" y1="382" x2="422.7" y2="382" stroke="#333" stroke-width="1.05" />
<line x1="427.7" y1="382" x2="440.8" y2="382" stroke="#333" stroke-width="1.05" />
<line x1="451.6" y1="382" x2="465" y2="382" stroke="#333" stroke-width="1.05" />
<line x1="470.6" y1="382" x2="483.3" y2="382" stroke="#333" stroke-width="1.05" />
<text x="420.3" y="388.3" font-size="7.1" text-anchor="end" transform="rotate(-45 420.3 388.3)">Control</text>
<text x="438.3" y="388.8" font-size="7.1" text-anchor="end" transform="rotate(-45 438.3 388.8)">β-MCD</text>
<text x="463.5" y="388.3" font-size="7.1" text-anchor="end" transform="rotate(-45 463.5 388.3)">Control</text>
<text x="482" y="388.8" font-size="7.1" text-anchor="end" transform="rotate(-45 482 388.8)">β-MCD</text>
<text x="412.7" y="410.8" font-size="6.8" textLength="25.4" lengthAdjust="spacingAndGlyphs" font-weight="bold">Control</text>
<text x="458.5" y="410.8" font-size="6.8" textLength="19.2" lengthAdjust="spacingAndGlyphs" font-weight="bold">HEXA</text>
<text x="379.4" y="329.3" font-size="6.9" textLength="53" lengthAdjust="spacingAndGlyphs" text-anchor="middle" font-weight="bold" transform="rotate(-90 379.4 329.3)">Glucose uptake</text>
<text x="387.6" y="329.8" font-size="6.9" textLength="56.3" lengthAdjust="spacingAndGlyphs" text-anchor="middle" font-weight="bold" transform="rotate(-90 387.6 329.8)">(nmol/mg tissue)</text>
<text x="0" y="434.6" font-size="12.5" font-weight="bold">M</text>
<text x="35.1" y="443.8" font-size="6.8" textLength="152.4" lengthAdjust="spacingAndGlyphs" font-weight="bold" xml:space="preserve">GLUT4 translocation  to the plasma  membrane</text>
<rect x="34.6" y="446.1" width="10.95" height="2.27" fill="#0a2a5a"/>
<rect x="34.6" y="448.33" width="10.95" height="2.27" fill="#082444"/>
<rect x="34.6" y="450.55" width="10.95" height="2.27" fill="#0a3c78"/>
<rect x="34.6" y="452.78" width="10.95" height="2.27" fill="#0a3c78"/>
<rect x="34.6" y="455" width="10.95" height="2.27" fill="#0a3a74"/>
<rect x="34.6" y="457.23" width="10.95" height="2.27" fill="#061a38"/>
<rect x="34.6" y="459.45" width="10.95" height="2.27" fill="#f0f000"/>
<rect x="34.6" y="461.68" width="10.95" height="2.27" fill="#0a3a7a"/>
<rect x="34.6" y="463.9" width="10.95" height="2.27" fill="#101008"/>
<rect x="34.6" y="466.12" width="10.95" height="2.27" fill="#e8e800"/>
<rect x="34.6" y="468.35" width="10.95" height="2.27" fill="#6a6a00"/>
<rect x="34.6" y="470.58" width="10.95" height="2.27" fill="#080808"/>
<rect x="45.5" y="446.1" width="10.95" height="2.27" fill="#0a3068"/>
<rect x="45.5" y="448.33" width="10.95" height="2.27" fill="#0a3068"/>
<rect x="45.5" y="450.55" width="10.95" height="2.27" fill="#0a3068"/>
<rect x="45.5" y="452.78" width="10.95" height="2.27" fill="#050505"/>
<rect x="45.5" y="455" width="10.95" height="2.27" fill="#1a70d0"/>
<rect x="45.5" y="457.23" width="10.95" height="2.27" fill="#1a70d0"/>
<rect x="45.5" y="459.45" width="10.95" height="2.27" fill="#d0d000"/>
<rect x="45.5" y="461.68" width="10.95" height="2.27" fill="#050505"/>
<rect x="45.5" y="463.9" width="10.95" height="2.27" fill="#303000"/>
<rect x="45.5" y="466.12" width="10.95" height="2.27" fill="#b0b000"/>
<rect x="45.5" y="468.35" width="10.95" height="2.27" fill="#b0b000"/>
<rect x="45.5" y="470.58" width="10.95" height="2.27" fill="#a8a800"/>
<rect x="56.4" y="446.1" width="10.95" height="2.27" fill="#1456a8"/>
<rect x="56.4" y="448.33" width="10.95" height="2.27" fill="#1a6cc8"/>
<rect x="56.4" y="450.55" width="10.95" height="2.27" fill="#1a6cc8"/>
<rect x="56.4" y="452.78" width="10.95" height="2.27" fill="#0a2448"/>
<rect x="56.4" y="455" width="10.95" height="2.27" fill="#0a3060"/>
<rect x="56.4" y="457.23" width="10.95" height="2.27" fill="#0a3060"/>
<rect x="56.4" y="459.45" width="10.95" height="2.27" fill="#0a1a30"/>
<rect x="56.4" y="461.68" width="10.95" height="2.27" fill="#a8a800"/>
<rect x="56.4" y="463.9" width="10.95" height="2.27" fill="#a8a800"/>
<rect x="56.4" y="466.12" width="10.95" height="2.27" fill="#8a8a00"/>
<rect x="56.4" y="468.35" width="10.95" height="2.27" fill="#a0a000"/>
<rect x="56.4" y="470.58" width="10.95" height="2.27" fill="#a0a000"/>
<rect x="67.3" y="446.1" width="10.95" height="2.27" fill="#0a2850"/>
<rect x="67.3" y="448.33" width="10.95" height="2.27" fill="#0e4a90"/>
<rect x="67.3" y="450.55" width="10.95" height="2.27" fill="#1a80e0"/>
<rect x="67.3" y="452.78" width="10.95" height="2.27" fill="#0a2040"/>
<rect x="67.3" y="455" width="10.95" height="2.27" fill="#0a1f3c"/>
<rect x="67.3" y="457.23" width="10.95" height="2.27" fill="#0a0a0a"/>
<rect x="67.3" y="459.45" width="10.95" height="2.27" fill="#101008"/>
<rect x="67.3" y="461.68" width="10.95" height="2.27" fill="#404000"/>
<rect x="67.3" y="463.9" width="10.95" height="2.27" fill="#505000"/>
<rect x="67.3" y="466.12" width="10.95" height="2.27" fill="#c0c000"/>
<rect x="67.3" y="468.35" width="10.95" height="2.27" fill="#c8c800"/>
<rect x="67.3" y="470.58" width="10.95" height="2.27" fill="#a0a000"/>
<rect x="78.2" y="446.1" width="10.95" height="2.27" fill="#0a50a0"/>
<rect x="78.2" y="448.33" width="10.95" height="2.27" fill="#0a4a90"/>
<rect x="78.2" y="450.55" width="10.95" height="2.27" fill="#0a4a90"/>
<rect x="78.2" y="452.78" width="10.95" height="2.27" fill="#0a4080"/>
<rect x="78.2" y="455" width="10.95" height="2.27" fill="#0a3468"/>
<rect x="78.2" y="457.23" width="10.95" height="2.27" fill="#0a2a50"/>
<rect x="78.2" y="459.45" width="10.95" height="2.27" fill="#6a6a00"/>
<rect x="78.2" y="461.68" width="10.95" height="2.27" fill="#202010"/>
<rect x="78.2" y="463.9" width="10.95" height="2.27" fill="#2a2a08"/>
<rect x="78.2" y="466.12" width="10.95" height="2.27" fill="#505000"/>
<rect x="78.2" y="468.35" width="10.95" height="2.27" fill="#c8c800"/>
<rect x="78.2" y="470.58" width="10.95" height="2.27" fill="#d8d800"/>
<rect x="89.1" y="446.1" width="10.95" height="2.27" fill="#081830"/>
<rect x="89.1" y="448.33" width="10.95" height="2.27" fill="#0a1a30"/>
<rect x="89.1" y="450.55" width="10.95" height="2.27" fill="#1a80e0"/>
<rect x="89.1" y="452.78" width="10.95" height="2.27" fill="#1a78d8"/>
<rect x="89.1" y="455" width="10.95" height="2.27" fill="#080808"/>
<rect x="89.1" y="457.23" width="10.95" height="2.27" fill="#101010"/>
<rect x="89.1" y="459.45" width="10.95" height="2.27" fill="#0a2a50"/>
<rect x="89.1" y="461.68" width="10.95" height="2.27" fill="#303000"/>
<rect x="89.1" y="463.9" width="10.95" height="2.27" fill="#c8c800"/>
<rect x="89.1" y="466.12" width="10.95" height="2.27" fill="#d0d000"/>
<rect x="89.1" y="468.35" width="10.95" height="2.27" fill="#707000"/>
<rect x="89.1" y="470.58" width="10.95" height="2.27" fill="#101000"/>
<rect x="100" y="446.1" width="10.95" height="2.27" fill="#1a80e0"/>
<rect x="100" y="448.33" width="10.95" height="2.27" fill="#0a4a90"/>
<rect x="100" y="450.55" width="10.95" height="2.27" fill="#0a3a70"/>
<rect x="100" y="452.78" width="10.95" height="2.27" fill="#a0a000"/>
<rect x="100" y="455" width="10.95" height="2.27" fill="#050508"/>
<rect x="100" y="457.23" width="10.95" height="2.27" fill="#080808"/>
<rect x="100" y="459.45" width="10.95" height="2.27" fill="#e0e000"/>
<rect x="100" y="461.68" width="10.95" height="2.27" fill="#0a3a78"/>
<rect x="100" y="463.9" width="10.95" height="2.27" fill="#050505"/>
<rect x="100" y="466.12" width="10.95" height="2.27" fill="#606000"/>
<rect x="100" y="468.35" width="10.95" height="2.27" fill="#505000"/>
<rect x="100" y="470.58" width="10.95" height="2.27" fill="#8a8a00"/>
<rect x="110.9" y="446.1" width="10.95" height="2.27" fill="#404000"/>
<rect x="110.9" y="448.33" width="10.95" height="2.27" fill="#b8b800"/>
<rect x="110.9" y="450.55" width="10.95" height="2.27" fill="#505000"/>
<rect x="110.9" y="452.78" width="10.95" height="2.27" fill="#b0b000"/>
<rect x="110.9" y="455" width="10.95" height="2.27" fill="#0a2040"/>
<rect x="110.9" y="457.23" width="10.95" height="2.27" fill="#0a1830"/>
<rect x="110.9" y="459.45" width="10.95" height="2.27" fill="#1a80e0"/>
<rect x="110.9" y="461.68" width="10.95" height="2.27" fill="#0a1a30"/>
<rect x="110.9" y="463.9" width="10.95" height="2.27" fill="#080808"/>
<rect x="110.9" y="466.12" width="10.95" height="2.27" fill="#101010"/>
<rect x="110.9" y="468.35" width="10.95" height="2.27" fill="#1060b8"/>
<rect x="110.9" y="470.58" width="10.95" height="2.27" fill="#404000"/>
<rect x="121.8" y="446.1" width="10.95" height="2.27" fill="#a0a000"/>
<rect x="121.8" y="448.33" width="10.95" height="2.27" fill="#909000"/>
<rect x="121.8" y="450.55" width="10.95" height="2.27" fill="#b0b000"/>
<rect x="121.8" y="452.78" width="10.95" height="2.27" fill="#808000"/>
<rect x="121.8" y="455" width="10.95" height="2.27" fill="#5a5a00"/>
<rect x="121.8" y="457.23" width="10.95" height="2.27" fill="#606000"/>
<rect x="121.8" y="459.45" width="10.95" height="2.27" fill="#0a5aa8"/>
<rect x="121.8" y="461.68" width="10.95" height="2.27" fill="#0a4a98"/>
<rect x="121.8" y="463.9" width="10.95" height="2.27" fill="#0a4a98"/>
<rect x="121.8" y="466.12" width="10.95" height="2.27" fill="#0a4a98"/>
<rect x="121.8" y="468.35" width="10.95" height="2.27" fill="#0a4a98"/>
<rect x="121.8" y="470.58" width="10.95" height="2.27" fill="#0a4a98"/>
<rect x="132.7" y="446.1" width="10.95" height="2.27" fill="#101008"/>
<rect x="132.7" y="448.33" width="10.95" height="2.27" fill="#c8c800"/>
<rect x="132.7" y="450.55" width="10.95" height="2.27" fill="#e0e000"/>
<rect x="132.7" y="452.78" width="10.95" height="2.27" fill="#a0a000"/>
<rect x="132.7" y="455" width="10.95" height="2.27" fill="#404000"/>
<rect x="132.7" y="457.23" width="10.95" height="2.27" fill="#504800"/>
<rect x="132.7" y="459.45" width="10.95" height="2.27" fill="#0a5aa8"/>
<rect x="132.7" y="461.68" width="10.95" height="2.27" fill="#0a3a78"/>
<rect x="132.7" y="463.9" width="10.95" height="2.27" fill="#0a3a78"/>
<rect x="132.7" y="466.12" width="10.95" height="2.27" fill="#1060c0"/>
<rect x="132.7" y="468.35" width="10.95" height="2.27" fill="#0a2448"/>
<rect x="132.7" y="470.58" width="10.95" height="2.27" fill="#0a3068"/>
<rect x="143.6" y="446.1" width="10.95" height="2.27" fill="#909000"/>
<rect x="143.6" y="448.33" width="10.95" height="2.27" fill="#8a8a00"/>
<rect x="143.6" y="450.55" width="10.95" height="2.27" fill="#808000"/>
<rect x="143.6" y="452.78" width="10.95" height="2.27" fill="#080808"/>
<rect x="143.6" y="455" width="10.95" height="2.27" fill="#0a0a0a"/>
<rect x="143.6" y="457.23" width="10.95" height="2.27" fill="#b0b000"/>
<rect x="143.6" y="459.45" width="10.95" height="2.27" fill="#0a5ab0"/>
<rect x="143.6" y="461.68" width="10.95" height="2.27" fill="#080810"/>
<rect x="143.6" y="463.9" width="10.95" height="2.27" fill="#050505"/>
<rect x="143.6" y="466.12" width="10.95" height="2.27" fill="#1060c0"/>
<rect x="143.6" y="468.35" width="10.95" height="2.27" fill="#0a2040"/>
<rect x="143.6" y="470.58" width="10.95" height="2.27" fill="#1a70d8"/>
<rect x="154.5" y="446.1" width="10.95" height="2.27" fill="#909000"/>
<rect x="154.5" y="448.33" width="10.95" height="2.27" fill="#0a0a08"/>
<rect x="154.5" y="450.55" width="10.95" height="2.27" fill="#c0c000"/>
<rect x="154.5" y="452.78" width="10.95" height="2.27" fill="#909000"/>
<rect x="154.5" y="455" width="10.95" height="2.27" fill="#707000"/>
<rect x="154.5" y="457.23" width="10.95" height="2.27" fill="#303000"/>
<rect x="154.5" y="459.45" width="10.95" height="2.27" fill="#0a1a30"/>
<rect x="154.5" y="461.68" width="10.95" height="2.27" fill="#1060b8"/>
<rect x="154.5" y="463.9" width="10.95" height="2.27" fill="#080810"/>
<rect x="154.5" y="466.12" width="10.95" height="2.27" fill="#0a50a0"/>
<rect x="154.5" y="468.35" width="10.95" height="2.27" fill="#0a5ab0"/>
<rect x="154.5" y="470.58" width="10.95" height="2.27" fill="#0a5ab0"/>
<rect x="165.4" y="446.1" width="10.95" height="2.27" fill="#b0b000"/>
<rect x="165.4" y="448.33" width="10.95" height="2.27" fill="#b8b800"/>
<rect x="165.4" y="450.55" width="10.95" height="2.27" fill="#303000"/>
<rect x="165.4" y="452.78" width="10.95" height="2.27" fill="#606000"/>
<rect x="165.4" y="455" width="10.95" height="2.27" fill="#a8a800"/>
<rect x="165.4" y="457.23" width="10.95" height="2.27" fill="#6a6000"/>
<rect x="165.4" y="459.45" width="10.95" height="2.27" fill="#0a2040"/>
<rect x="165.4" y="461.68" width="10.95" height="2.27" fill="#0a4a90"/>
<rect x="165.4" y="463.9" width="10.95" height="2.27" fill="#0a3a70"/>
<rect x="165.4" y="466.12" width="10.95" height="2.27" fill="#0a4a90"/>
<rect x="165.4" y="468.35" width="10.95" height="2.27" fill="#0a4a98"/>
<rect x="165.4" y="470.58" width="10.95" height="2.27" fill="#0a50a8"/>
<rect x="176.3" y="446.1" width="10.95" height="2.27" fill="#404000"/>
<rect x="176.3" y="448.33" width="10.95" height="2.27" fill="#a0a000"/>
<rect x="176.3" y="450.55" width="10.95" height="2.27" fill="#202000"/>
<rect x="176.3" y="452.78" width="10.95" height="2.27" fill="#b0b000"/>
<rect x="176.3" y="455" width="10.95" height="2.27" fill="#a0a000"/>
<rect x="176.3" y="457.23" width="10.95" height="2.27" fill="#909000"/>
<rect x="176.3" y="459.45" width="10.95" height="2.27" fill="#0a0a10"/>
<rect x="176.3" y="461.68" width="10.95" height="2.27" fill="#0a3a70"/>
<rect x="176.3" y="463.9" width="10.95" height="2.27" fill="#0a3a70"/>
<rect x="176.3" y="466.12" width="10.95" height="2.27" fill="#050510"/>
<rect x="176.3" y="468.35" width="10.95" height="2.27" fill="#1a78e0"/>
<rect x="176.3" y="470.58" width="10.95" height="2.27" fill="#1060c0"/>
<rect x="187.2" y="446.1" width="10.95" height="2.27" fill="#080808"/>
<rect x="187.2" y="448.33" width="10.95" height="2.27" fill="#404000"/>
<rect x="187.2" y="450.55" width="10.95" height="2.27" fill="#050505"/>
<rect x="187.2" y="452.78" width="10.95" height="2.27" fill="#808000"/>
<rect x="187.2" y="455" width="10.95" height="2.27" fill="#f8f800"/>
<rect x="187.2" y="457.23" width="10.95" height="2.27" fill="#080808"/>
<rect x="187.2" y="459.45" width="10.95" height="2.27" fill="#0a2850"/>
<rect x="187.2" y="461.68" width="10.95" height="2.27" fill="#0a3a70"/>
<rect x="187.2" y="463.9" width="10.95" height="2.27" fill="#0a3a70"/>
<rect x="187.2" y="466.12" width="10.95" height="2.27" fill="#0a4a98"/>
<rect x="187.2" y="468.35" width="10.95" height="2.27" fill="#0a2040"/>
<rect x="187.2" y="470.58" width="10.95" height="2.27" fill="#050a18"/>
<line x1="33.1" y1="446.5" x2="33.1" y2="458.6" stroke="#808080" stroke-width="1.2" />
<line x1="33.1" y1="459.7" x2="33.1" y2="472.4" stroke="#808080" stroke-width="1.2" />
<text x="6.9" y="455.1" font-size="6.8" textLength="24.4" lengthAdjust="spacingAndGlyphs" font-weight="bold">Control</text>
<text x="12" y="468" font-size="6.8" textLength="18.6" lengthAdjust="spacingAndGlyphs" font-weight="bold">HEXA</text>
<text x="38.55" y="474.9" font-size="6.1" text-anchor="end" transform="rotate(-90 38.55 474.9)">Myo5a</text>
<text x="49.45" y="474.9" font-size="6.1" text-anchor="end" transform="rotate(-90 49.45 474.9)">Tubb3</text>
<text x="60.35" y="474.9" font-size="6.1" text-anchor="end" transform="rotate(-90 60.35 474.9)">Ywhaq</text>
<text x="71.25" y="474.9" font-size="6.1" text-anchor="end" transform="rotate(-90 71.25 474.9)">Myh9</text>
<text x="82.15" y="474.9" font-size="6.1" text-anchor="end" transform="rotate(-90 82.15 474.9)">Actg1</text>
<text x="93.05" y="474.9" font-size="6.1" text-anchor="end" transform="rotate(-90 93.05 474.9)">Ywhab</text>
<text x="103.95" y="474.9" font-size="6.1" text-anchor="end" transform="rotate(-90 103.95 474.9)">Actb</text>
<text x="114.85" y="474.9" font-size="6.1" text-anchor="end" transform="rotate(-90 114.85 474.9)">Exoc7</text>
<text x="125.75" y="474.9" font-size="6.1" text-anchor="end" transform="rotate(-90 125.75 474.9)">Tubb6</text>
<text x="136.65" y="474.9" font-size="6.1" text-anchor="end" transform="rotate(-90 136.65 474.9)">Tubb2a</text>
<text x="147.55" y="474.9" font-size="6.1" text-anchor="end" transform="rotate(-90 147.55 474.9)">Ywhag</text>
<text x="158.45" y="474.9" font-size="6.1" text-anchor="end" transform="rotate(-90 158.45 474.9)">Tuba1b</text>
<text x="169.35" y="474.9" font-size="6.1" text-anchor="end" transform="rotate(-90 169.35 474.9)">Lnpep</text>
<text x="180.25" y="474.9" font-size="6.1" text-anchor="end" transform="rotate(-90 180.25 474.9)">Prkag1</text>
<text x="191.15" y="474.9" font-size="6.1" text-anchor="end" transform="rotate(-90 191.15 474.9)">Tubb4a</text>
<text x="80.9" y="505.4" font-size="5" text-anchor="middle">-2</text>
<text x="94.81" y="505.4" font-size="5" text-anchor="middle">-1.5</text>
<text x="108.72" y="505.4" font-size="5" text-anchor="middle">-1</text>
<text x="122.64" y="505.4" font-size="5" text-anchor="middle">-0.5</text>
<text x="136.55" y="505.4" font-size="5" text-anchor="middle">0</text>
<text x="150.46" y="505.4" font-size="5" text-anchor="middle">0.5</text>
<text x="164.38" y="505.4" font-size="5" text-anchor="middle">1</text>
<text x="178.29" y="505.4" font-size="5" text-anchor="middle">1.5</text>
<text x="192.2" y="505.4" font-size="5" text-anchor="middle">2</text>
<line x1="80.7" y1="508.7" x2="192.6" y2="508.7" stroke="#000" stroke-width="0.5" />
<line x1="136.6" y1="507.5" x2="136.6" y2="511.2" stroke="#000" stroke-width="0.6" />
<defs><linearGradient id="cb" x1="0" x2="1" y1="0" y2="0"><stop offset="0" stop-color="#1e8fff"/><stop offset="0.5" stop-color="#000"/><stop offset="1" stop-color="#ffff1a"/></linearGradient></defs>
<rect x="80.7" y="512.3" width="112.5" height="3.2" fill="url(#cb)"/>
<text x="217.9" y="434.2" font-size="13" font-weight="bold">N</text>
<text x="250.8" y="435.7" font-size="6.1" textLength="18.6" lengthAdjust="spacingAndGlyphs">Control</text>
<line x1="240.7" y1="439.4" x2="281.4" y2="439.4" stroke="#555" stroke-width="0.8" />
<text x="302.8" y="435.8" font-size="6.1" textLength="16" lengthAdjust="spacingAndGlyphs">βMCD</text>
<line x1="291.1" y1="439.5" x2="331.1" y2="439.5" stroke="#555" stroke-width="0.8" />
<line x1="243.3" y1="444.6" x2="245.9" y2="444.6" stroke="#111" stroke-width="1.05" />
<line x1="243.3" y1="450.7" x2="245.9" y2="450.7" stroke="#111" stroke-width="1.05" />
<line x1="254.9" y1="444.6" x2="257.5" y2="444.6" stroke="#111" stroke-width="1.05" />
<line x1="254.7" y1="450.7" x2="257.7" y2="450.7" stroke="#111" stroke-width="0.9" />
<line x1="256.2" y1="449.2" x2="256.2" y2="452.2" stroke="#111" stroke-width="0.9" />
<line x1="267.2" y1="444.6" x2="270.2" y2="444.6" stroke="#111" stroke-width="0.9" />
<line x1="268.7" y1="443.1" x2="268.7" y2="446.1" stroke="#111" stroke-width="0.9" />
<line x1="267.4" y1="450.7" x2="270" y2="450.7" stroke="#111" stroke-width="1.05" />
<line x1="279.2" y1="444.6" x2="282.2" y2="444.6" stroke="#111" stroke-width="0.9" />
<line x1="280.7" y1="443.1" x2="280.7" y2="446.1" stroke="#111" stroke-width="0.9" />
<line x1="279.2" y1="450.7" x2="282.2" y2="450.7" stroke="#111" stroke-width="0.9" />
<line x1="280.7" y1="449.2" x2="280.7" y2="452.2" stroke="#111" stroke-width="0.9" />
<line x1="292.5" y1="444.6" x2="295.1" y2="444.6" stroke="#111" stroke-width="1.05" />
<line x1="292.5" y1="450.7" x2="295.1" y2="450.7" stroke="#111" stroke-width="1.05" />
<line x1="304.5" y1="444.6" x2="307.1" y2="444.6" stroke="#111" stroke-width="1.05" />
<line x1="304.3" y1="450.7" x2="307.3" y2="450.7" stroke="#111" stroke-width="0.9" />
<line x1="305.8" y1="449.2" x2="305.8" y2="452.2" stroke="#111" stroke-width="0.9" />
<line x1="316.7" y1="444.6" x2="319.7" y2="444.6" stroke="#111" stroke-width="0.9" />
<line x1="318.2" y1="443.1" x2="318.2" y2="446.1" stroke="#111" stroke-width="0.9" />
<line x1="316.9" y1="450.7" x2="319.5" y2="450.7" stroke="#111" stroke-width="1.05" />
<line x1="328.5" y1="444.6" x2="331.5" y2="444.6" stroke="#111" stroke-width="0.9" />
<line x1="330" y1="443.1" x2="330" y2="446.1" stroke="#111" stroke-width="0.9" />
<line x1="328.5" y1="450.7" x2="331.5" y2="450.7" stroke="#111" stroke-width="0.9" />
<line x1="330" y1="449.2" x2="330" y2="452.2" stroke="#111" stroke-width="0.9" />
<text x="337.2" y="446.5" font-size="5.9" textLength="15.1" lengthAdjust="spacingAndGlyphs">HEXA</text>
<text x="337.2" y="452.8" font-size="5.9" textLength="16.3" lengthAdjust="spacingAndGlyphs">Insulin</text>
<text x="218.7" y="462.3" font-size="6.8" textLength="17.2" lengthAdjust="spacingAndGlyphs">GLUT4</text>
<text x="218.7" y="475.6" font-size="6.8" textLength="18.4" lengthAdjust="spacingAndGlyphs">Protein</text>
<text x="218.7" y="482.6" font-size="6.8" textLength="18.2" lengthAdjust="spacingAndGlyphs">loading</text>
<rect x="238.1" y="454.7" width="96.5" height="10.8" fill="#a2a2a2" stroke="#707070" stroke-width="0.6" />
<rect x="238.1" y="467" width="96.5" height="26.8" fill="#bdbdbd" stroke="#6a6a6a" stroke-width="0.6" />
<rect x="249.6" y="455.2" width="1.6" height="9.8" fill="#bdbdbd" stroke="none" stroke-width="0.8" />
<rect x="249.8" y="467.5" width="1.2" height="25.8" fill="#cfcfcf" stroke="none" stroke-width="0.8" />
<rect x="261.6" y="455.2" width="1.6" height="9.8" fill="#bdbdbd" stroke="none" stroke-width="0.8" />
<rect x="261.8" y="467.5" width="1.2" height="25.8" fill="#cfcfcf" stroke="none" stroke-width="0.8" />
<rect x="273.9" y="455.2" width="1.6" height="9.8" fill="#bdbdbd" stroke="none" stroke-width="0.8" />
<rect x="274.1" y="467.5" width="1.2" height="25.8" fill="#cfcfcf" stroke="none" stroke-width="0.8" />
<rect x="286.4" y="455.2" width="1.6" height="9.8" fill="#bdbdbd" stroke="none" stroke-width="0.8" />
<rect x="286.6" y="467.5" width="1.2" height="25.8" fill="#cfcfcf" stroke="none" stroke-width="0.8" />
<rect x="299" y="455.2" width="1.6" height="9.8" fill="#bdbdbd" stroke="none" stroke-width="0.8" />
<rect x="299.2" y="467.5" width="1.2" height="25.8" fill="#cfcfcf" stroke="none" stroke-width="0.8" />
<rect x="311.2" y="455.2" width="1.6" height="9.8" fill="#bdbdbd" stroke="none" stroke-width="0.8" />
<rect x="311.4" y="467.5" width="1.2" height="25.8" fill="#cfcfcf" stroke="none" stroke-width="0.8" />
<rect x="323.3" y="455.2" width="1.6" height="9.8" fill="#bdbdbd" stroke="none" stroke-width="0.8" />
<rect x="323.5" y="467.5" width="1.2" height="25.8" fill="#cfcfcf" stroke="none" stroke-width="0.8" />
<defs><filter id="bl" x="-20%" y="-40%" width="140%" height="180%"><feGaussianBlur stdDeviation="0.7"/></filter></defs>
<g filter="url(#bl)">
<ellipse cx="244.6" cy="460.2" rx="4.2" ry="2.2" fill="#5e5e5e"/>
<ellipse cx="256.2" cy="460.2" rx="4.4" ry="2.2" fill="#666666"/>
<ellipse cx="268.7" cy="460.2" rx="5" ry="2.9" fill="#151515"/>
<ellipse cx="280.7" cy="460.2" rx="4.6" ry="2.6" fill="#303030"/>
<ellipse cx="293.8" cy="460.2" rx="4.6" ry="2.4" fill="#5a5a5a"/>
<ellipse cx="305.8" cy="460.2" rx="4.6" ry="2.4" fill="#505050"/>
<ellipse cx="318.2" cy="460.2" rx="4.6" ry="2.3" fill="#666666"/>
<ellipse cx="330" cy="460.2" rx="4.4" ry="2.3" fill="#6e6e6e"/>
</g>
<rect x="239.3" y="469.9" width="10.6" height="1.2" fill="#b8b8b8" stroke="none" stroke-width="0.8" />
<rect x="239.3" y="474.4" width="10.6" height="1.6" fill="#a8a8a8" stroke="none" stroke-width="0.8" />
<rect x="239.3" y="482.6" width="10.6" height="1.6" fill="#a4a4a4" stroke="none" stroke-width="0.8" />
<rect x="239.3" y="485.6" width="10.6" height="1.6" fill="#a8a8a8" stroke="none" stroke-width="0.8" />
<rect x="239.3" y="489.9" width="10.6" height="1.2" fill="#bcbcbc" stroke="none" stroke-width="0.8" />
<rect x="250.9" y="469.9" width="10.6" height="1.2" fill="#b8b8b8" stroke="none" stroke-width="0.8" />
<rect x="250.9" y="474.4" width="10.6" height="1.6" fill="#a8a8a8" stroke="none" stroke-width="0.8" />
<rect x="250.9" y="482.6" width="10.6" height="1.6" fill="#a4a4a4" stroke="none" stroke-width="0.8" />
<rect x="250.9" y="485.6" width="10.6" height="1.6" fill="#a8a8a8" stroke="none" stroke-width="0.8" />
<rect x="250.9" y="489.9" width="10.6" height="1.2" fill="#bcbcbc" stroke="none" stroke-width="0.8" />
<rect x="263.4" y="469.9" width="10.6" height="1.2" fill="#b8b8b8" stroke="none" stroke-width="0.8" />
<rect x="263.4" y="474.4" width="10.6" height="1.6" fill="#a8a8a8" stroke="none" stroke-width="0.8" />
<rect x="263.4" y="482.6" width="10.6" height="1.6" fill="#a4a4a4" stroke="none" stroke-width="0.8" />
<rect x="263.4" y="485.6" width="10.6" height="1.6" fill="#a8a8a8" stroke="none" stroke-width="0.8" />
<rect x="263.4" y="489.9" width="10.6" height="1.2" fill="#bcbcbc" stroke="none" stroke-width="0.8" />
<rect x="275.4" y="469.9" width="10.6" height="1.2" fill="#b8b8b8" stroke="none" stroke-width="0.8" />
<rect x="275.4" y="474.4" width="10.6" height="1.6" fill="#a8a8a8" stroke="none" stroke-width="0.8" />
<rect x="275.4" y="482.6" width="10.6" height="1.6" fill="#a4a4a4" stroke="none" stroke-width="0.8" />
<rect x="275.4" y="485.6" width="10.6" height="1.6" fill="#a8a8a8" stroke="none" stroke-width="0.8" />
<rect x="275.4" y="489.9" width="10.6" height="1.2" fill="#bcbcbc" stroke="none" stroke-width="0.8" />
<rect x="288.5" y="469.9" width="10.6" height="1.2" fill="#b8b8b8" stroke="none" stroke-width="0.8" />
<rect x="288.5" y="474.4" width="10.6" height="1.6" fill="#a8a8a8" stroke="none" stroke-width="0.8" />
<rect x="288.5" y="482.6" width="10.6" height="1.6" fill="#a4a4a4" stroke="none" stroke-width="0.8" />
<rect x="288.5" y="485.6" width="10.6" height="1.6" fill="#a8a8a8" stroke="none" stroke-width="0.8" />
<rect x="288.5" y="489.9" width="10.6" height="1.2" fill="#bcbcbc" stroke="none" stroke-width="0.8" />
<rect x="300.5" y="469.9" width="10.6" height="1.2" fill="#b8b8b8" stroke="none" stroke-width="0.8" />
<rect x="300.5" y="474.4" width="10.6" height="1.6" fill="#a8a8a8" stroke="none" stroke-width="0.8" />
<rect x="300.5" y="482.6" width="10.6" height="1.6" fill="#a4a4a4" stroke="none" stroke-width="0.8" />
<rect x="300.5" y="485.6" width="10.6" height="1.6" fill="#a8a8a8" stroke="none" stroke-width="0.8" />
<rect x="300.5" y="489.9" width="10.6" height="1.2" fill="#bcbcbc" stroke="none" stroke-width="0.8" />
<rect x="312.9" y="469.9" width="10.6" height="1.2" fill="#b8b8b8" stroke="none" stroke-width="0.8" />
<rect x="312.9" y="474.4" width="10.6" height="1.6" fill="#a8a8a8" stroke="none" stroke-width="0.8" />
<rect x="312.9" y="482.6" width="10.6" height="1.6" fill="#a4a4a4" stroke="none" stroke-width="0.8" />
<rect x="312.9" y="485.6" width="10.6" height="1.6" fill="#a8a8a8" stroke="none" stroke-width="0.8" />
<rect x="312.9" y="489.9" width="10.6" height="1.2" fill="#bcbcbc" stroke="none" stroke-width="0.8" />
<rect x="324.7" y="469.9" width="10.6" height="1.2" fill="#b8b8b8" stroke="none" stroke-width="0.8" />
<rect x="324.7" y="474.4" width="10.6" height="1.6" fill="#a8a8a8" stroke="none" stroke-width="0.8" />
<rect x="324.7" y="482.6" width="10.6" height="1.6" fill="#a4a4a4" stroke="none" stroke-width="0.8" />
<rect x="324.7" y="485.6" width="10.6" height="1.6" fill="#a8a8a8" stroke="none" stroke-width="0.8" />
<rect x="324.7" y="489.9" width="10.6" height="1.2" fill="#bcbcbc" stroke="none" stroke-width="0.8" />
<text x="367.4" y="434.1" font-size="13" font-weight="bold">O</text>
<line x1="405" y1="431.9" x2="405" y2="515.2" stroke="#000" stroke-width="0.95" />
<line x1="402.4" y1="431.9" x2="405" y2="431.9" stroke="#000" stroke-width="0.95" />
<text x="400.7" y="434.2" font-size="6.4" text-anchor="end">2.5</text>
<line x1="402.4" y1="448.56" x2="405" y2="448.56" stroke="#000" stroke-width="0.95" />
<text x="400.7" y="450.86" font-size="6.4" text-anchor="end">2.0</text>
<line x1="402.4" y1="465.22" x2="405" y2="465.22" stroke="#000" stroke-width="0.95" />
<text x="400.7" y="467.52" font-size="6.4" text-anchor="end">1.5</text>
<line x1="402.4" y1="481.88" x2="405" y2="481.88" stroke="#000" stroke-width="0.95" />
<text x="400.7" y="484.18" font-size="6.4" text-anchor="end">1.0</text>
<line x1="402.4" y1="498.54" x2="405" y2="498.54" stroke="#000" stroke-width="0.95" />
<text x="400.7" y="500.84" font-size="6.4" text-anchor="end">0.5</text>
<line x1="402.4" y1="515.2" x2="405" y2="515.2" stroke="#000" stroke-width="0.95" />
<text x="400.7" y="517.5" font-size="6.4" text-anchor="end">0.0</text>
<line x1="405" y1="515.2" x2="485.4" y2="515.2" stroke="#000" stroke-width="0.95" />
<rect x="408.8" y="481.8" width="6.2" height="33.4" fill="#fff" stroke="#000" stroke-width="0.8" />
<rect x="416.2" y="456.9" width="6.2" height="58.3" fill="#a9cdf5" stroke="#000" stroke-width="0.8" />
<rect x="428.8" y="462.7" width="5.8" height="52.5" fill="#fff" stroke="#000" stroke-width="0.8" />
<rect x="436.2" y="461.5" width="5.8" height="53.7" fill="#a9cdf5" stroke="#000" stroke-width="0.8" />
<rect x="448.5" y="481.2" width="6.2" height="34" fill="#fff" stroke="#000" stroke-width="0.8" />
<rect x="456.1" y="485.3" width="6.2" height="29.9" fill="#a9cdf5" stroke="#000" stroke-width="0.8" />
<rect x="468.1" y="485.8" width="6.2" height="29.4" fill="#fff" stroke="#000" stroke-width="0.8" />
<rect x="475.7" y="488.5" width="6.2" height="26.7" fill="#a9cdf5" stroke="#000" stroke-width="0.8" />
<line x1="411.9" y1="478.8" x2="411.9" y2="484.6" stroke="#000" stroke-width="0.95" />
<line x1="409.9" y1="478.8" x2="413.9" y2="478.8" stroke="#000" stroke-width="0.95" />
<line x1="409.9" y1="484.6" x2="413.9" y2="484.6" stroke="#000" stroke-width="0.95" />
<circle cx="412" cy="474.2" r="1.5" fill="#5a80e2" stroke="#0a0c18" stroke-width="0.85"/>
<circle cx="409.7" cy="484.2" r="1.5" fill="#5a80e2" stroke="#0a0c18" stroke-width="0.85"/>
<circle cx="412" cy="485.8" r="1.5" fill="#5a80e2" stroke="#0a0c18" stroke-width="0.85"/>
<circle cx="413.8" cy="483" r="1.5" fill="#5a80e2" stroke="#0a0c18" stroke-width="0.85"/>
<line x1="419.3" y1="448.8" x2="419.3" y2="465" stroke="#000" stroke-width="0.95" />
<line x1="417.3" y1="448.8" x2="421.3" y2="448.8" stroke="#000" stroke-width="0.95" />
<line x1="417.3" y1="465" x2="421.3" y2="465" stroke="#000" stroke-width="0.95" />
<circle cx="419.2" cy="441.9" r="1.5" fill="#5a80e2" stroke="#0a0c18" stroke-width="0.85"/>
<circle cx="419.2" cy="445.4" r="1.5" fill="#5a80e2" stroke="#0a0c18" stroke-width="0.85"/>
<circle cx="418.5" cy="467.3" r="1.5" fill="#5a80e2" stroke="#0a0c18" stroke-width="0.85"/>
<circle cx="419.2" cy="474.9" r="1.5" fill="#5a80e2" stroke="#0a0c18" stroke-width="0.85"/>
<line x1="431.7" y1="459" x2="431.7" y2="466" stroke="#000" stroke-width="0.95" />
<line x1="429.7" y1="459" x2="433.7" y2="459" stroke="#000" stroke-width="0.95" />
<line x1="429.7" y1="466" x2="433.7" y2="466" stroke="#000" stroke-width="0.95" />
<circle cx="431.6" cy="452.3" r="1.5" fill="#5a80e2" stroke="#0a0c18" stroke-width="0.85"/>
<circle cx="430" cy="463.8" r="1.5" fill="#5a80e2" stroke="#0a0c18" stroke-width="0.85"/>
<circle cx="432.8" cy="464.6" r="1.5" fill="#5a80e2" stroke="#0a0c18" stroke-width="0.85"/>
<circle cx="431.2" cy="468" r="1.5" fill="#5a80e2" stroke="#0a0c18" stroke-width="0.85"/>
<line x1="439.1" y1="457.5" x2="439.1" y2="465.5" stroke="#000" stroke-width="0.95" />
<line x1="437.1" y1="457.5" x2="441.1" y2="457.5" stroke="#000" stroke-width="0.95" />
<line x1="437.1" y1="465.5" x2="441.1" y2="465.5" stroke="#000" stroke-width="0.95" />
<circle cx="436.9" cy="453.5" r="1.5" fill="#5a80e2" stroke="#0a0c18" stroke-width="0.85"/>
<circle cx="440.4" cy="453" r="1.5" fill="#5a80e2" stroke="#0a0c18" stroke-width="0.85"/>
<circle cx="438.1" cy="458.1" r="1.5" fill="#5a80e2" stroke="#0a0c18" stroke-width="0.85"/>
<circle cx="438.1" cy="475.4" r="1.5" fill="#5a80e2" stroke="#0a0c18" stroke-width="0.85"/>
<line x1="451.6" y1="478.5" x2="451.6" y2="484" stroke="#000" stroke-width="0.95" />
<line x1="449.6" y1="478.5" x2="453.6" y2="478.5" stroke="#000" stroke-width="0.95" />
<line x1="449.6" y1="484" x2="453.6" y2="484" stroke="#000" stroke-width="0.95" />
<circle cx="451.2" cy="477.7" r="1.5" fill="#5a80e2" stroke="#0a0c18" stroke-width="0.85"/>
<circle cx="450.3" cy="481.8" r="1.5" fill="#5a80e2" stroke="#0a0c18" stroke-width="0.85"/>
<circle cx="453.1" cy="482.8" r="1.5" fill="#5a80e2" stroke="#0a0c18" stroke-width="0.85"/>
<circle cx="451.2" cy="486.9" r="1.5" fill="#5a80e2" stroke="#0a0c18" stroke-width="0.85"/>
<line x1="459.2" y1="481" x2="459.2" y2="489.5" stroke="#000" stroke-width="0.95" />
<line x1="457.2" y1="481" x2="461.2" y2="481" stroke="#000" stroke-width="0.95" />
<line x1="457.2" y1="489.5" x2="461.2" y2="489.5" stroke="#000" stroke-width="0.95" />
<circle cx="458.8" cy="473.1" r="1.5" fill="#5a80e2" stroke="#0a0c18" stroke-width="0.85"/>
<circle cx="458.8" cy="481.8" r="1.5" fill="#5a80e2" stroke="#0a0c18" stroke-width="0.85"/>
<circle cx="458.2" cy="489.2" r="1.5" fill="#5a80e2" stroke="#0a0c18" stroke-width="0.85"/>
<circle cx="459.5" cy="495" r="1.5" fill="#5a80e2" stroke="#0a0c18" stroke-width="0.85"/>
<line x1="471.2" y1="481.5" x2="471.2" y2="490" stroke="#000" stroke-width="0.95" />
<line x1="469.2" y1="481.5" x2="473.2" y2="481.5" stroke="#000" stroke-width="0.95" />
<line x1="469.2" y1="490" x2="473.2" y2="490" stroke="#000" stroke-width="0.95" />
<circle cx="471.1" cy="472.6" r="1.5" fill="#5a80e2" stroke="#0a0c18" stroke-width="0.85"/>
<circle cx="470.4" cy="484.6" r="1.5" fill="#5a80e2" stroke="#0a0c18" stroke-width="0.85"/>
<circle cx="472" cy="489.2" r="1.5" fill="#5a80e2" stroke="#0a0c18" stroke-width="0.85"/>
<circle cx="470.4" cy="495" r="1.5" fill="#5a80e2" stroke="#0a0c18" stroke-width="0.85"/>
<line x1="478.8" y1="481" x2="478.8" y2="496" stroke="#000" stroke-width="0.95" />
<line x1="476.8" y1="481" x2="480.8" y2="481" stroke="#000" stroke-width="0.95" />
<line x1="476.8" y1="496" x2="480.8" y2="496" stroke="#000" stroke-width="0.95" />
<circle cx="478.5" cy="468.9" r="1.5" fill="#5a80e2" stroke="#0a0c18" stroke-width="0.85"/>
<circle cx="478" cy="486.9" r="1.5" fill="#5a80e2" stroke="#0a0c18" stroke-width="0.85"/>
<circle cx="478.9" cy="492" r="1.5" fill="#5a80e2" stroke="#0a0c18" stroke-width="0.85"/>
<circle cx="478.5" cy="500.8" r="1.5" fill="#5a80e2" stroke="#0a0c18" stroke-width="0.85"/>
<line x1="411" y1="431.5" x2="431.2" y2="431.5" stroke="#333" stroke-width="1" />
<text x="421.9" y="433.1" font-size="9" text-anchor="middle" font-weight="bold">*</text>
<text x="419.2" y="440.6" font-size="8" text-anchor="middle" font-weight="bold">*</text>
<rect x="449.6" y="440.8" width="3.9" height="3.5" fill="#fff" stroke="#000" stroke-width="0.75" />
<rect x="449.6" y="448.2" width="3.9" height="3.5" fill="#a9cdf5" stroke="#000" stroke-width="0.75" />
<text x="457.7" y="444.4" font-size="6.5" textLength="20.6" lengthAdjust="spacingAndGlyphs">Control</text>
<text x="457.7" y="451.8" font-size="6.5" textLength="17.2" lengthAdjust="spacingAndGlyphs">HEXA</text>
<line x1="410.2" y1="520.2" x2="412.8" y2="520.2" stroke="#111" stroke-width="1.05" />
<line x1="417.5" y1="520.2" x2="420.1" y2="520.2" stroke="#111" stroke-width="1.05" />
<line x1="429.3" y1="520.2" x2="432.3" y2="520.2" stroke="#111" stroke-width="0.9" />
<line x1="430.8" y1="518.7" x2="430.8" y2="521.7" stroke="#111" stroke-width="0.9" />
<line x1="437" y1="520.2" x2="440" y2="520.2" stroke="#111" stroke-width="0.9" />
<line x1="438.5" y1="518.7" x2="438.5" y2="521.7" stroke="#111" stroke-width="0.9" />
<line x1="449.7" y1="520.2" x2="452.3" y2="520.2" stroke="#111" stroke-width="1.05" />
<line x1="456.4" y1="520.2" x2="459" y2="520.2" stroke="#111" stroke-width="1.05" />
<line x1="469.7" y1="520.2" x2="472.7" y2="520.2" stroke="#111" stroke-width="0.9" />
<line x1="471.2" y1="518.7" x2="471.2" y2="521.7" stroke="#111" stroke-width="0.9" />
<line x1="476.4" y1="520.2" x2="479.4" y2="520.2" stroke="#111" stroke-width="0.9" />
<line x1="477.9" y1="518.7" x2="477.9" y2="521.7" stroke="#111" stroke-width="0.9" />
<text x="485.4" y="522.4" font-size="6.4" textLength="18.2" lengthAdjust="spacingAndGlyphs">Insulin</text>
<line x1="408.7" y1="526.3" x2="441.3" y2="526.3" stroke="#333" stroke-width="0.85" />
<line x1="449.6" y1="526.3" x2="480.8" y2="526.3" stroke="#333" stroke-width="0.85" />
<text x="416.4" y="533.5" font-size="7" textLength="16.2" lengthAdjust="spacingAndGlyphs">Basal</text>
<text x="457.7" y="533.5" font-size="7" textLength="22.5" lengthAdjust="spacingAndGlyphs">β-MCD</text>
<text x="379.3" y="473.5" font-size="6.7" textLength="71.5" lengthAdjust="spacingAndGlyphs" text-anchor="middle" font-weight="bold" transform="rotate(-90 379.3 473.5)">GLUT4 protein content</text>
<text x="387.8" y="473.4" font-size="6.8" textLength="63.5" lengthAdjust="spacingAndGlyphs" text-anchor="middle" font-weight="bold" transform="rotate(-90 387.8 473.4)">(relative to Control)</text>
</svg>
</body></html>
